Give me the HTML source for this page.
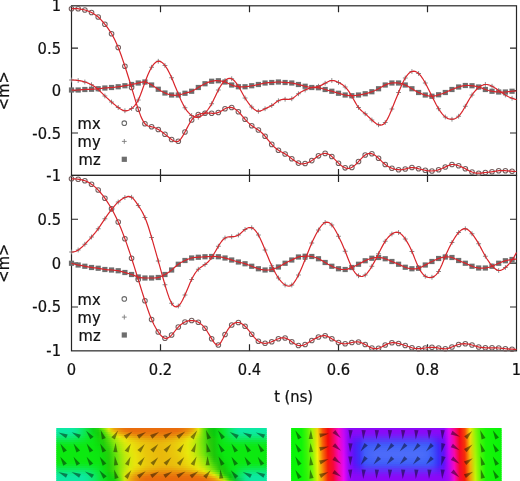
<!DOCTYPE html>
<html lang="en"><head><meta charset="utf-8"><title>m(t) comparison</title>
<style>html,body{margin:0;padding:0;background:#fff}body{width:520px;height:481px;overflow:hidden;position:relative}svg{position:absolute;left:0;top:0;display:block;filter:blur(0.35px)}text{font-family:"DejaVu Sans", "Liberation Sans", sans-serif;font-size:15.4px;fill:#111;stroke:#111;stroke-width:0.25px}</style></head><body>
<svg width="520" height="492" viewBox="0 0 520 492">
<rect width="520" height="492" fill="#fff"/>
<defs>
<linearGradient id="L0" gradientUnits="userSpaceOnUse" x1="56.25" y1="0" x2="266.81" y2="0"><stop offset="0.000" stop-color="#0ce9a3"/><stop offset="0.025" stop-color="#0ce9a3"/><stop offset="0.050" stop-color="#0ce9a3"/><stop offset="0.075" stop-color="#0ce9a1"/><stop offset="0.100" stop-color="#0ce98a"/><stop offset="0.125" stop-color="#0ce864"/><stop offset="0.150" stop-color="#0ce03a"/><stop offset="0.175" stop-color="#0bd119"/><stop offset="0.200" stop-color="#20d60b"/><stop offset="0.225" stop-color="#7ae50c"/><stop offset="0.250" stop-color="#e8e40c"/><stop offset="0.275" stop-color="#e9a40c"/><stop offset="0.300" stop-color="#e9860c"/><stop offset="0.325" stop-color="#e9740c"/><stop offset="0.350" stop-color="#e96c0c"/><stop offset="0.375" stop-color="#e96c0c"/><stop offset="0.400" stop-color="#e96c0c"/><stop offset="0.425" stop-color="#e96c0c"/><stop offset="0.450" stop-color="#e96c0c"/><stop offset="0.475" stop-color="#e96c0c"/><stop offset="0.500" stop-color="#e96c0c"/><stop offset="0.525" stop-color="#e96c0c"/><stop offset="0.550" stop-color="#e96c0c"/><stop offset="0.575" stop-color="#e96c0c"/><stop offset="0.600" stop-color="#e9760c"/><stop offset="0.625" stop-color="#e9890c"/><stop offset="0.650" stop-color="#e9aa0c"/><stop offset="0.675" stop-color="#e0e80c"/><stop offset="0.700" stop-color="#6be10c"/><stop offset="0.725" stop-color="#19cb0b"/><stop offset="0.750" stop-color="#0bc80e"/><stop offset="0.775" stop-color="#0cdf17"/><stop offset="0.800" stop-color="#0ce839"/><stop offset="0.825" stop-color="#0ce966"/><stop offset="0.850" stop-color="#0ce98f"/><stop offset="0.875" stop-color="#0ce9a3"/><stop offset="0.900" stop-color="#0ce9a3"/><stop offset="0.925" stop-color="#0ce9a3"/><stop offset="0.950" stop-color="#0ce9a3"/><stop offset="0.975" stop-color="#0ce9a3"/><stop offset="1.000" stop-color="#0ce9a3"/></linearGradient>
<linearGradient id="L1" gradientUnits="userSpaceOnUse" x1="56.25" y1="0" x2="266.81" y2="0"><stop offset="0.000" stop-color="#0ce9a3"/><stop offset="0.025" stop-color="#0ce9a3"/><stop offset="0.050" stop-color="#0ce9a3"/><stop offset="0.075" stop-color="#0ce9a0"/><stop offset="0.100" stop-color="#0ce98a"/><stop offset="0.125" stop-color="#0ce864"/><stop offset="0.150" stop-color="#0ce43b"/><stop offset="0.175" stop-color="#0bd519"/><stop offset="0.200" stop-color="#17d20b"/><stop offset="0.225" stop-color="#5be10c"/><stop offset="0.250" stop-color="#cae80c"/><stop offset="0.275" stop-color="#e9bb0c"/><stop offset="0.300" stop-color="#e9950c"/><stop offset="0.325" stop-color="#e97d0c"/><stop offset="0.350" stop-color="#e9710c"/><stop offset="0.375" stop-color="#e96e0c"/><stop offset="0.400" stop-color="#e96e0c"/><stop offset="0.425" stop-color="#e96e0c"/><stop offset="0.450" stop-color="#e96e0c"/><stop offset="0.475" stop-color="#e96e0c"/><stop offset="0.500" stop-color="#e96e0c"/><stop offset="0.525" stop-color="#e96e0c"/><stop offset="0.550" stop-color="#e96e0c"/><stop offset="0.575" stop-color="#e96f0c"/><stop offset="0.600" stop-color="#e97b0c"/><stop offset="0.625" stop-color="#e9910c"/><stop offset="0.650" stop-color="#e9b30c"/><stop offset="0.675" stop-color="#d7e80c"/><stop offset="0.700" stop-color="#6ae10c"/><stop offset="0.725" stop-color="#1cca0b"/><stop offset="0.750" stop-color="#0bc90e"/><stop offset="0.775" stop-color="#0ce017"/><stop offset="0.800" stop-color="#0ce839"/><stop offset="0.825" stop-color="#0ce966"/><stop offset="0.850" stop-color="#0ce98f"/><stop offset="0.875" stop-color="#0ce9a2"/><stop offset="0.900" stop-color="#0ce9a3"/><stop offset="0.925" stop-color="#0ce9a3"/><stop offset="0.950" stop-color="#0ce9a3"/><stop offset="0.975" stop-color="#0ce9a3"/><stop offset="1.000" stop-color="#0ce9a3"/></linearGradient>
<linearGradient id="L2" gradientUnits="userSpaceOnUse" x1="56.25" y1="0" x2="266.81" y2="0"><stop offset="0.000" stop-color="#0ce99b"/><stop offset="0.025" stop-color="#0ce99b"/><stop offset="0.050" stop-color="#0ce99b"/><stop offset="0.075" stop-color="#0ce999"/><stop offset="0.100" stop-color="#0ce984"/><stop offset="0.125" stop-color="#0ce860"/><stop offset="0.150" stop-color="#0ce639"/><stop offset="0.175" stop-color="#0bd919"/><stop offset="0.200" stop-color="#13cf0b"/><stop offset="0.225" stop-color="#44dd0c"/><stop offset="0.250" stop-color="#a8e70c"/><stop offset="0.275" stop-color="#e9d60c"/><stop offset="0.300" stop-color="#e9aa0c"/><stop offset="0.325" stop-color="#e9910c"/><stop offset="0.350" stop-color="#e9810c"/><stop offset="0.375" stop-color="#e9770c"/><stop offset="0.400" stop-color="#e9760c"/><stop offset="0.425" stop-color="#e9760c"/><stop offset="0.450" stop-color="#e9760c"/><stop offset="0.475" stop-color="#e9760c"/><stop offset="0.500" stop-color="#e9760c"/><stop offset="0.525" stop-color="#e9760c"/><stop offset="0.550" stop-color="#e9760c"/><stop offset="0.575" stop-color="#e97d0c"/><stop offset="0.600" stop-color="#e9880c"/><stop offset="0.625" stop-color="#e9a00c"/><stop offset="0.650" stop-color="#e9c40c"/><stop offset="0.675" stop-color="#cbe80c"/><stop offset="0.700" stop-color="#6ae00c"/><stop offset="0.725" stop-color="#20ca0b"/><stop offset="0.750" stop-color="#0bca0e"/><stop offset="0.775" stop-color="#0ce016"/><stop offset="0.800" stop-color="#0ce837"/><stop offset="0.825" stop-color="#0ce962"/><stop offset="0.850" stop-color="#0ce988"/><stop offset="0.875" stop-color="#0ce99b"/><stop offset="0.900" stop-color="#0ce99b"/><stop offset="0.925" stop-color="#0ce99b"/><stop offset="0.950" stop-color="#0ce99b"/><stop offset="0.975" stop-color="#0ce99b"/><stop offset="1.000" stop-color="#0ce99b"/></linearGradient>
<linearGradient id="L3" gradientUnits="userSpaceOnUse" x1="56.25" y1="0" x2="266.81" y2="0"><stop offset="0.000" stop-color="#0ce98b"/><stop offset="0.025" stop-color="#0ce98b"/><stop offset="0.050" stop-color="#0ce98b"/><stop offset="0.075" stop-color="#0ce989"/><stop offset="0.100" stop-color="#0ce976"/><stop offset="0.125" stop-color="#0ce957"/><stop offset="0.150" stop-color="#0ce735"/><stop offset="0.175" stop-color="#0cde19"/><stop offset="0.200" stop-color="#13d00b"/><stop offset="0.225" stop-color="#36d80b"/><stop offset="0.250" stop-color="#8ae60c"/><stop offset="0.275" stop-color="#d7e80c"/><stop offset="0.300" stop-color="#e9c90c"/><stop offset="0.325" stop-color="#e9ac0c"/><stop offset="0.350" stop-color="#e9980c"/><stop offset="0.375" stop-color="#e98c0c"/><stop offset="0.400" stop-color="#e9840c"/><stop offset="0.425" stop-color="#e9820c"/><stop offset="0.450" stop-color="#e9820c"/><stop offset="0.475" stop-color="#e9820c"/><stop offset="0.500" stop-color="#e9820c"/><stop offset="0.525" stop-color="#e9820c"/><stop offset="0.550" stop-color="#e9870c"/><stop offset="0.575" stop-color="#e98f0c"/><stop offset="0.600" stop-color="#e99f0c"/><stop offset="0.625" stop-color="#e9b30c"/><stop offset="0.650" stop-color="#e9d70c"/><stop offset="0.675" stop-color="#bce80c"/><stop offset="0.700" stop-color="#6ae00c"/><stop offset="0.725" stop-color="#26c90b"/><stop offset="0.750" stop-color="#0bcb0d"/><stop offset="0.775" stop-color="#0ce116"/><stop offset="0.800" stop-color="#0ce832"/><stop offset="0.825" stop-color="#0ce958"/><stop offset="0.850" stop-color="#0ce97a"/><stop offset="0.875" stop-color="#0ce98b"/><stop offset="0.900" stop-color="#0ce98b"/><stop offset="0.925" stop-color="#0ce98b"/><stop offset="0.950" stop-color="#0ce98b"/><stop offset="0.975" stop-color="#0ce98b"/><stop offset="1.000" stop-color="#0ce98b"/></linearGradient>
<linearGradient id="L4" gradientUnits="userSpaceOnUse" x1="56.25" y1="0" x2="266.81" y2="0"><stop offset="0.000" stop-color="#0ce975"/><stop offset="0.025" stop-color="#0ce975"/><stop offset="0.050" stop-color="#0ce975"/><stop offset="0.075" stop-color="#0ce973"/><stop offset="0.100" stop-color="#0ce964"/><stop offset="0.125" stop-color="#0ce94a"/><stop offset="0.150" stop-color="#0ce82e"/><stop offset="0.175" stop-color="#0ce217"/><stop offset="0.200" stop-color="#15d30b"/><stop offset="0.225" stop-color="#2fd30b"/><stop offset="0.250" stop-color="#73e30c"/><stop offset="0.275" stop-color="#b5e80c"/><stop offset="0.300" stop-color="#e9e60c"/><stop offset="0.325" stop-color="#e9c60c"/><stop offset="0.350" stop-color="#e9b40c"/><stop offset="0.375" stop-color="#e9a30c"/><stop offset="0.400" stop-color="#e99a0c"/><stop offset="0.425" stop-color="#e9930c"/><stop offset="0.450" stop-color="#e9910c"/><stop offset="0.475" stop-color="#e9910c"/><stop offset="0.500" stop-color="#e9910c"/><stop offset="0.525" stop-color="#e9940c"/><stop offset="0.550" stop-color="#e99b0c"/><stop offset="0.575" stop-color="#e9a50c"/><stop offset="0.600" stop-color="#e9b50c"/><stop offset="0.625" stop-color="#e9ca0c"/><stop offset="0.650" stop-color="#e7e90c"/><stop offset="0.675" stop-color="#afe80c"/><stop offset="0.700" stop-color="#6adf0c"/><stop offset="0.725" stop-color="#2ac80b"/><stop offset="0.750" stop-color="#11cb0b"/><stop offset="0.775" stop-color="#0ce114"/><stop offset="0.800" stop-color="#0ce82c"/><stop offset="0.825" stop-color="#0ce94b"/><stop offset="0.850" stop-color="#0ce967"/><stop offset="0.875" stop-color="#0ce975"/><stop offset="0.900" stop-color="#0ce975"/><stop offset="0.925" stop-color="#0ce975"/><stop offset="0.950" stop-color="#0ce975"/><stop offset="0.975" stop-color="#0ce975"/><stop offset="1.000" stop-color="#0ce975"/></linearGradient>
<linearGradient id="L5" gradientUnits="userSpaceOnUse" x1="56.25" y1="0" x2="266.81" y2="0"><stop offset="0.000" stop-color="#0ce95c"/><stop offset="0.025" stop-color="#0ce95c"/><stop offset="0.050" stop-color="#0ce95c"/><stop offset="0.075" stop-color="#0ce95b"/><stop offset="0.100" stop-color="#0ce94f"/><stop offset="0.125" stop-color="#0ce93c"/><stop offset="0.150" stop-color="#0ce827"/><stop offset="0.175" stop-color="#0ce516"/><stop offset="0.200" stop-color="#15d70b"/><stop offset="0.225" stop-color="#2ad00b"/><stop offset="0.250" stop-color="#61e00c"/><stop offset="0.275" stop-color="#9de80c"/><stop offset="0.300" stop-color="#d2e90c"/><stop offset="0.325" stop-color="#e9e00c"/><stop offset="0.350" stop-color="#e9c90c"/><stop offset="0.375" stop-color="#e9bb0c"/><stop offset="0.400" stop-color="#e9ad0c"/><stop offset="0.425" stop-color="#e9a70c"/><stop offset="0.450" stop-color="#e9a10c"/><stop offset="0.475" stop-color="#e99f0c"/><stop offset="0.500" stop-color="#e9a00c"/><stop offset="0.525" stop-color="#e9a60c"/><stop offset="0.550" stop-color="#e9ac0c"/><stop offset="0.575" stop-color="#e9b90c"/><stop offset="0.600" stop-color="#e9c70c"/><stop offset="0.625" stop-color="#e9dd0c"/><stop offset="0.650" stop-color="#d9e90c"/><stop offset="0.675" stop-color="#a4e80c"/><stop offset="0.700" stop-color="#68df0c"/><stop offset="0.725" stop-color="#2cc80b"/><stop offset="0.750" stop-color="#17cc0b"/><stop offset="0.775" stop-color="#0ce213"/><stop offset="0.800" stop-color="#0ce825"/><stop offset="0.825" stop-color="#0ce93c"/><stop offset="0.850" stop-color="#0ce951"/><stop offset="0.875" stop-color="#0ce95c"/><stop offset="0.900" stop-color="#0ce95c"/><stop offset="0.925" stop-color="#0ce95c"/><stop offset="0.950" stop-color="#0ce95c"/><stop offset="0.975" stop-color="#0ce95c"/><stop offset="1.000" stop-color="#0ce95c"/></linearGradient>
<linearGradient id="L6" gradientUnits="userSpaceOnUse" x1="56.25" y1="0" x2="266.81" y2="0"><stop offset="0.000" stop-color="#0ce942"/><stop offset="0.025" stop-color="#0ce942"/><stop offset="0.050" stop-color="#0ce942"/><stop offset="0.075" stop-color="#0ce942"/><stop offset="0.100" stop-color="#0ce93a"/><stop offset="0.125" stop-color="#0ce92d"/><stop offset="0.150" stop-color="#0ce81f"/><stop offset="0.175" stop-color="#0ce614"/><stop offset="0.200" stop-color="#12d90b"/><stop offset="0.225" stop-color="#26cf0b"/><stop offset="0.250" stop-color="#55de0c"/><stop offset="0.275" stop-color="#90e70c"/><stop offset="0.300" stop-color="#c2e90c"/><stop offset="0.325" stop-color="#e2e90c"/><stop offset="0.350" stop-color="#e9d70c"/><stop offset="0.375" stop-color="#e9c90c"/><stop offset="0.400" stop-color="#e9bb0c"/><stop offset="0.425" stop-color="#e9b50c"/><stop offset="0.450" stop-color="#e9af0c"/><stop offset="0.475" stop-color="#e9ac0c"/><stop offset="0.500" stop-color="#e9ad0c"/><stop offset="0.525" stop-color="#e9b30c"/><stop offset="0.550" stop-color="#e9b90c"/><stop offset="0.575" stop-color="#e9c50c"/><stop offset="0.600" stop-color="#e9d20c"/><stop offset="0.625" stop-color="#e9e60c"/><stop offset="0.650" stop-color="#d1e90c"/><stop offset="0.675" stop-color="#a0e80c"/><stop offset="0.700" stop-color="#67e00c"/><stop offset="0.725" stop-color="#2dc90b"/><stop offset="0.750" stop-color="#17cb0b"/><stop offset="0.775" stop-color="#0ce112"/><stop offset="0.800" stop-color="#0ce81e"/><stop offset="0.825" stop-color="#0ce92e"/><stop offset="0.850" stop-color="#0ce93c"/><stop offset="0.875" stop-color="#0ce942"/><stop offset="0.900" stop-color="#0ce942"/><stop offset="0.925" stop-color="#0ce942"/><stop offset="0.950" stop-color="#0ce942"/><stop offset="0.975" stop-color="#0ce942"/><stop offset="1.000" stop-color="#0ce942"/></linearGradient>
<linearGradient id="L7" gradientUnits="userSpaceOnUse" x1="56.25" y1="0" x2="266.81" y2="0"><stop offset="0.000" stop-color="#0ce92b"/><stop offset="0.025" stop-color="#0ce92b"/><stop offset="0.050" stop-color="#0ce92b"/><stop offset="0.075" stop-color="#0ce92b"/><stop offset="0.100" stop-color="#0ce927"/><stop offset="0.125" stop-color="#0ce920"/><stop offset="0.150" stop-color="#0ce818"/><stop offset="0.175" stop-color="#0ce712"/><stop offset="0.200" stop-color="#0fdc0c"/><stop offset="0.225" stop-color="#22cf0b"/><stop offset="0.250" stop-color="#4bdb0c"/><stop offset="0.275" stop-color="#83e70c"/><stop offset="0.300" stop-color="#b5e80c"/><stop offset="0.325" stop-color="#d8e90c"/><stop offset="0.350" stop-color="#e9e10c"/><stop offset="0.375" stop-color="#e9d30c"/><stop offset="0.400" stop-color="#e9c60c"/><stop offset="0.425" stop-color="#e9bf0c"/><stop offset="0.450" stop-color="#e9b90c"/><stop offset="0.475" stop-color="#e9b50c"/><stop offset="0.500" stop-color="#e9b60c"/><stop offset="0.525" stop-color="#e9bc0c"/><stop offset="0.550" stop-color="#e9c10c"/><stop offset="0.575" stop-color="#e9cc0c"/><stop offset="0.600" stop-color="#e9da0c"/><stop offset="0.625" stop-color="#e5e90c"/><stop offset="0.650" stop-color="#cce90c"/><stop offset="0.675" stop-color="#9de80c"/><stop offset="0.700" stop-color="#67e00c"/><stop offset="0.725" stop-color="#2fca0b"/><stop offset="0.750" stop-color="#18ca0b"/><stop offset="0.775" stop-color="#0ce011"/><stop offset="0.800" stop-color="#0ce818"/><stop offset="0.825" stop-color="#0ce920"/><stop offset="0.850" stop-color="#0ce928"/><stop offset="0.875" stop-color="#0ce92b"/><stop offset="0.900" stop-color="#0ce92b"/><stop offset="0.925" stop-color="#0ce92b"/><stop offset="0.950" stop-color="#0ce92b"/><stop offset="0.975" stop-color="#0ce92b"/><stop offset="1.000" stop-color="#0ce92b"/></linearGradient>
<linearGradient id="L8" gradientUnits="userSpaceOnUse" x1="56.25" y1="0" x2="266.81" y2="0"><stop offset="0.000" stop-color="#0ce91a"/><stop offset="0.025" stop-color="#0ce91a"/><stop offset="0.050" stop-color="#0ce91a"/><stop offset="0.075" stop-color="#0ce91a"/><stop offset="0.100" stop-color="#0ce918"/><stop offset="0.125" stop-color="#0ce916"/><stop offset="0.150" stop-color="#0ce913"/><stop offset="0.175" stop-color="#0ce711"/><stop offset="0.200" stop-color="#0cde0c"/><stop offset="0.225" stop-color="#1fd00b"/><stop offset="0.250" stop-color="#42d90b"/><stop offset="0.275" stop-color="#7ae60c"/><stop offset="0.300" stop-color="#ace80c"/><stop offset="0.325" stop-color="#d1e90c"/><stop offset="0.350" stop-color="#e9e70c"/><stop offset="0.375" stop-color="#e9d80c"/><stop offset="0.400" stop-color="#e9cb0c"/><stop offset="0.425" stop-color="#e9c30c"/><stop offset="0.450" stop-color="#e9bd0c"/><stop offset="0.475" stop-color="#e9b90c"/><stop offset="0.500" stop-color="#e9ba0c"/><stop offset="0.525" stop-color="#e9bf0c"/><stop offset="0.550" stop-color="#e9c50c"/><stop offset="0.575" stop-color="#e9cf0c"/><stop offset="0.600" stop-color="#e9dc0c"/><stop offset="0.625" stop-color="#e3e90c"/><stop offset="0.650" stop-color="#cae90c"/><stop offset="0.675" stop-color="#9ee80c"/><stop offset="0.700" stop-color="#69e10c"/><stop offset="0.725" stop-color="#31cb0b"/><stop offset="0.750" stop-color="#18c90b"/><stop offset="0.775" stop-color="#0cdf10"/><stop offset="0.800" stop-color="#0ce813"/><stop offset="0.825" stop-color="#0ce916"/><stop offset="0.850" stop-color="#0ce919"/><stop offset="0.875" stop-color="#0ce91a"/><stop offset="0.900" stop-color="#0ce91a"/><stop offset="0.925" stop-color="#0ce91a"/><stop offset="0.950" stop-color="#0ce91a"/><stop offset="0.975" stop-color="#0ce91a"/><stop offset="1.000" stop-color="#0ce91a"/></linearGradient>
<linearGradient id="L9" gradientUnits="userSpaceOnUse" x1="56.25" y1="0" x2="266.81" y2="0"><stop offset="0.000" stop-color="#0ce911"/><stop offset="0.025" stop-color="#0ce911"/><stop offset="0.050" stop-color="#0ce911"/><stop offset="0.075" stop-color="#0ce911"/><stop offset="0.100" stop-color="#0ce911"/><stop offset="0.125" stop-color="#0ce910"/><stop offset="0.150" stop-color="#0ce910"/><stop offset="0.175" stop-color="#0ce810"/><stop offset="0.200" stop-color="#0ce00f"/><stop offset="0.225" stop-color="#1cd10b"/><stop offset="0.250" stop-color="#3ad60b"/><stop offset="0.275" stop-color="#72e50c"/><stop offset="0.300" stop-color="#a5e80c"/><stop offset="0.325" stop-color="#cee90c"/><stop offset="0.350" stop-color="#e7e90c"/><stop offset="0.375" stop-color="#e9da0c"/><stop offset="0.400" stop-color="#e9cd0c"/><stop offset="0.425" stop-color="#e9c40c"/><stop offset="0.450" stop-color="#e9be0c"/><stop offset="0.475" stop-color="#e9b90c"/><stop offset="0.500" stop-color="#e9b90c"/><stop offset="0.525" stop-color="#e9bf0c"/><stop offset="0.550" stop-color="#e9c40c"/><stop offset="0.575" stop-color="#e9cf0c"/><stop offset="0.600" stop-color="#e9dc0c"/><stop offset="0.625" stop-color="#e4e90c"/><stop offset="0.650" stop-color="#cbe90c"/><stop offset="0.675" stop-color="#a0e80c"/><stop offset="0.700" stop-color="#6be20c"/><stop offset="0.725" stop-color="#33cc0b"/><stop offset="0.750" stop-color="#19c80b"/><stop offset="0.775" stop-color="#0cde0f"/><stop offset="0.800" stop-color="#0ce810"/><stop offset="0.825" stop-color="#0ce910"/><stop offset="0.850" stop-color="#0ce911"/><stop offset="0.875" stop-color="#0ce911"/><stop offset="0.900" stop-color="#0ce911"/><stop offset="0.925" stop-color="#0ce911"/><stop offset="0.950" stop-color="#0ce911"/><stop offset="0.975" stop-color="#0ce911"/><stop offset="1.000" stop-color="#0ce911"/></linearGradient>
<linearGradient id="L10" gradientUnits="userSpaceOnUse" x1="56.25" y1="0" x2="266.81" y2="0"><stop offset="0.000" stop-color="#0ce910"/><stop offset="0.025" stop-color="#0ce910"/><stop offset="0.050" stop-color="#0ce910"/><stop offset="0.075" stop-color="#0ce910"/><stop offset="0.100" stop-color="#0ce910"/><stop offset="0.125" stop-color="#0ce910"/><stop offset="0.150" stop-color="#0ce910"/><stop offset="0.175" stop-color="#0ce810"/><stop offset="0.200" stop-color="#0ce20f"/><stop offset="0.225" stop-color="#1ad20b"/><stop offset="0.250" stop-color="#33d40b"/><stop offset="0.275" stop-color="#6ae30c"/><stop offset="0.300" stop-color="#9ee80c"/><stop offset="0.325" stop-color="#cae90c"/><stop offset="0.350" stop-color="#e3e90c"/><stop offset="0.375" stop-color="#e9dc0c"/><stop offset="0.400" stop-color="#e9cf0c"/><stop offset="0.425" stop-color="#e9c50c"/><stop offset="0.450" stop-color="#e9bf0c"/><stop offset="0.475" stop-color="#e9ba0c"/><stop offset="0.500" stop-color="#e9b90c"/><stop offset="0.525" stop-color="#e9bf0c"/><stop offset="0.550" stop-color="#e9c40c"/><stop offset="0.575" stop-color="#e9ce0c"/><stop offset="0.600" stop-color="#e9db0c"/><stop offset="0.625" stop-color="#e6e90c"/><stop offset="0.650" stop-color="#cde90c"/><stop offset="0.675" stop-color="#a2e80c"/><stop offset="0.700" stop-color="#6ee20c"/><stop offset="0.725" stop-color="#36cd0b"/><stop offset="0.750" stop-color="#1ac70a"/><stop offset="0.775" stop-color="#0cde0f"/><stop offset="0.800" stop-color="#0ce810"/><stop offset="0.825" stop-color="#0ce910"/><stop offset="0.850" stop-color="#0ce910"/><stop offset="0.875" stop-color="#0ce910"/><stop offset="0.900" stop-color="#0ce910"/><stop offset="0.925" stop-color="#0ce910"/><stop offset="0.950" stop-color="#0ce910"/><stop offset="0.975" stop-color="#0ce910"/><stop offset="1.000" stop-color="#0ce910"/></linearGradient>
<linearGradient id="L11" gradientUnits="userSpaceOnUse" x1="56.25" y1="0" x2="266.81" y2="0"><stop offset="0.000" stop-color="#0ce910"/><stop offset="0.025" stop-color="#0ce910"/><stop offset="0.050" stop-color="#0ce910"/><stop offset="0.075" stop-color="#0ce910"/><stop offset="0.100" stop-color="#0ce910"/><stop offset="0.125" stop-color="#0ce910"/><stop offset="0.150" stop-color="#0ce910"/><stop offset="0.175" stop-color="#0ce810"/><stop offset="0.200" stop-color="#0ce410"/><stop offset="0.225" stop-color="#17d40b"/><stop offset="0.250" stop-color="#2bd20b"/><stop offset="0.275" stop-color="#62e20c"/><stop offset="0.300" stop-color="#97e80c"/><stop offset="0.325" stop-color="#c6e90c"/><stop offset="0.350" stop-color="#e0e90c"/><stop offset="0.375" stop-color="#e9de0c"/><stop offset="0.400" stop-color="#e9d10c"/><stop offset="0.425" stop-color="#e9c50c"/><stop offset="0.450" stop-color="#e9c00c"/><stop offset="0.475" stop-color="#e9ba0c"/><stop offset="0.500" stop-color="#e9b90c"/><stop offset="0.525" stop-color="#e9be0c"/><stop offset="0.550" stop-color="#e9c40c"/><stop offset="0.575" stop-color="#e9cd0c"/><stop offset="0.600" stop-color="#e9da0c"/><stop offset="0.625" stop-color="#e7e90c"/><stop offset="0.650" stop-color="#cee90c"/><stop offset="0.675" stop-color="#a5e80c"/><stop offset="0.700" stop-color="#71e30c"/><stop offset="0.725" stop-color="#38ce0b"/><stop offset="0.750" stop-color="#1bc60a"/><stop offset="0.775" stop-color="#0cdd0f"/><stop offset="0.800" stop-color="#0ce710"/><stop offset="0.825" stop-color="#0ce910"/><stop offset="0.850" stop-color="#0ce910"/><stop offset="0.875" stop-color="#0ce910"/><stop offset="0.900" stop-color="#0ce910"/><stop offset="0.925" stop-color="#0ce910"/><stop offset="0.950" stop-color="#0ce910"/><stop offset="0.975" stop-color="#0ce910"/><stop offset="1.000" stop-color="#0ce910"/></linearGradient>
<linearGradient id="L12" gradientUnits="userSpaceOnUse" x1="56.25" y1="0" x2="266.81" y2="0"><stop offset="0.000" stop-color="#0ce910"/><stop offset="0.025" stop-color="#0ce910"/><stop offset="0.050" stop-color="#0ce910"/><stop offset="0.075" stop-color="#0ce910"/><stop offset="0.100" stop-color="#0ce910"/><stop offset="0.125" stop-color="#0ce910"/><stop offset="0.150" stop-color="#0ce910"/><stop offset="0.175" stop-color="#0ce810"/><stop offset="0.200" stop-color="#0ce510"/><stop offset="0.225" stop-color="#14d70b"/><stop offset="0.250" stop-color="#27d00b"/><stop offset="0.275" stop-color="#59e00c"/><stop offset="0.300" stop-color="#90e80c"/><stop offset="0.325" stop-color="#bfe90c"/><stop offset="0.350" stop-color="#dce90c"/><stop offset="0.375" stop-color="#e9e00c"/><stop offset="0.400" stop-color="#e9d30c"/><stop offset="0.425" stop-color="#e9c60c"/><stop offset="0.450" stop-color="#e9c10c"/><stop offset="0.475" stop-color="#e9bb0c"/><stop offset="0.500" stop-color="#e9b90c"/><stop offset="0.525" stop-color="#e9be0c"/><stop offset="0.550" stop-color="#e9c40c"/><stop offset="0.575" stop-color="#e9cd0c"/><stop offset="0.600" stop-color="#e9da0c"/><stop offset="0.625" stop-color="#e8e90c"/><stop offset="0.650" stop-color="#cfe90c"/><stop offset="0.675" stop-color="#a7e80c"/><stop offset="0.700" stop-color="#74e40c"/><stop offset="0.725" stop-color="#3bcf0b"/><stop offset="0.750" stop-color="#1cc60a"/><stop offset="0.775" stop-color="#0cdc0d"/><stop offset="0.800" stop-color="#0ce710"/><stop offset="0.825" stop-color="#0ce910"/><stop offset="0.850" stop-color="#0ce910"/><stop offset="0.875" stop-color="#0ce910"/><stop offset="0.900" stop-color="#0ce910"/><stop offset="0.925" stop-color="#0ce910"/><stop offset="0.950" stop-color="#0ce910"/><stop offset="0.975" stop-color="#0ce910"/><stop offset="1.000" stop-color="#0ce910"/></linearGradient>
<linearGradient id="L13" gradientUnits="userSpaceOnUse" x1="56.25" y1="0" x2="266.81" y2="0"><stop offset="0.000" stop-color="#0ce910"/><stop offset="0.025" stop-color="#0ce910"/><stop offset="0.050" stop-color="#0ce910"/><stop offset="0.075" stop-color="#0ce910"/><stop offset="0.100" stop-color="#0ce910"/><stop offset="0.125" stop-color="#0ce910"/><stop offset="0.150" stop-color="#0ce910"/><stop offset="0.175" stop-color="#0ce810"/><stop offset="0.200" stop-color="#0ce610"/><stop offset="0.225" stop-color="#12d90b"/><stop offset="0.250" stop-color="#25d00b"/><stop offset="0.275" stop-color="#53de0c"/><stop offset="0.300" stop-color="#8be70c"/><stop offset="0.325" stop-color="#bae90c"/><stop offset="0.350" stop-color="#d9e90c"/><stop offset="0.375" stop-color="#e9e20c"/><stop offset="0.400" stop-color="#e9d40c"/><stop offset="0.425" stop-color="#e9c70c"/><stop offset="0.450" stop-color="#e9c10c"/><stop offset="0.475" stop-color="#e9bc0c"/><stop offset="0.500" stop-color="#e9b90c"/><stop offset="0.525" stop-color="#e9bd0c"/><stop offset="0.550" stop-color="#e9c30c"/><stop offset="0.575" stop-color="#e9cb0c"/><stop offset="0.600" stop-color="#e9d80c"/><stop offset="0.625" stop-color="#e9e60c"/><stop offset="0.650" stop-color="#d2e90c"/><stop offset="0.675" stop-color="#ace80c"/><stop offset="0.700" stop-color="#7ae50c"/><stop offset="0.725" stop-color="#40d20b"/><stop offset="0.750" stop-color="#1dc50a"/><stop offset="0.775" stop-color="#0cd90b"/><stop offset="0.800" stop-color="#0ce710"/><stop offset="0.825" stop-color="#0ce910"/><stop offset="0.850" stop-color="#0ce910"/><stop offset="0.875" stop-color="#0ce910"/><stop offset="0.900" stop-color="#0ce910"/><stop offset="0.925" stop-color="#0ce910"/><stop offset="0.950" stop-color="#0ce910"/><stop offset="0.975" stop-color="#0ce910"/><stop offset="1.000" stop-color="#0ce910"/></linearGradient>
<linearGradient id="L14" gradientUnits="userSpaceOnUse" x1="56.25" y1="0" x2="266.81" y2="0"><stop offset="0.000" stop-color="#0ce910"/><stop offset="0.025" stop-color="#0ce910"/><stop offset="0.050" stop-color="#0ce910"/><stop offset="0.075" stop-color="#0ce910"/><stop offset="0.100" stop-color="#0ce910"/><stop offset="0.125" stop-color="#0ce910"/><stop offset="0.150" stop-color="#0ce910"/><stop offset="0.175" stop-color="#0ce810"/><stop offset="0.200" stop-color="#0ce610"/><stop offset="0.225" stop-color="#11da0b"/><stop offset="0.250" stop-color="#24cf0b"/><stop offset="0.275" stop-color="#50dd0c"/><stop offset="0.300" stop-color="#88e70c"/><stop offset="0.325" stop-color="#b8e90c"/><stop offset="0.350" stop-color="#d8e90c"/><stop offset="0.375" stop-color="#e9e20c"/><stop offset="0.400" stop-color="#e9d50c"/><stop offset="0.425" stop-color="#e9c80c"/><stop offset="0.450" stop-color="#e9c20c"/><stop offset="0.475" stop-color="#e9bc0c"/><stop offset="0.500" stop-color="#e9b90c"/><stop offset="0.525" stop-color="#e9bc0c"/><stop offset="0.550" stop-color="#e9c20c"/><stop offset="0.575" stop-color="#e9c80c"/><stop offset="0.600" stop-color="#e9d60c"/><stop offset="0.625" stop-color="#e9e30c"/><stop offset="0.650" stop-color="#d7e90c"/><stop offset="0.675" stop-color="#b6e80c"/><stop offset="0.700" stop-color="#86e60c"/><stop offset="0.725" stop-color="#4dd70b"/><stop offset="0.750" stop-color="#21c40a"/><stop offset="0.775" stop-color="#10d40b"/><stop offset="0.800" stop-color="#0ce510"/><stop offset="0.825" stop-color="#0ce810"/><stop offset="0.850" stop-color="#0ce910"/><stop offset="0.875" stop-color="#0ce910"/><stop offset="0.900" stop-color="#0ce910"/><stop offset="0.925" stop-color="#0ce910"/><stop offset="0.950" stop-color="#0ce910"/><stop offset="0.975" stop-color="#0ce910"/><stop offset="1.000" stop-color="#0ce910"/></linearGradient>
<linearGradient id="L15" gradientUnits="userSpaceOnUse" x1="56.25" y1="0" x2="266.81" y2="0"><stop offset="0.000" stop-color="#0ce910"/><stop offset="0.025" stop-color="#0ce910"/><stop offset="0.050" stop-color="#0ce910"/><stop offset="0.075" stop-color="#0ce910"/><stop offset="0.100" stop-color="#0ce910"/><stop offset="0.125" stop-color="#0ce910"/><stop offset="0.150" stop-color="#0ce910"/><stop offset="0.175" stop-color="#0ce810"/><stop offset="0.200" stop-color="#0ce610"/><stop offset="0.225" stop-color="#10da0b"/><stop offset="0.250" stop-color="#23cf0b"/><stop offset="0.275" stop-color="#4edc0c"/><stop offset="0.300" stop-color="#86e70c"/><stop offset="0.325" stop-color="#b6e90c"/><stop offset="0.350" stop-color="#d7e90c"/><stop offset="0.375" stop-color="#e9e30c"/><stop offset="0.400" stop-color="#e9d60c"/><stop offset="0.425" stop-color="#e9c90c"/><stop offset="0.450" stop-color="#e9c20c"/><stop offset="0.475" stop-color="#e9bc0c"/><stop offset="0.500" stop-color="#e9b90c"/><stop offset="0.525" stop-color="#e9bb0c"/><stop offset="0.550" stop-color="#e9c10c"/><stop offset="0.575" stop-color="#e9c60c"/><stop offset="0.600" stop-color="#e9d30c"/><stop offset="0.625" stop-color="#e9e00c"/><stop offset="0.650" stop-color="#dce90c"/><stop offset="0.675" stop-color="#c0e90c"/><stop offset="0.700" stop-color="#91e70c"/><stop offset="0.725" stop-color="#59dc0c"/><stop offset="0.750" stop-color="#26c60a"/><stop offset="0.775" stop-color="#14cf0b"/><stop offset="0.800" stop-color="#0ce310"/><stop offset="0.825" stop-color="#0ce810"/><stop offset="0.850" stop-color="#0ce910"/><stop offset="0.875" stop-color="#0ce910"/><stop offset="0.900" stop-color="#0ce910"/><stop offset="0.925" stop-color="#0ce910"/><stop offset="0.950" stop-color="#0ce910"/><stop offset="0.975" stop-color="#0ce910"/><stop offset="1.000" stop-color="#0ce910"/></linearGradient>
<linearGradient id="L16" gradientUnits="userSpaceOnUse" x1="56.25" y1="0" x2="266.81" y2="0"><stop offset="0.000" stop-color="#0ce910"/><stop offset="0.025" stop-color="#0ce910"/><stop offset="0.050" stop-color="#0ce910"/><stop offset="0.075" stop-color="#0ce910"/><stop offset="0.100" stop-color="#0ce910"/><stop offset="0.125" stop-color="#0ce910"/><stop offset="0.150" stop-color="#0ce910"/><stop offset="0.175" stop-color="#0ce810"/><stop offset="0.200" stop-color="#0ce710"/><stop offset="0.225" stop-color="#0fdb0c"/><stop offset="0.250" stop-color="#22cf0b"/><stop offset="0.275" stop-color="#4bdc0c"/><stop offset="0.300" stop-color="#83e70c"/><stop offset="0.325" stop-color="#b3e80c"/><stop offset="0.350" stop-color="#d6e90c"/><stop offset="0.375" stop-color="#e9e30c"/><stop offset="0.400" stop-color="#e9d60c"/><stop offset="0.425" stop-color="#e9c90c"/><stop offset="0.450" stop-color="#e9c20c"/><stop offset="0.475" stop-color="#e9bd0c"/><stop offset="0.500" stop-color="#e9b90c"/><stop offset="0.525" stop-color="#e9ba0c"/><stop offset="0.550" stop-color="#e9bf0c"/><stop offset="0.575" stop-color="#e9c50c"/><stop offset="0.600" stop-color="#e9d00c"/><stop offset="0.625" stop-color="#e9dd0c"/><stop offset="0.650" stop-color="#e2e90c"/><stop offset="0.675" stop-color="#c9e90c"/><stop offset="0.700" stop-color="#9be80c"/><stop offset="0.725" stop-color="#66e00c"/><stop offset="0.750" stop-color="#2eca0b"/><stop offset="0.775" stop-color="#17ca0b"/><stop offset="0.800" stop-color="#0ce00f"/><stop offset="0.825" stop-color="#0ce810"/><stop offset="0.850" stop-color="#0ce910"/><stop offset="0.875" stop-color="#0ce910"/><stop offset="0.900" stop-color="#0ce910"/><stop offset="0.925" stop-color="#0ce910"/><stop offset="0.950" stop-color="#0ce910"/><stop offset="0.975" stop-color="#0ce910"/><stop offset="1.000" stop-color="#0ce910"/></linearGradient>
<linearGradient id="L17" gradientUnits="userSpaceOnUse" x1="56.25" y1="0" x2="266.81" y2="0"><stop offset="0.000" stop-color="#0ce916"/><stop offset="0.025" stop-color="#0ce916"/><stop offset="0.050" stop-color="#0ce916"/><stop offset="0.075" stop-color="#0ce916"/><stop offset="0.100" stop-color="#0ce916"/><stop offset="0.125" stop-color="#0ce916"/><stop offset="0.150" stop-color="#0ce915"/><stop offset="0.175" stop-color="#0ce914"/><stop offset="0.200" stop-color="#0ce712"/><stop offset="0.225" stop-color="#0edc0c"/><stop offset="0.250" stop-color="#21cf0b"/><stop offset="0.275" stop-color="#48db0c"/><stop offset="0.300" stop-color="#80e70c"/><stop offset="0.325" stop-color="#b1e80c"/><stop offset="0.350" stop-color="#d4e90c"/><stop offset="0.375" stop-color="#e9e40c"/><stop offset="0.400" stop-color="#e9d70c"/><stop offset="0.425" stop-color="#e9ca0c"/><stop offset="0.450" stop-color="#e9c20c"/><stop offset="0.475" stop-color="#e9bd0c"/><stop offset="0.500" stop-color="#e9b90c"/><stop offset="0.525" stop-color="#e9b90c"/><stop offset="0.550" stop-color="#e9be0c"/><stop offset="0.575" stop-color="#e9c40c"/><stop offset="0.600" stop-color="#e9cd0c"/><stop offset="0.625" stop-color="#e9da0c"/><stop offset="0.650" stop-color="#e7e90c"/><stop offset="0.675" stop-color="#cee90c"/><stop offset="0.700" stop-color="#a6e80c"/><stop offset="0.725" stop-color="#72e30c"/><stop offset="0.750" stop-color="#39cf0b"/><stop offset="0.775" stop-color="#1bc60a"/><stop offset="0.800" stop-color="#0cdc0e"/><stop offset="0.825" stop-color="#0ce710"/><stop offset="0.850" stop-color="#0ce912"/><stop offset="0.875" stop-color="#0ce914"/><stop offset="0.900" stop-color="#0ce915"/><stop offset="0.925" stop-color="#0ce916"/><stop offset="0.950" stop-color="#0ce916"/><stop offset="0.975" stop-color="#0ce916"/><stop offset="1.000" stop-color="#0ce916"/></linearGradient>
<linearGradient id="L18" gradientUnits="userSpaceOnUse" x1="56.25" y1="0" x2="266.81" y2="0"><stop offset="0.000" stop-color="#0ce925"/><stop offset="0.025" stop-color="#0ce925"/><stop offset="0.050" stop-color="#0ce925"/><stop offset="0.075" stop-color="#0ce925"/><stop offset="0.100" stop-color="#0ce925"/><stop offset="0.125" stop-color="#0ce925"/><stop offset="0.150" stop-color="#0ce923"/><stop offset="0.175" stop-color="#0ce91e"/><stop offset="0.200" stop-color="#0ce718"/><stop offset="0.225" stop-color="#0cdd0d"/><stop offset="0.250" stop-color="#20cf0b"/><stop offset="0.275" stop-color="#46da0b"/><stop offset="0.300" stop-color="#7fe60c"/><stop offset="0.325" stop-color="#b0e80c"/><stop offset="0.350" stop-color="#d5e90c"/><stop offset="0.375" stop-color="#e9e30c"/><stop offset="0.400" stop-color="#e9d60c"/><stop offset="0.425" stop-color="#e9c90c"/><stop offset="0.450" stop-color="#e9c10c"/><stop offset="0.475" stop-color="#e9bb0c"/><stop offset="0.500" stop-color="#e9b70c"/><stop offset="0.525" stop-color="#e9b70c"/><stop offset="0.550" stop-color="#e9bb0c"/><stop offset="0.575" stop-color="#e9c10c"/><stop offset="0.600" stop-color="#e9c80c"/><stop offset="0.625" stop-color="#e9d60c"/><stop offset="0.650" stop-color="#e9e30c"/><stop offset="0.675" stop-color="#d5e90c"/><stop offset="0.700" stop-color="#b1e80c"/><stop offset="0.725" stop-color="#7fe50c"/><stop offset="0.750" stop-color="#45d40b"/><stop offset="0.775" stop-color="#1fc40a"/><stop offset="0.800" stop-color="#0dd70b"/><stop offset="0.825" stop-color="#0ce611"/><stop offset="0.850" stop-color="#0ce816"/><stop offset="0.875" stop-color="#0ce91d"/><stop offset="0.900" stop-color="#0ce923"/><stop offset="0.925" stop-color="#0ce925"/><stop offset="0.950" stop-color="#0ce925"/><stop offset="0.975" stop-color="#0ce925"/><stop offset="1.000" stop-color="#0ce925"/></linearGradient>
<linearGradient id="L19" gradientUnits="userSpaceOnUse" x1="56.25" y1="0" x2="266.81" y2="0"><stop offset="0.000" stop-color="#0ce93b"/><stop offset="0.025" stop-color="#0ce93b"/><stop offset="0.050" stop-color="#0ce93b"/><stop offset="0.075" stop-color="#0ce93b"/><stop offset="0.100" stop-color="#0ce93b"/><stop offset="0.125" stop-color="#0ce93b"/><stop offset="0.150" stop-color="#0ce936"/><stop offset="0.175" stop-color="#0ce92c"/><stop offset="0.200" stop-color="#0ce720"/><stop offset="0.225" stop-color="#0cde10"/><stop offset="0.250" stop-color="#20cf0b"/><stop offset="0.275" stop-color="#45d90b"/><stop offset="0.300" stop-color="#7fe60c"/><stop offset="0.325" stop-color="#b2e80c"/><stop offset="0.350" stop-color="#d9e90c"/><stop offset="0.375" stop-color="#e9de0c"/><stop offset="0.400" stop-color="#e9d00c"/><stop offset="0.425" stop-color="#e9c20c"/><stop offset="0.450" stop-color="#e9ba0c"/><stop offset="0.475" stop-color="#e9b40c"/><stop offset="0.500" stop-color="#e9af0c"/><stop offset="0.525" stop-color="#e9af0c"/><stop offset="0.550" stop-color="#e9b20c"/><stop offset="0.575" stop-color="#e9b80c"/><stop offset="0.600" stop-color="#e9be0c"/><stop offset="0.625" stop-color="#e9cc0c"/><stop offset="0.650" stop-color="#e9d90c"/><stop offset="0.675" stop-color="#e0e90c"/><stop offset="0.700" stop-color="#c0e90c"/><stop offset="0.725" stop-color="#8fe70c"/><stop offset="0.750" stop-color="#54d90b"/><stop offset="0.775" stop-color="#24c50a"/><stop offset="0.800" stop-color="#12d20b"/><stop offset="0.825" stop-color="#0ce512"/><stop offset="0.850" stop-color="#0ce81d"/><stop offset="0.875" stop-color="#0ce92a"/><stop offset="0.900" stop-color="#0ce936"/><stop offset="0.925" stop-color="#0ce93b"/><stop offset="0.950" stop-color="#0ce93b"/><stop offset="0.975" stop-color="#0ce93b"/><stop offset="1.000" stop-color="#0ce93b"/></linearGradient>
<linearGradient id="L20" gradientUnits="userSpaceOnUse" x1="56.25" y1="0" x2="266.81" y2="0"><stop offset="0.000" stop-color="#0ce954"/><stop offset="0.025" stop-color="#0ce954"/><stop offset="0.050" stop-color="#0ce954"/><stop offset="0.075" stop-color="#0ce954"/><stop offset="0.100" stop-color="#0ce954"/><stop offset="0.125" stop-color="#0ce953"/><stop offset="0.150" stop-color="#0ce94c"/><stop offset="0.175" stop-color="#0ce93c"/><stop offset="0.200" stop-color="#0ce729"/><stop offset="0.225" stop-color="#0cde14"/><stop offset="0.250" stop-color="#20d00b"/><stop offset="0.275" stop-color="#45d80b"/><stop offset="0.300" stop-color="#81e60c"/><stop offset="0.325" stop-color="#b7e80c"/><stop offset="0.350" stop-color="#e0e90c"/><stop offset="0.375" stop-color="#e9d60c"/><stop offset="0.400" stop-color="#e9c60c"/><stop offset="0.425" stop-color="#e9b80c"/><stop offset="0.450" stop-color="#e9af0c"/><stop offset="0.475" stop-color="#e9a90c"/><stop offset="0.500" stop-color="#e9a30c"/><stop offset="0.525" stop-color="#e9a30c"/><stop offset="0.550" stop-color="#e9a50c"/><stop offset="0.575" stop-color="#e9ab0c"/><stop offset="0.600" stop-color="#e9b10c"/><stop offset="0.625" stop-color="#e9be0c"/><stop offset="0.650" stop-color="#e9cc0c"/><stop offset="0.675" stop-color="#e9e20c"/><stop offset="0.700" stop-color="#d3e90c"/><stop offset="0.725" stop-color="#a0e80c"/><stop offset="0.750" stop-color="#65de0c"/><stop offset="0.775" stop-color="#2ac70a"/><stop offset="0.800" stop-color="#16cd0b"/><stop offset="0.825" stop-color="#0ce214"/><stop offset="0.850" stop-color="#0ce825"/><stop offset="0.875" stop-color="#0ce93a"/><stop offset="0.900" stop-color="#0ce94c"/><stop offset="0.925" stop-color="#0ce954"/><stop offset="0.950" stop-color="#0ce954"/><stop offset="0.975" stop-color="#0ce954"/><stop offset="1.000" stop-color="#0ce954"/></linearGradient>
<linearGradient id="L21" gradientUnits="userSpaceOnUse" x1="56.25" y1="0" x2="266.81" y2="0"><stop offset="0.000" stop-color="#0ce96d"/><stop offset="0.025" stop-color="#0ce96d"/><stop offset="0.050" stop-color="#0ce96d"/><stop offset="0.075" stop-color="#0ce96d"/><stop offset="0.100" stop-color="#0ce96d"/><stop offset="0.125" stop-color="#0ce96d"/><stop offset="0.150" stop-color="#0ce963"/><stop offset="0.175" stop-color="#0ce94d"/><stop offset="0.200" stop-color="#0ce833"/><stop offset="0.225" stop-color="#0cdf1b"/><stop offset="0.250" stop-color="#1cd00b"/><stop offset="0.275" stop-color="#3fd70b"/><stop offset="0.300" stop-color="#82e50c"/><stop offset="0.325" stop-color="#bfe80c"/><stop offset="0.350" stop-color="#e9e50c"/><stop offset="0.375" stop-color="#e9c60c"/><stop offset="0.400" stop-color="#e9b60c"/><stop offset="0.425" stop-color="#e9a70c"/><stop offset="0.450" stop-color="#e99f0c"/><stop offset="0.475" stop-color="#e9980c"/><stop offset="0.500" stop-color="#e9950c"/><stop offset="0.525" stop-color="#e9950c"/><stop offset="0.550" stop-color="#e9950c"/><stop offset="0.575" stop-color="#e9980c"/><stop offset="0.600" stop-color="#e99f0c"/><stop offset="0.625" stop-color="#e9a70c"/><stop offset="0.650" stop-color="#e9b70c"/><stop offset="0.675" stop-color="#e9c70c"/><stop offset="0.700" stop-color="#e9e50c"/><stop offset="0.725" stop-color="#bde80c"/><stop offset="0.750" stop-color="#7fe30c"/><stop offset="0.775" stop-color="#3bcf0b"/><stop offset="0.800" stop-color="#1ac60a"/><stop offset="0.825" stop-color="#0cdc15"/><stop offset="0.850" stop-color="#0ce72c"/><stop offset="0.875" stop-color="#0ce949"/><stop offset="0.900" stop-color="#0ce962"/><stop offset="0.925" stop-color="#0ce96d"/><stop offset="0.950" stop-color="#0ce96d"/><stop offset="0.975" stop-color="#0ce96d"/><stop offset="1.000" stop-color="#0ce96d"/></linearGradient>
<linearGradient id="L22" gradientUnits="userSpaceOnUse" x1="56.25" y1="0" x2="266.81" y2="0"><stop offset="0.000" stop-color="#0ce984"/><stop offset="0.025" stop-color="#0ce984"/><stop offset="0.050" stop-color="#0ce984"/><stop offset="0.075" stop-color="#0ce984"/><stop offset="0.100" stop-color="#0ce984"/><stop offset="0.125" stop-color="#0ce984"/><stop offset="0.150" stop-color="#0ce977"/><stop offset="0.175" stop-color="#0ce95c"/><stop offset="0.200" stop-color="#0ce83b"/><stop offset="0.225" stop-color="#0ce01e"/><stop offset="0.250" stop-color="#12d10b"/><stop offset="0.275" stop-color="#31d60b"/><stop offset="0.300" stop-color="#7fe50c"/><stop offset="0.325" stop-color="#c8e80c"/><stop offset="0.350" stop-color="#e9d50c"/><stop offset="0.375" stop-color="#e9b50c"/><stop offset="0.400" stop-color="#e9a20c"/><stop offset="0.425" stop-color="#e9940c"/><stop offset="0.450" stop-color="#e98c0c"/><stop offset="0.475" stop-color="#e9870c"/><stop offset="0.500" stop-color="#e9870c"/><stop offset="0.525" stop-color="#e9870c"/><stop offset="0.550" stop-color="#e9870c"/><stop offset="0.575" stop-color="#e9870c"/><stop offset="0.600" stop-color="#e9870c"/><stop offset="0.625" stop-color="#e98f0c"/><stop offset="0.650" stop-color="#e9970c"/><stop offset="0.675" stop-color="#e9aa0c"/><stop offset="0.700" stop-color="#e9bf0c"/><stop offset="0.725" stop-color="#e9e40c"/><stop offset="0.750" stop-color="#abe70c"/><stop offset="0.775" stop-color="#5cdc0c"/><stop offset="0.800" stop-color="#22c60a"/><stop offset="0.825" stop-color="#0bcf15"/><stop offset="0.850" stop-color="#0ce333"/><stop offset="0.875" stop-color="#0ce858"/><stop offset="0.900" stop-color="#0ce977"/><stop offset="0.925" stop-color="#0ce984"/><stop offset="0.950" stop-color="#0ce984"/><stop offset="0.975" stop-color="#0ce984"/><stop offset="1.000" stop-color="#0ce984"/></linearGradient>
<linearGradient id="L23" gradientUnits="userSpaceOnUse" x1="56.25" y1="0" x2="266.81" y2="0"><stop offset="0.000" stop-color="#0ce997"/><stop offset="0.025" stop-color="#0ce997"/><stop offset="0.050" stop-color="#0ce997"/><stop offset="0.075" stop-color="#0ce997"/><stop offset="0.100" stop-color="#0ce997"/><stop offset="0.125" stop-color="#0ce997"/><stop offset="0.150" stop-color="#0ce988"/><stop offset="0.175" stop-color="#0ce968"/><stop offset="0.200" stop-color="#0ce842"/><stop offset="0.225" stop-color="#0ce121"/><stop offset="0.250" stop-color="#0bd20f"/><stop offset="0.275" stop-color="#29d50b"/><stop offset="0.300" stop-color="#77e40c"/><stop offset="0.325" stop-color="#d1e80c"/><stop offset="0.350" stop-color="#e9c40c"/><stop offset="0.375" stop-color="#e9a30c"/><stop offset="0.400" stop-color="#e98c0c"/><stop offset="0.425" stop-color="#e9820c"/><stop offset="0.450" stop-color="#e97a0c"/><stop offset="0.475" stop-color="#e97a0c"/><stop offset="0.500" stop-color="#e97a0c"/><stop offset="0.525" stop-color="#e97a0c"/><stop offset="0.550" stop-color="#e97a0c"/><stop offset="0.575" stop-color="#e97a0c"/><stop offset="0.600" stop-color="#e97a0c"/><stop offset="0.625" stop-color="#e97a0c"/><stop offset="0.650" stop-color="#e9800c"/><stop offset="0.675" stop-color="#e9890c"/><stop offset="0.700" stop-color="#e99f0c"/><stop offset="0.725" stop-color="#e9bb0c"/><stop offset="0.750" stop-color="#e1e80c"/><stop offset="0.775" stop-color="#8ae40c"/><stop offset="0.800" stop-color="#2fd10b"/><stop offset="0.825" stop-color="#0ac511"/><stop offset="0.850" stop-color="#0bda36"/><stop offset="0.875" stop-color="#0ce763"/><stop offset="0.900" stop-color="#0ce987"/><stop offset="0.925" stop-color="#0ce997"/><stop offset="0.950" stop-color="#0ce997"/><stop offset="0.975" stop-color="#0ce997"/><stop offset="1.000" stop-color="#0ce997"/></linearGradient>
<linearGradient id="L24" gradientUnits="userSpaceOnUse" x1="56.25" y1="0" x2="266.81" y2="0"><stop offset="0.000" stop-color="#0ce9a1"/><stop offset="0.025" stop-color="#0ce9a1"/><stop offset="0.050" stop-color="#0ce9a1"/><stop offset="0.075" stop-color="#0ce9a1"/><stop offset="0.100" stop-color="#0ce9a1"/><stop offset="0.125" stop-color="#0ce9a1"/><stop offset="0.150" stop-color="#0ce991"/><stop offset="0.175" stop-color="#0ce96f"/><stop offset="0.200" stop-color="#0ce846"/><stop offset="0.225" stop-color="#0ce222"/><stop offset="0.250" stop-color="#0bd20f"/><stop offset="0.275" stop-color="#1fd40b"/><stop offset="0.300" stop-color="#6de30c"/><stop offset="0.325" stop-color="#d6e80c"/><stop offset="0.350" stop-color="#e9b70c"/><stop offset="0.375" stop-color="#e9950c"/><stop offset="0.400" stop-color="#e97e0c"/><stop offset="0.425" stop-color="#e9730c"/><stop offset="0.450" stop-color="#e9700c"/><stop offset="0.475" stop-color="#e9700c"/><stop offset="0.500" stop-color="#e9700c"/><stop offset="0.525" stop-color="#e9700c"/><stop offset="0.550" stop-color="#e9700c"/><stop offset="0.575" stop-color="#e9700c"/><stop offset="0.600" stop-color="#e9700c"/><stop offset="0.625" stop-color="#e9700c"/><stop offset="0.650" stop-color="#e9700c"/><stop offset="0.675" stop-color="#e9750c"/><stop offset="0.700" stop-color="#e9800c"/><stop offset="0.725" stop-color="#e99a0c"/><stop offset="0.750" stop-color="#e9c10c"/><stop offset="0.775" stop-color="#c3e80c"/><stop offset="0.800" stop-color="#57de0c"/><stop offset="0.825" stop-color="#0ec70a"/><stop offset="0.850" stop-color="#0bcd36"/><stop offset="0.875" stop-color="#0ce267"/><stop offset="0.900" stop-color="#0ce891"/><stop offset="0.925" stop-color="#0ce9a1"/><stop offset="0.950" stop-color="#0ce9a1"/><stop offset="0.975" stop-color="#0ce9a1"/><stop offset="1.000" stop-color="#0ce9a1"/></linearGradient>
<linearGradient id="L25" gradientUnits="userSpaceOnUse" x1="56.25" y1="0" x2="266.81" y2="0"><stop offset="0.000" stop-color="#0ce9a3"/><stop offset="0.025" stop-color="#0ce9a3"/><stop offset="0.050" stop-color="#0ce9a3"/><stop offset="0.075" stop-color="#0ce9a3"/><stop offset="0.100" stop-color="#0ce9a3"/><stop offset="0.125" stop-color="#0ce9a3"/><stop offset="0.150" stop-color="#0ce992"/><stop offset="0.175" stop-color="#0ce970"/><stop offset="0.200" stop-color="#0ce847"/><stop offset="0.225" stop-color="#0ce322"/><stop offset="0.250" stop-color="#0bd30f"/><stop offset="0.275" stop-color="#16d30b"/><stop offset="0.300" stop-color="#60e20c"/><stop offset="0.325" stop-color="#d4e80c"/><stop offset="0.350" stop-color="#e9b10c"/><stop offset="0.375" stop-color="#e98d0c"/><stop offset="0.400" stop-color="#e9780c"/><stop offset="0.425" stop-color="#e96c0c"/><stop offset="0.450" stop-color="#e96c0c"/><stop offset="0.475" stop-color="#e96c0c"/><stop offset="0.500" stop-color="#e96c0c"/><stop offset="0.525" stop-color="#e96c0c"/><stop offset="0.550" stop-color="#e96c0c"/><stop offset="0.575" stop-color="#e96c0c"/><stop offset="0.600" stop-color="#e96c0c"/><stop offset="0.625" stop-color="#e96c0c"/><stop offset="0.650" stop-color="#e96c0c"/><stop offset="0.675" stop-color="#e96c0c"/><stop offset="0.700" stop-color="#e9720c"/><stop offset="0.725" stop-color="#e9810c"/><stop offset="0.750" stop-color="#e99e0c"/><stop offset="0.775" stop-color="#e8d20c"/><stop offset="0.800" stop-color="#93e50c"/><stop offset="0.825" stop-color="#22d30b"/><stop offset="0.850" stop-color="#0ac434"/><stop offset="0.875" stop-color="#0bd863"/><stop offset="0.900" stop-color="#0ce791"/><stop offset="0.925" stop-color="#0ce8a3"/><stop offset="0.950" stop-color="#0ce9a3"/><stop offset="0.975" stop-color="#0ce9a3"/><stop offset="1.000" stop-color="#0ce9a3"/></linearGradient>
<linearGradient id="L26" gradientUnits="userSpaceOnUse" x1="56.25" y1="0" x2="266.81" y2="0"><stop offset="0.000" stop-color="#0ce9a3"/><stop offset="0.025" stop-color="#0ce9a3"/><stop offset="0.050" stop-color="#0ce9a3"/><stop offset="0.075" stop-color="#0ce9a3"/><stop offset="0.100" stop-color="#0ce9a3"/><stop offset="0.125" stop-color="#0ce9a3"/><stop offset="0.150" stop-color="#0ce992"/><stop offset="0.175" stop-color="#0ce970"/><stop offset="0.200" stop-color="#0ce847"/><stop offset="0.225" stop-color="#0ce423"/><stop offset="0.250" stop-color="#0bd40f"/><stop offset="0.275" stop-color="#12d20b"/><stop offset="0.300" stop-color="#57e20c"/><stop offset="0.325" stop-color="#cfe80c"/><stop offset="0.350" stop-color="#e9b30c"/><stop offset="0.375" stop-color="#e98d0c"/><stop offset="0.400" stop-color="#e9770c"/><stop offset="0.425" stop-color="#e96c0c"/><stop offset="0.450" stop-color="#e96c0c"/><stop offset="0.475" stop-color="#e96c0c"/><stop offset="0.500" stop-color="#e96c0c"/><stop offset="0.525" stop-color="#e96c0c"/><stop offset="0.550" stop-color="#e96c0c"/><stop offset="0.575" stop-color="#e96c0c"/><stop offset="0.600" stop-color="#e96c0c"/><stop offset="0.625" stop-color="#e96c0c"/><stop offset="0.650" stop-color="#e96c0c"/><stop offset="0.675" stop-color="#e96c0c"/><stop offset="0.700" stop-color="#e96c0c"/><stop offset="0.725" stop-color="#e9780c"/><stop offset="0.750" stop-color="#e98f0c"/><stop offset="0.775" stop-color="#e9b70c"/><stop offset="0.800" stop-color="#c7e80c"/><stop offset="0.825" stop-color="#46dd0c"/><stop offset="0.850" stop-color="#0ac72d"/><stop offset="0.875" stop-color="#0bcd5e"/><stop offset="0.900" stop-color="#0ce38e"/><stop offset="0.925" stop-color="#0ce8a3"/><stop offset="0.950" stop-color="#0ce9a3"/><stop offset="0.975" stop-color="#0ce9a3"/><stop offset="1.000" stop-color="#0ce9a3"/></linearGradient>
<linearGradient id="R0" gradientUnits="userSpaceOnUse" x1="291.10" y1="0" x2="501.66" y2="0"><stop offset="0.000" stop-color="#09f508"/><stop offset="0.025" stop-color="#0cf508"/><stop offset="0.050" stop-color="#10f508"/><stop offset="0.075" stop-color="#4cf508"/><stop offset="0.100" stop-color="#a3f508"/><stop offset="0.125" stop-color="#f5d108"/><stop offset="0.150" stop-color="#f54e08"/><stop offset="0.175" stop-color="#f50810"/><stop offset="0.200" stop-color="#f50868"/><stop offset="0.225" stop-color="#f508ce"/><stop offset="0.250" stop-color="#c108f5"/><stop offset="0.275" stop-color="#8c08f7"/><stop offset="0.300" stop-color="#8c08f7"/><stop offset="0.325" stop-color="#8c08f7"/><stop offset="0.350" stop-color="#8c08f7"/><stop offset="0.375" stop-color="#8c08f7"/><stop offset="0.400" stop-color="#8c08f7"/><stop offset="0.425" stop-color="#8c08f7"/><stop offset="0.450" stop-color="#8c08f7"/><stop offset="0.475" stop-color="#8c08f7"/><stop offset="0.500" stop-color="#8c08f7"/><stop offset="0.525" stop-color="#8c08f7"/><stop offset="0.550" stop-color="#8c08f7"/><stop offset="0.575" stop-color="#8c08f7"/><stop offset="0.600" stop-color="#8c08f7"/><stop offset="0.625" stop-color="#8c08f7"/><stop offset="0.650" stop-color="#8c08f7"/><stop offset="0.675" stop-color="#8c08f7"/><stop offset="0.700" stop-color="#8c08f7"/><stop offset="0.725" stop-color="#8c08f7"/><stop offset="0.750" stop-color="#e108f5"/><stop offset="0.775" stop-color="#f5088b"/><stop offset="0.800" stop-color="#f50815"/><stop offset="0.825" stop-color="#f54e08"/><stop offset="0.850" stop-color="#f5e708"/><stop offset="0.875" stop-color="#83f508"/><stop offset="0.900" stop-color="#37f508"/><stop offset="0.925" stop-color="#18f508"/><stop offset="0.950" stop-color="#12f508"/><stop offset="0.975" stop-color="#0cf508"/><stop offset="1.000" stop-color="#08f508"/></linearGradient>
<linearGradient id="R1" gradientUnits="userSpaceOnUse" x1="291.10" y1="0" x2="501.66" y2="0"><stop offset="0.000" stop-color="#09f508"/><stop offset="0.025" stop-color="#0cf508"/><stop offset="0.050" stop-color="#0ff508"/><stop offset="0.075" stop-color="#4bf508"/><stop offset="0.100" stop-color="#a1f508"/><stop offset="0.125" stop-color="#f5d308"/><stop offset="0.150" stop-color="#f55108"/><stop offset="0.175" stop-color="#f5080e"/><stop offset="0.200" stop-color="#f50865"/><stop offset="0.225" stop-color="#f508cc"/><stop offset="0.250" stop-color="#c208f5"/><stop offset="0.275" stop-color="#8b08f7"/><stop offset="0.300" stop-color="#8b08f7"/><stop offset="0.325" stop-color="#8b08f7"/><stop offset="0.350" stop-color="#8b08f7"/><stop offset="0.375" stop-color="#8b08f7"/><stop offset="0.400" stop-color="#8b09f7"/><stop offset="0.425" stop-color="#8b09f7"/><stop offset="0.450" stop-color="#8b09f7"/><stop offset="0.475" stop-color="#8b09f7"/><stop offset="0.500" stop-color="#8b09f7"/><stop offset="0.525" stop-color="#8b09f7"/><stop offset="0.550" stop-color="#8b09f7"/><stop offset="0.575" stop-color="#8b09f7"/><stop offset="0.600" stop-color="#8b09f7"/><stop offset="0.625" stop-color="#8b09f7"/><stop offset="0.650" stop-color="#8b09f7"/><stop offset="0.675" stop-color="#8b08f7"/><stop offset="0.700" stop-color="#8b08f7"/><stop offset="0.725" stop-color="#8b08f7"/><stop offset="0.750" stop-color="#df08f5"/><stop offset="0.775" stop-color="#f5088f"/><stop offset="0.800" stop-color="#f50817"/><stop offset="0.825" stop-color="#f54a08"/><stop offset="0.850" stop-color="#f5e408"/><stop offset="0.875" stop-color="#86f508"/><stop offset="0.900" stop-color="#39f508"/><stop offset="0.925" stop-color="#18f508"/><stop offset="0.950" stop-color="#12f508"/><stop offset="0.975" stop-color="#0cf508"/><stop offset="1.000" stop-color="#08f508"/></linearGradient>
<linearGradient id="R2" gradientUnits="userSpaceOnUse" x1="291.10" y1="0" x2="501.66" y2="0"><stop offset="0.000" stop-color="#08f508"/><stop offset="0.025" stop-color="#0cf508"/><stop offset="0.050" stop-color="#0ff508"/><stop offset="0.075" stop-color="#4af508"/><stop offset="0.100" stop-color="#9ef508"/><stop offset="0.125" stop-color="#f5d608"/><stop offset="0.150" stop-color="#f55408"/><stop offset="0.175" stop-color="#f5080d"/><stop offset="0.200" stop-color="#f50863"/><stop offset="0.225" stop-color="#f508ca"/><stop offset="0.250" stop-color="#c408f5"/><stop offset="0.275" stop-color="#8a08f7"/><stop offset="0.300" stop-color="#8709f7"/><stop offset="0.325" stop-color="#850bf7"/><stop offset="0.350" stop-color="#850ef7"/><stop offset="0.375" stop-color="#850ef7"/><stop offset="0.400" stop-color="#850ef7"/><stop offset="0.425" stop-color="#850ef7"/><stop offset="0.450" stop-color="#850ef7"/><stop offset="0.475" stop-color="#850ef7"/><stop offset="0.500" stop-color="#850ef7"/><stop offset="0.525" stop-color="#850ef7"/><stop offset="0.550" stop-color="#850ef7"/><stop offset="0.575" stop-color="#850ef7"/><stop offset="0.600" stop-color="#850ef7"/><stop offset="0.625" stop-color="#850ef7"/><stop offset="0.650" stop-color="#850ef7"/><stop offset="0.675" stop-color="#850df7"/><stop offset="0.700" stop-color="#860af7"/><stop offset="0.725" stop-color="#8908f7"/><stop offset="0.750" stop-color="#dc08f5"/><stop offset="0.775" stop-color="#f50892"/><stop offset="0.800" stop-color="#f50818"/><stop offset="0.825" stop-color="#f54708"/><stop offset="0.850" stop-color="#f5e108"/><stop offset="0.875" stop-color="#89f508"/><stop offset="0.900" stop-color="#3af508"/><stop offset="0.925" stop-color="#18f508"/><stop offset="0.950" stop-color="#12f508"/><stop offset="0.975" stop-color="#0cf508"/><stop offset="1.000" stop-color="#08f508"/></linearGradient>
<linearGradient id="R3" gradientUnits="userSpaceOnUse" x1="291.10" y1="0" x2="501.66" y2="0"><stop offset="0.000" stop-color="#08f508"/><stop offset="0.025" stop-color="#0cf508"/><stop offset="0.050" stop-color="#0ff508"/><stop offset="0.075" stop-color="#48f508"/><stop offset="0.100" stop-color="#9cf508"/><stop offset="0.125" stop-color="#f5d908"/><stop offset="0.150" stop-color="#f55708"/><stop offset="0.175" stop-color="#f5080b"/><stop offset="0.200" stop-color="#f50860"/><stop offset="0.225" stop-color="#f508c8"/><stop offset="0.250" stop-color="#c608f5"/><stop offset="0.275" stop-color="#8908f7"/><stop offset="0.300" stop-color="#7f0cf7"/><stop offset="0.325" stop-color="#7a10f8"/><stop offset="0.350" stop-color="#7a18f8"/><stop offset="0.375" stop-color="#7a18f8"/><stop offset="0.400" stop-color="#7a18f8"/><stop offset="0.425" stop-color="#7a18f8"/><stop offset="0.450" stop-color="#7a18f8"/><stop offset="0.475" stop-color="#7a18f8"/><stop offset="0.500" stop-color="#7a19f8"/><stop offset="0.525" stop-color="#7a19f8"/><stop offset="0.550" stop-color="#7a19f8"/><stop offset="0.575" stop-color="#7a19f8"/><stop offset="0.600" stop-color="#7a19f8"/><stop offset="0.625" stop-color="#7a19f8"/><stop offset="0.650" stop-color="#7a19f8"/><stop offset="0.675" stop-color="#7a14f8"/><stop offset="0.700" stop-color="#7c0ef8"/><stop offset="0.725" stop-color="#8509f7"/><stop offset="0.750" stop-color="#da08f5"/><stop offset="0.775" stop-color="#f50895"/><stop offset="0.800" stop-color="#f5081a"/><stop offset="0.825" stop-color="#f54408"/><stop offset="0.850" stop-color="#f5de08"/><stop offset="0.875" stop-color="#8bf508"/><stop offset="0.900" stop-color="#3cf508"/><stop offset="0.925" stop-color="#18f508"/><stop offset="0.950" stop-color="#12f508"/><stop offset="0.975" stop-color="#0df508"/><stop offset="1.000" stop-color="#08f508"/></linearGradient>
<linearGradient id="R4" gradientUnits="userSpaceOnUse" x1="291.10" y1="0" x2="501.66" y2="0"><stop offset="0.000" stop-color="#08f508"/><stop offset="0.025" stop-color="#0cf508"/><stop offset="0.050" stop-color="#0ff508"/><stop offset="0.075" stop-color="#47f508"/><stop offset="0.100" stop-color="#99f508"/><stop offset="0.125" stop-color="#f5db08"/><stop offset="0.150" stop-color="#f55a08"/><stop offset="0.175" stop-color="#f5080a"/><stop offset="0.200" stop-color="#f5085d"/><stop offset="0.225" stop-color="#f508c6"/><stop offset="0.250" stop-color="#c808f5"/><stop offset="0.275" stop-color="#8708f7"/><stop offset="0.300" stop-color="#750ef8"/><stop offset="0.325" stop-color="#6c16f8"/><stop offset="0.350" stop-color="#6c25f8"/><stop offset="0.375" stop-color="#6c25f8"/><stop offset="0.400" stop-color="#6c25f8"/><stop offset="0.425" stop-color="#6c25f8"/><stop offset="0.450" stop-color="#6c25f8"/><stop offset="0.475" stop-color="#6c26f8"/><stop offset="0.500" stop-color="#6c26f8"/><stop offset="0.525" stop-color="#6c26f8"/><stop offset="0.550" stop-color="#6c26f8"/><stop offset="0.575" stop-color="#6c26f8"/><stop offset="0.600" stop-color="#6c26f8"/><stop offset="0.625" stop-color="#6c27f8"/><stop offset="0.650" stop-color="#6c27f8"/><stop offset="0.675" stop-color="#6c1ef8"/><stop offset="0.700" stop-color="#7013f8"/><stop offset="0.725" stop-color="#800af7"/><stop offset="0.750" stop-color="#d708f5"/><stop offset="0.775" stop-color="#f50897"/><stop offset="0.800" stop-color="#f5081b"/><stop offset="0.825" stop-color="#f54008"/><stop offset="0.850" stop-color="#f5da08"/><stop offset="0.875" stop-color="#8ef508"/><stop offset="0.900" stop-color="#3df508"/><stop offset="0.925" stop-color="#18f508"/><stop offset="0.950" stop-color="#12f508"/><stop offset="0.975" stop-color="#0df508"/><stop offset="1.000" stop-color="#08f508"/></linearGradient>
<linearGradient id="R5" gradientUnits="userSpaceOnUse" x1="291.10" y1="0" x2="501.66" y2="0"><stop offset="0.000" stop-color="#08f508"/><stop offset="0.025" stop-color="#0cf508"/><stop offset="0.050" stop-color="#0ff508"/><stop offset="0.075" stop-color="#46f508"/><stop offset="0.100" stop-color="#97f508"/><stop offset="0.125" stop-color="#f5de08"/><stop offset="0.150" stop-color="#f55d08"/><stop offset="0.175" stop-color="#f50808"/><stop offset="0.200" stop-color="#f5085b"/><stop offset="0.225" stop-color="#f508c4"/><stop offset="0.250" stop-color="#ca08f5"/><stop offset="0.275" stop-color="#8509f7"/><stop offset="0.300" stop-color="#6b11f8"/><stop offset="0.325" stop-color="#5c1df8"/><stop offset="0.350" stop-color="#5d33f8"/><stop offset="0.375" stop-color="#5d33f8"/><stop offset="0.400" stop-color="#5d33f8"/><stop offset="0.425" stop-color="#5d33f8"/><stop offset="0.450" stop-color="#5d34f8"/><stop offset="0.475" stop-color="#5d34f8"/><stop offset="0.500" stop-color="#5d34f8"/><stop offset="0.525" stop-color="#5d34f8"/><stop offset="0.550" stop-color="#5d35f8"/><stop offset="0.575" stop-color="#5d35f8"/><stop offset="0.600" stop-color="#5d35f8"/><stop offset="0.625" stop-color="#5d35f8"/><stop offset="0.650" stop-color="#5d36f8"/><stop offset="0.675" stop-color="#5d2af8"/><stop offset="0.700" stop-color="#6318f8"/><stop offset="0.725" stop-color="#7a0bf7"/><stop offset="0.750" stop-color="#d508f5"/><stop offset="0.775" stop-color="#f5089a"/><stop offset="0.800" stop-color="#f5081d"/><stop offset="0.825" stop-color="#f53d08"/><stop offset="0.850" stop-color="#f5d708"/><stop offset="0.875" stop-color="#91f508"/><stop offset="0.900" stop-color="#3ff508"/><stop offset="0.925" stop-color="#18f508"/><stop offset="0.950" stop-color="#13f508"/><stop offset="0.975" stop-color="#0df508"/><stop offset="1.000" stop-color="#08f508"/></linearGradient>
<linearGradient id="R6" gradientUnits="userSpaceOnUse" x1="291.10" y1="0" x2="501.66" y2="0"><stop offset="0.000" stop-color="#08f508"/><stop offset="0.025" stop-color="#0cf508"/><stop offset="0.050" stop-color="#0ff508"/><stop offset="0.075" stop-color="#44f508"/><stop offset="0.100" stop-color="#94f508"/><stop offset="0.125" stop-color="#f5e108"/><stop offset="0.150" stop-color="#f55f08"/><stop offset="0.175" stop-color="#f50808"/><stop offset="0.200" stop-color="#f50858"/><stop offset="0.225" stop-color="#f508c2"/><stop offset="0.250" stop-color="#cc08f5"/><stop offset="0.275" stop-color="#8309f7"/><stop offset="0.300" stop-color="#6114f8"/><stop offset="0.325" stop-color="#4e24f8"/><stop offset="0.350" stop-color="#4f41f8"/><stop offset="0.375" stop-color="#4f41f8"/><stop offset="0.400" stop-color="#5042f8"/><stop offset="0.425" stop-color="#5042f8"/><stop offset="0.450" stop-color="#5042f8"/><stop offset="0.475" stop-color="#5043f8"/><stop offset="0.500" stop-color="#4f43f8"/><stop offset="0.525" stop-color="#4f43f8"/><stop offset="0.550" stop-color="#4f44f8"/><stop offset="0.575" stop-color="#4f44f8"/><stop offset="0.600" stop-color="#4f44f8"/><stop offset="0.625" stop-color="#4f45f8"/><stop offset="0.650" stop-color="#4f45f8"/><stop offset="0.675" stop-color="#4f35f8"/><stop offset="0.700" stop-color="#551ef8"/><stop offset="0.725" stop-color="#730cf7"/><stop offset="0.750" stop-color="#d308f5"/><stop offset="0.775" stop-color="#f5089d"/><stop offset="0.800" stop-color="#f5081f"/><stop offset="0.825" stop-color="#f53908"/><stop offset="0.850" stop-color="#f5d408"/><stop offset="0.875" stop-color="#94f508"/><stop offset="0.900" stop-color="#41f508"/><stop offset="0.925" stop-color="#18f508"/><stop offset="0.950" stop-color="#13f508"/><stop offset="0.975" stop-color="#0df508"/><stop offset="1.000" stop-color="#08f508"/></linearGradient>
<linearGradient id="R7" gradientUnits="userSpaceOnUse" x1="291.10" y1="0" x2="501.66" y2="0"><stop offset="0.000" stop-color="#08f508"/><stop offset="0.025" stop-color="#0cf508"/><stop offset="0.050" stop-color="#0ff508"/><stop offset="0.075" stop-color="#43f508"/><stop offset="0.100" stop-color="#92f508"/><stop offset="0.125" stop-color="#f5e408"/><stop offset="0.150" stop-color="#f56208"/><stop offset="0.175" stop-color="#f50a08"/><stop offset="0.200" stop-color="#f50856"/><stop offset="0.225" stop-color="#f508c0"/><stop offset="0.250" stop-color="#ce08f5"/><stop offset="0.275" stop-color="#8309f7"/><stop offset="0.300" stop-color="#5916f8"/><stop offset="0.325" stop-color="#422af8"/><stop offset="0.350" stop-color="#444df9"/><stop offset="0.375" stop-color="#454ff9"/><stop offset="0.400" stop-color="#4650f9"/><stop offset="0.425" stop-color="#4650f9"/><stop offset="0.450" stop-color="#4650f9"/><stop offset="0.475" stop-color="#4651f9"/><stop offset="0.500" stop-color="#4651f9"/><stop offset="0.525" stop-color="#4552f9"/><stop offset="0.550" stop-color="#4552f9"/><stop offset="0.575" stop-color="#4552f9"/><stop offset="0.600" stop-color="#4553f9"/><stop offset="0.625" stop-color="#4553f9"/><stop offset="0.650" stop-color="#4452f9"/><stop offset="0.675" stop-color="#4340f9"/><stop offset="0.700" stop-color="#4a23f8"/><stop offset="0.725" stop-color="#6d0df8"/><stop offset="0.750" stop-color="#d008f5"/><stop offset="0.775" stop-color="#f508a0"/><stop offset="0.800" stop-color="#f50820"/><stop offset="0.825" stop-color="#f53608"/><stop offset="0.850" stop-color="#f5d108"/><stop offset="0.875" stop-color="#96f508"/><stop offset="0.900" stop-color="#42f508"/><stop offset="0.925" stop-color="#19f508"/><stop offset="0.950" stop-color="#13f508"/><stop offset="0.975" stop-color="#0df508"/><stop offset="1.000" stop-color="#08f508"/></linearGradient>
<linearGradient id="R8" gradientUnits="userSpaceOnUse" x1="291.10" y1="0" x2="501.66" y2="0"><stop offset="0.000" stop-color="#08f508"/><stop offset="0.025" stop-color="#0bf508"/><stop offset="0.050" stop-color="#0ff508"/><stop offset="0.075" stop-color="#42f508"/><stop offset="0.100" stop-color="#8ff508"/><stop offset="0.125" stop-color="#f5e608"/><stop offset="0.150" stop-color="#f56508"/><stop offset="0.175" stop-color="#f50b08"/><stop offset="0.200" stop-color="#f50853"/><stop offset="0.225" stop-color="#f508be"/><stop offset="0.250" stop-color="#d008f5"/><stop offset="0.275" stop-color="#8309f7"/><stop offset="0.300" stop-color="#5418f8"/><stop offset="0.325" stop-color="#3b2ef9"/><stop offset="0.350" stop-color="#3d57f9"/><stop offset="0.375" stop-color="#4059f9"/><stop offset="0.400" stop-color="#415bf9"/><stop offset="0.425" stop-color="#415cf9"/><stop offset="0.450" stop-color="#415cf9"/><stop offset="0.475" stop-color="#415df9"/><stop offset="0.500" stop-color="#415df9"/><stop offset="0.525" stop-color="#415df9"/><stop offset="0.550" stop-color="#415ef9"/><stop offset="0.575" stop-color="#415ef9"/><stop offset="0.600" stop-color="#415ff9"/><stop offset="0.625" stop-color="#405ef9"/><stop offset="0.650" stop-color="#3e5df9"/><stop offset="0.675" stop-color="#3c48f9"/><stop offset="0.700" stop-color="#4127f8"/><stop offset="0.725" stop-color="#680ef8"/><stop offset="0.750" stop-color="#ce08f5"/><stop offset="0.775" stop-color="#f508a2"/><stop offset="0.800" stop-color="#f50822"/><stop offset="0.825" stop-color="#f53508"/><stop offset="0.850" stop-color="#f5ce08"/><stop offset="0.875" stop-color="#99f508"/><stop offset="0.900" stop-color="#44f508"/><stop offset="0.925" stop-color="#19f508"/><stop offset="0.950" stop-color="#13f508"/><stop offset="0.975" stop-color="#0df508"/><stop offset="1.000" stop-color="#08f508"/></linearGradient>
<linearGradient id="R9" gradientUnits="userSpaceOnUse" x1="291.10" y1="0" x2="501.66" y2="0"><stop offset="0.000" stop-color="#08f508"/><stop offset="0.025" stop-color="#0bf508"/><stop offset="0.050" stop-color="#0ff508"/><stop offset="0.075" stop-color="#40f508"/><stop offset="0.100" stop-color="#8df508"/><stop offset="0.125" stop-color="#f5e908"/><stop offset="0.150" stop-color="#f56808"/><stop offset="0.175" stop-color="#f50c08"/><stop offset="0.200" stop-color="#f50851"/><stop offset="0.225" stop-color="#f508bc"/><stop offset="0.250" stop-color="#d108f5"/><stop offset="0.275" stop-color="#8409f7"/><stop offset="0.300" stop-color="#5318f8"/><stop offset="0.325" stop-color="#3930f9"/><stop offset="0.350" stop-color="#3c5cf9"/><stop offset="0.375" stop-color="#405ff9"/><stop offset="0.400" stop-color="#4262f9"/><stop offset="0.425" stop-color="#4262f9"/><stop offset="0.450" stop-color="#4263f9"/><stop offset="0.475" stop-color="#4263f9"/><stop offset="0.500" stop-color="#4264f9"/><stop offset="0.525" stop-color="#4264f9"/><stop offset="0.550" stop-color="#4265f9"/><stop offset="0.575" stop-color="#4265f9"/><stop offset="0.600" stop-color="#4265f9"/><stop offset="0.625" stop-color="#4165f9"/><stop offset="0.650" stop-color="#3d63f9"/><stop offset="0.675" stop-color="#3a4df9"/><stop offset="0.700" stop-color="#3e29f8"/><stop offset="0.725" stop-color="#660ff8"/><stop offset="0.750" stop-color="#cb08f5"/><stop offset="0.775" stop-color="#f508a5"/><stop offset="0.800" stop-color="#f50823"/><stop offset="0.825" stop-color="#f53308"/><stop offset="0.850" stop-color="#f5ca08"/><stop offset="0.875" stop-color="#9cf508"/><stop offset="0.900" stop-color="#45f508"/><stop offset="0.925" stop-color="#19f508"/><stop offset="0.950" stop-color="#13f508"/><stop offset="0.975" stop-color="#0df508"/><stop offset="1.000" stop-color="#08f508"/></linearGradient>
<linearGradient id="R10" gradientUnits="userSpaceOnUse" x1="291.10" y1="0" x2="501.66" y2="0"><stop offset="0.000" stop-color="#08f508"/><stop offset="0.025" stop-color="#0bf508"/><stop offset="0.050" stop-color="#0ff508"/><stop offset="0.075" stop-color="#3ff508"/><stop offset="0.100" stop-color="#8af508"/><stop offset="0.125" stop-color="#f5ec08"/><stop offset="0.150" stop-color="#f56b08"/><stop offset="0.175" stop-color="#f50e08"/><stop offset="0.200" stop-color="#f5084e"/><stop offset="0.225" stop-color="#f508b9"/><stop offset="0.250" stop-color="#d308f5"/><stop offset="0.275" stop-color="#8509f7"/><stop offset="0.300" stop-color="#5417f8"/><stop offset="0.325" stop-color="#3a31f9"/><stop offset="0.350" stop-color="#3e5df9"/><stop offset="0.375" stop-color="#4362f9"/><stop offset="0.400" stop-color="#4665f9"/><stop offset="0.425" stop-color="#4766f9"/><stop offset="0.450" stop-color="#4666f9"/><stop offset="0.475" stop-color="#4667f9"/><stop offset="0.500" stop-color="#4667f9"/><stop offset="0.525" stop-color="#4667f9"/><stop offset="0.550" stop-color="#4668f9"/><stop offset="0.575" stop-color="#4668f9"/><stop offset="0.600" stop-color="#4669f9"/><stop offset="0.625" stop-color="#4468f9"/><stop offset="0.650" stop-color="#4065f9"/><stop offset="0.675" stop-color="#3c4ff9"/><stop offset="0.700" stop-color="#3e2af8"/><stop offset="0.725" stop-color="#650ff8"/><stop offset="0.750" stop-color="#c908f5"/><stop offset="0.775" stop-color="#f508a8"/><stop offset="0.800" stop-color="#f50825"/><stop offset="0.825" stop-color="#f53208"/><stop offset="0.850" stop-color="#f5c708"/><stop offset="0.875" stop-color="#9ef508"/><stop offset="0.900" stop-color="#47f508"/><stop offset="0.925" stop-color="#19f508"/><stop offset="0.950" stop-color="#13f508"/><stop offset="0.975" stop-color="#0df508"/><stop offset="1.000" stop-color="#08f508"/></linearGradient>
<linearGradient id="R11" gradientUnits="userSpaceOnUse" x1="291.10" y1="0" x2="501.66" y2="0"><stop offset="0.000" stop-color="#08f508"/><stop offset="0.025" stop-color="#0bf508"/><stop offset="0.050" stop-color="#0ff508"/><stop offset="0.075" stop-color="#3ef508"/><stop offset="0.100" stop-color="#88f508"/><stop offset="0.125" stop-color="#f5ee08"/><stop offset="0.150" stop-color="#f56e08"/><stop offset="0.175" stop-color="#f50f08"/><stop offset="0.200" stop-color="#f5084b"/><stop offset="0.225" stop-color="#f508b7"/><stop offset="0.250" stop-color="#d508f5"/><stop offset="0.275" stop-color="#8608f7"/><stop offset="0.300" stop-color="#5517f8"/><stop offset="0.325" stop-color="#3c31f9"/><stop offset="0.350" stop-color="#405ff9"/><stop offset="0.375" stop-color="#4664f9"/><stop offset="0.400" stop-color="#4968f9"/><stop offset="0.425" stop-color="#4a69f9"/><stop offset="0.450" stop-color="#4a69f9"/><stop offset="0.475" stop-color="#4a69f9"/><stop offset="0.500" stop-color="#4a6af9"/><stop offset="0.525" stop-color="#4a6af9"/><stop offset="0.550" stop-color="#496bf9"/><stop offset="0.575" stop-color="#496bf9"/><stop offset="0.600" stop-color="#496bf9"/><stop offset="0.625" stop-color="#476af9"/><stop offset="0.650" stop-color="#4267f9"/><stop offset="0.675" stop-color="#3d50f9"/><stop offset="0.700" stop-color="#3d2bf8"/><stop offset="0.725" stop-color="#6410f8"/><stop offset="0.750" stop-color="#c608f5"/><stop offset="0.775" stop-color="#f508aa"/><stop offset="0.800" stop-color="#f50826"/><stop offset="0.825" stop-color="#f53008"/><stop offset="0.850" stop-color="#f5c408"/><stop offset="0.875" stop-color="#a1f508"/><stop offset="0.900" stop-color="#49f508"/><stop offset="0.925" stop-color="#19f508"/><stop offset="0.950" stop-color="#13f508"/><stop offset="0.975" stop-color="#0ef508"/><stop offset="1.000" stop-color="#08f508"/></linearGradient>
<linearGradient id="R12" gradientUnits="userSpaceOnUse" x1="291.10" y1="0" x2="501.66" y2="0"><stop offset="0.000" stop-color="#08f508"/><stop offset="0.025" stop-color="#0bf508"/><stop offset="0.050" stop-color="#0ff508"/><stop offset="0.075" stop-color="#3df508"/><stop offset="0.100" stop-color="#85f508"/><stop offset="0.125" stop-color="#f5f108"/><stop offset="0.150" stop-color="#f57108"/><stop offset="0.175" stop-color="#f51108"/><stop offset="0.200" stop-color="#f50849"/><stop offset="0.225" stop-color="#f508b5"/><stop offset="0.250" stop-color="#d708f5"/><stop offset="0.275" stop-color="#8708f7"/><stop offset="0.300" stop-color="#5617f8"/><stop offset="0.325" stop-color="#3d31f9"/><stop offset="0.350" stop-color="#415ff9"/><stop offset="0.375" stop-color="#4765f9"/><stop offset="0.400" stop-color="#4b69f9"/><stop offset="0.425" stop-color="#4c6af9"/><stop offset="0.450" stop-color="#4c6bf9"/><stop offset="0.475" stop-color="#4c6bf9"/><stop offset="0.500" stop-color="#4c6bf9"/><stop offset="0.525" stop-color="#4c6cf9"/><stop offset="0.550" stop-color="#4c6cf9"/><stop offset="0.575" stop-color="#4b6df9"/><stop offset="0.600" stop-color="#4b6df9"/><stop offset="0.625" stop-color="#496cf9"/><stop offset="0.650" stop-color="#4468f9"/><stop offset="0.675" stop-color="#3e52f9"/><stop offset="0.700" stop-color="#3d2cf8"/><stop offset="0.725" stop-color="#6310f8"/><stop offset="0.750" stop-color="#c408f5"/><stop offset="0.775" stop-color="#f508ad"/><stop offset="0.800" stop-color="#f50828"/><stop offset="0.825" stop-color="#f52f08"/><stop offset="0.850" stop-color="#f5c108"/><stop offset="0.875" stop-color="#a4f508"/><stop offset="0.900" stop-color="#4af508"/><stop offset="0.925" stop-color="#19f508"/><stop offset="0.950" stop-color="#13f508"/><stop offset="0.975" stop-color="#0ef508"/><stop offset="1.000" stop-color="#08f508"/></linearGradient>
<linearGradient id="R13" gradientUnits="userSpaceOnUse" x1="291.10" y1="0" x2="501.66" y2="0"><stop offset="0.000" stop-color="#08f508"/><stop offset="0.025" stop-color="#0bf508"/><stop offset="0.050" stop-color="#0ff508"/><stop offset="0.075" stop-color="#3bf508"/><stop offset="0.100" stop-color="#83f508"/><stop offset="0.125" stop-color="#f5f408"/><stop offset="0.150" stop-color="#f57408"/><stop offset="0.175" stop-color="#f51208"/><stop offset="0.200" stop-color="#f50846"/><stop offset="0.225" stop-color="#f508b3"/><stop offset="0.250" stop-color="#d908f5"/><stop offset="0.275" stop-color="#8908f7"/><stop offset="0.300" stop-color="#5716f8"/><stop offset="0.325" stop-color="#3d31f9"/><stop offset="0.350" stop-color="#415ef9"/><stop offset="0.375" stop-color="#4766f9"/><stop offset="0.400" stop-color="#4c6af9"/><stop offset="0.425" stop-color="#4c6bf9"/><stop offset="0.450" stop-color="#4c6bf9"/><stop offset="0.475" stop-color="#4c6bf9"/><stop offset="0.500" stop-color="#4c6cf9"/><stop offset="0.525" stop-color="#4c6cf9"/><stop offset="0.550" stop-color="#4c6df9"/><stop offset="0.575" stop-color="#4c6df9"/><stop offset="0.600" stop-color="#4c6df9"/><stop offset="0.625" stop-color="#4a6cf9"/><stop offset="0.650" stop-color="#4468f9"/><stop offset="0.675" stop-color="#3e52f9"/><stop offset="0.700" stop-color="#3c2df8"/><stop offset="0.725" stop-color="#6111f8"/><stop offset="0.750" stop-color="#c108f5"/><stop offset="0.775" stop-color="#f508b0"/><stop offset="0.800" stop-color="#f50829"/><stop offset="0.825" stop-color="#f52d08"/><stop offset="0.850" stop-color="#f5bd08"/><stop offset="0.875" stop-color="#a7f508"/><stop offset="0.900" stop-color="#4cf508"/><stop offset="0.925" stop-color="#19f508"/><stop offset="0.950" stop-color="#14f508"/><stop offset="0.975" stop-color="#0ef508"/><stop offset="1.000" stop-color="#08f508"/></linearGradient>
<linearGradient id="R14" gradientUnits="userSpaceOnUse" x1="291.10" y1="0" x2="501.66" y2="0"><stop offset="0.000" stop-color="#08f508"/><stop offset="0.025" stop-color="#0bf508"/><stop offset="0.050" stop-color="#0ef508"/><stop offset="0.075" stop-color="#3af508"/><stop offset="0.100" stop-color="#80f508"/><stop offset="0.125" stop-color="#f3f508"/><stop offset="0.150" stop-color="#f57708"/><stop offset="0.175" stop-color="#f51408"/><stop offset="0.200" stop-color="#f50844"/><stop offset="0.225" stop-color="#f508b1"/><stop offset="0.250" stop-color="#db08f5"/><stop offset="0.275" stop-color="#8a08f7"/><stop offset="0.300" stop-color="#5816f8"/><stop offset="0.325" stop-color="#3d30f9"/><stop offset="0.350" stop-color="#415df9"/><stop offset="0.375" stop-color="#4665f9"/><stop offset="0.400" stop-color="#4a68f9"/><stop offset="0.425" stop-color="#4b69f9"/><stop offset="0.450" stop-color="#4b6af9"/><stop offset="0.475" stop-color="#4b6af9"/><stop offset="0.500" stop-color="#4a6af9"/><stop offset="0.525" stop-color="#4a6bf9"/><stop offset="0.550" stop-color="#4a6bf9"/><stop offset="0.575" stop-color="#4a6cf9"/><stop offset="0.600" stop-color="#4a6cf9"/><stop offset="0.625" stop-color="#486bf9"/><stop offset="0.650" stop-color="#4367f9"/><stop offset="0.675" stop-color="#3d53f9"/><stop offset="0.700" stop-color="#3b2df9"/><stop offset="0.725" stop-color="#6011f8"/><stop offset="0.750" stop-color="#bf08f5"/><stop offset="0.775" stop-color="#f508b2"/><stop offset="0.800" stop-color="#f5082b"/><stop offset="0.825" stop-color="#f52c08"/><stop offset="0.850" stop-color="#f5ba08"/><stop offset="0.875" stop-color="#a9f508"/><stop offset="0.900" stop-color="#4df508"/><stop offset="0.925" stop-color="#19f508"/><stop offset="0.950" stop-color="#14f508"/><stop offset="0.975" stop-color="#0ef508"/><stop offset="1.000" stop-color="#08f508"/></linearGradient>
<linearGradient id="R15" gradientUnits="userSpaceOnUse" x1="291.10" y1="0" x2="501.66" y2="0"><stop offset="0.000" stop-color="#08f508"/><stop offset="0.025" stop-color="#0bf508"/><stop offset="0.050" stop-color="#0ef508"/><stop offset="0.075" stop-color="#39f508"/><stop offset="0.100" stop-color="#7ef508"/><stop offset="0.125" stop-color="#f1f508"/><stop offset="0.150" stop-color="#f57a08"/><stop offset="0.175" stop-color="#f51508"/><stop offset="0.200" stop-color="#f50841"/><stop offset="0.225" stop-color="#f508af"/><stop offset="0.250" stop-color="#dd08f5"/><stop offset="0.275" stop-color="#8b08f7"/><stop offset="0.300" stop-color="#5915f8"/><stop offset="0.325" stop-color="#3d2ff9"/><stop offset="0.350" stop-color="#3f5af9"/><stop offset="0.375" stop-color="#4463f9"/><stop offset="0.400" stop-color="#4766f9"/><stop offset="0.425" stop-color="#4867f9"/><stop offset="0.450" stop-color="#4867f9"/><stop offset="0.475" stop-color="#4868f9"/><stop offset="0.500" stop-color="#4768f9"/><stop offset="0.525" stop-color="#4768f9"/><stop offset="0.550" stop-color="#4769f9"/><stop offset="0.575" stop-color="#4769f9"/><stop offset="0.600" stop-color="#476af9"/><stop offset="0.625" stop-color="#4569f9"/><stop offset="0.650" stop-color="#4165f9"/><stop offset="0.675" stop-color="#3c52f9"/><stop offset="0.700" stop-color="#3a2df9"/><stop offset="0.725" stop-color="#5f12f8"/><stop offset="0.750" stop-color="#bc08f5"/><stop offset="0.775" stop-color="#f508b5"/><stop offset="0.800" stop-color="#f5082c"/><stop offset="0.825" stop-color="#f52a08"/><stop offset="0.850" stop-color="#f5b708"/><stop offset="0.875" stop-color="#acf508"/><stop offset="0.900" stop-color="#4ff508"/><stop offset="0.925" stop-color="#1af508"/><stop offset="0.950" stop-color="#14f508"/><stop offset="0.975" stop-color="#0ef508"/><stop offset="1.000" stop-color="#08f508"/></linearGradient>
<linearGradient id="R16" gradientUnits="userSpaceOnUse" x1="291.10" y1="0" x2="501.66" y2="0"><stop offset="0.000" stop-color="#08f508"/><stop offset="0.025" stop-color="#0bf508"/><stop offset="0.050" stop-color="#0ef508"/><stop offset="0.075" stop-color="#37f508"/><stop offset="0.100" stop-color="#7bf508"/><stop offset="0.125" stop-color="#eef508"/><stop offset="0.150" stop-color="#f57d08"/><stop offset="0.175" stop-color="#f51708"/><stop offset="0.200" stop-color="#f5083f"/><stop offset="0.225" stop-color="#f508ad"/><stop offset="0.250" stop-color="#df08f5"/><stop offset="0.275" stop-color="#8c08f7"/><stop offset="0.300" stop-color="#5915f8"/><stop offset="0.325" stop-color="#3d2df9"/><stop offset="0.350" stop-color="#3d58f9"/><stop offset="0.375" stop-color="#4160f9"/><stop offset="0.400" stop-color="#4363f9"/><stop offset="0.425" stop-color="#4463f9"/><stop offset="0.450" stop-color="#4464f9"/><stop offset="0.475" stop-color="#4464f9"/><stop offset="0.500" stop-color="#4465f9"/><stop offset="0.525" stop-color="#4465f9"/><stop offset="0.550" stop-color="#4366f9"/><stop offset="0.575" stop-color="#4366f9"/><stop offset="0.600" stop-color="#4366f9"/><stop offset="0.625" stop-color="#4266f9"/><stop offset="0.650" stop-color="#3e63f9"/><stop offset="0.675" stop-color="#3b52f9"/><stop offset="0.700" stop-color="#392ef9"/><stop offset="0.725" stop-color="#5e12f8"/><stop offset="0.750" stop-color="#ba08f5"/><stop offset="0.775" stop-color="#f508b8"/><stop offset="0.800" stop-color="#f5082e"/><stop offset="0.825" stop-color="#f52908"/><stop offset="0.850" stop-color="#f5b408"/><stop offset="0.875" stop-color="#aff508"/><stop offset="0.900" stop-color="#51f508"/><stop offset="0.925" stop-color="#1af508"/><stop offset="0.950" stop-color="#14f508"/><stop offset="0.975" stop-color="#0ef508"/><stop offset="1.000" stop-color="#08f508"/></linearGradient>
<linearGradient id="R17" gradientUnits="userSpaceOnUse" x1="291.10" y1="0" x2="501.66" y2="0"><stop offset="0.000" stop-color="#08f508"/><stop offset="0.025" stop-color="#0bf508"/><stop offset="0.050" stop-color="#0ef508"/><stop offset="0.075" stop-color="#36f508"/><stop offset="0.100" stop-color="#79f508"/><stop offset="0.125" stop-color="#ebf508"/><stop offset="0.150" stop-color="#f58008"/><stop offset="0.175" stop-color="#f51808"/><stop offset="0.200" stop-color="#f5083c"/><stop offset="0.225" stop-color="#f508ab"/><stop offset="0.250" stop-color="#e008f5"/><stop offset="0.275" stop-color="#8e08f7"/><stop offset="0.300" stop-color="#5b14f8"/><stop offset="0.325" stop-color="#3e2cf8"/><stop offset="0.350" stop-color="#3d54f9"/><stop offset="0.375" stop-color="#3f5cf9"/><stop offset="0.400" stop-color="#415ef9"/><stop offset="0.425" stop-color="#415ef9"/><stop offset="0.450" stop-color="#415ff9"/><stop offset="0.475" stop-color="#415ff9"/><stop offset="0.500" stop-color="#4160f9"/><stop offset="0.525" stop-color="#4160f9"/><stop offset="0.550" stop-color="#4161f9"/><stop offset="0.575" stop-color="#4061f9"/><stop offset="0.600" stop-color="#4061f9"/><stop offset="0.625" stop-color="#3f61f9"/><stop offset="0.650" stop-color="#3d60f9"/><stop offset="0.675" stop-color="#3b50f9"/><stop offset="0.700" stop-color="#3a2df9"/><stop offset="0.725" stop-color="#5e12f8"/><stop offset="0.750" stop-color="#b708f5"/><stop offset="0.775" stop-color="#f508bb"/><stop offset="0.800" stop-color="#f50830"/><stop offset="0.825" stop-color="#f52708"/><stop offset="0.850" stop-color="#f5b108"/><stop offset="0.875" stop-color="#b1f508"/><stop offset="0.900" stop-color="#52f508"/><stop offset="0.925" stop-color="#1af508"/><stop offset="0.950" stop-color="#14f508"/><stop offset="0.975" stop-color="#0ef508"/><stop offset="1.000" stop-color="#08f508"/></linearGradient>
<linearGradient id="R18" gradientUnits="userSpaceOnUse" x1="291.10" y1="0" x2="501.66" y2="0"><stop offset="0.000" stop-color="#08f508"/><stop offset="0.025" stop-color="#0bf508"/><stop offset="0.050" stop-color="#0ef508"/><stop offset="0.075" stop-color="#35f508"/><stop offset="0.100" stop-color="#76f508"/><stop offset="0.125" stop-color="#e9f508"/><stop offset="0.150" stop-color="#f58308"/><stop offset="0.175" stop-color="#f51908"/><stop offset="0.200" stop-color="#f50839"/><stop offset="0.225" stop-color="#f508a9"/><stop offset="0.250" stop-color="#e208f5"/><stop offset="0.275" stop-color="#8f08f7"/><stop offset="0.300" stop-color="#6012f8"/><stop offset="0.325" stop-color="#4527f8"/><stop offset="0.350" stop-color="#424bf9"/><stop offset="0.375" stop-color="#4352f9"/><stop offset="0.400" stop-color="#4454f9"/><stop offset="0.425" stop-color="#4454f9"/><stop offset="0.450" stop-color="#4454f9"/><stop offset="0.475" stop-color="#4455f9"/><stop offset="0.500" stop-color="#4355f9"/><stop offset="0.525" stop-color="#4356f9"/><stop offset="0.550" stop-color="#4356f9"/><stop offset="0.575" stop-color="#4356f9"/><stop offset="0.600" stop-color="#4357f9"/><stop offset="0.625" stop-color="#4357f9"/><stop offset="0.650" stop-color="#4156f9"/><stop offset="0.675" stop-color="#4149f9"/><stop offset="0.700" stop-color="#402af8"/><stop offset="0.725" stop-color="#6112f8"/><stop offset="0.750" stop-color="#b508f5"/><stop offset="0.775" stop-color="#f508bd"/><stop offset="0.800" stop-color="#f50831"/><stop offset="0.825" stop-color="#f52508"/><stop offset="0.850" stop-color="#f5ad08"/><stop offset="0.875" stop-color="#b4f508"/><stop offset="0.900" stop-color="#54f508"/><stop offset="0.925" stop-color="#1af508"/><stop offset="0.950" stop-color="#14f508"/><stop offset="0.975" stop-color="#0ef508"/><stop offset="1.000" stop-color="#09f508"/></linearGradient>
<linearGradient id="R19" gradientUnits="userSpaceOnUse" x1="291.10" y1="0" x2="501.66" y2="0"><stop offset="0.000" stop-color="#08f508"/><stop offset="0.025" stop-color="#0bf508"/><stop offset="0.050" stop-color="#0ef508"/><stop offset="0.075" stop-color="#34f508"/><stop offset="0.100" stop-color="#74f508"/><stop offset="0.125" stop-color="#e6f508"/><stop offset="0.150" stop-color="#f58608"/><stop offset="0.175" stop-color="#f51b08"/><stop offset="0.200" stop-color="#f50837"/><stop offset="0.225" stop-color="#f508a6"/><stop offset="0.250" stop-color="#e408f5"/><stop offset="0.275" stop-color="#9008f7"/><stop offset="0.300" stop-color="#6710f8"/><stop offset="0.325" stop-color="#4f22f8"/><stop offset="0.350" stop-color="#4b3ff8"/><stop offset="0.375" stop-color="#4c46f8"/><stop offset="0.400" stop-color="#4c46f9"/><stop offset="0.425" stop-color="#4c47f9"/><stop offset="0.450" stop-color="#4c47f9"/><stop offset="0.475" stop-color="#4c47f9"/><stop offset="0.500" stop-color="#4c48f8"/><stop offset="0.525" stop-color="#4c48f8"/><stop offset="0.550" stop-color="#4c48f8"/><stop offset="0.575" stop-color="#4c49f8"/><stop offset="0.600" stop-color="#4c49f8"/><stop offset="0.625" stop-color="#4b49f8"/><stop offset="0.650" stop-color="#4b49f8"/><stop offset="0.675" stop-color="#4b3ff8"/><stop offset="0.700" stop-color="#4b25f8"/><stop offset="0.725" stop-color="#6711f8"/><stop offset="0.750" stop-color="#b308f5"/><stop offset="0.775" stop-color="#f508c0"/><stop offset="0.800" stop-color="#f50833"/><stop offset="0.825" stop-color="#f52408"/><stop offset="0.850" stop-color="#f5aa08"/><stop offset="0.875" stop-color="#b7f508"/><stop offset="0.900" stop-color="#56f508"/><stop offset="0.925" stop-color="#1af508"/><stop offset="0.950" stop-color="#14f508"/><stop offset="0.975" stop-color="#0ff508"/><stop offset="1.000" stop-color="#09f508"/></linearGradient>
<linearGradient id="R20" gradientUnits="userSpaceOnUse" x1="291.10" y1="0" x2="501.66" y2="0"><stop offset="0.000" stop-color="#08f508"/><stop offset="0.025" stop-color="#0bf508"/><stop offset="0.050" stop-color="#0ef508"/><stop offset="0.075" stop-color="#32f508"/><stop offset="0.100" stop-color="#71f508"/><stop offset="0.125" stop-color="#e4f508"/><stop offset="0.150" stop-color="#f58908"/><stop offset="0.175" stop-color="#f51c08"/><stop offset="0.200" stop-color="#f50835"/><stop offset="0.225" stop-color="#f508a4"/><stop offset="0.250" stop-color="#e608f5"/><stop offset="0.275" stop-color="#9108f7"/><stop offset="0.300" stop-color="#700ef8"/><stop offset="0.325" stop-color="#5c1cf8"/><stop offset="0.350" stop-color="#5932f8"/><stop offset="0.375" stop-color="#5937f8"/><stop offset="0.400" stop-color="#5938f8"/><stop offset="0.425" stop-color="#5938f8"/><stop offset="0.450" stop-color="#5938f8"/><stop offset="0.475" stop-color="#5939f8"/><stop offset="0.500" stop-color="#5839f8"/><stop offset="0.525" stop-color="#5839f8"/><stop offset="0.550" stop-color="#5839f8"/><stop offset="0.575" stop-color="#583af8"/><stop offset="0.600" stop-color="#583af8"/><stop offset="0.625" stop-color="#583af8"/><stop offset="0.650" stop-color="#583af8"/><stop offset="0.675" stop-color="#5933f8"/><stop offset="0.700" stop-color="#581ff8"/><stop offset="0.725" stop-color="#6e0ff8"/><stop offset="0.750" stop-color="#b008f5"/><stop offset="0.775" stop-color="#f508c3"/><stop offset="0.800" stop-color="#f50834"/><stop offset="0.825" stop-color="#f52208"/><stop offset="0.850" stop-color="#f5a708"/><stop offset="0.875" stop-color="#b9f508"/><stop offset="0.900" stop-color="#57f508"/><stop offset="0.925" stop-color="#1af508"/><stop offset="0.950" stop-color="#14f508"/><stop offset="0.975" stop-color="#0ff508"/><stop offset="1.000" stop-color="#09f508"/></linearGradient>
<linearGradient id="R21" gradientUnits="userSpaceOnUse" x1="291.10" y1="0" x2="501.66" y2="0"><stop offset="0.000" stop-color="#08f508"/><stop offset="0.025" stop-color="#0af508"/><stop offset="0.050" stop-color="#0ef508"/><stop offset="0.075" stop-color="#31f508"/><stop offset="0.100" stop-color="#6ff508"/><stop offset="0.125" stop-color="#e1f508"/><stop offset="0.150" stop-color="#f58c08"/><stop offset="0.175" stop-color="#f51e08"/><stop offset="0.200" stop-color="#f50834"/><stop offset="0.225" stop-color="#f508a2"/><stop offset="0.250" stop-color="#e808f5"/><stop offset="0.275" stop-color="#9308f7"/><stop offset="0.300" stop-color="#780cf7"/><stop offset="0.325" stop-color="#6b16f8"/><stop offset="0.350" stop-color="#6825f8"/><stop offset="0.375" stop-color="#6829f8"/><stop offset="0.400" stop-color="#6829f8"/><stop offset="0.425" stop-color="#682af8"/><stop offset="0.450" stop-color="#682af8"/><stop offset="0.475" stop-color="#682af8"/><stop offset="0.500" stop-color="#672af8"/><stop offset="0.525" stop-color="#672af8"/><stop offset="0.550" stop-color="#672bf8"/><stop offset="0.575" stop-color="#672bf8"/><stop offset="0.600" stop-color="#672bf8"/><stop offset="0.625" stop-color="#672bf8"/><stop offset="0.650" stop-color="#672bf8"/><stop offset="0.675" stop-color="#6827f8"/><stop offset="0.700" stop-color="#6718f8"/><stop offset="0.725" stop-color="#760df8"/><stop offset="0.750" stop-color="#ae08f6"/><stop offset="0.775" stop-color="#f508c5"/><stop offset="0.800" stop-color="#f50836"/><stop offset="0.825" stop-color="#f52108"/><stop offset="0.850" stop-color="#f5a408"/><stop offset="0.875" stop-color="#bcf508"/><stop offset="0.900" stop-color="#59f508"/><stop offset="0.925" stop-color="#1af508"/><stop offset="0.950" stop-color="#15f508"/><stop offset="0.975" stop-color="#0ff508"/><stop offset="1.000" stop-color="#09f508"/></linearGradient>
<linearGradient id="R22" gradientUnits="userSpaceOnUse" x1="291.10" y1="0" x2="501.66" y2="0"><stop offset="0.000" stop-color="#08f508"/><stop offset="0.025" stop-color="#0af508"/><stop offset="0.050" stop-color="#0ef508"/><stop offset="0.075" stop-color="#30f508"/><stop offset="0.100" stop-color="#6cf508"/><stop offset="0.125" stop-color="#dff508"/><stop offset="0.150" stop-color="#f58f08"/><stop offset="0.175" stop-color="#f51f08"/><stop offset="0.200" stop-color="#f50833"/><stop offset="0.225" stop-color="#f508a0"/><stop offset="0.250" stop-color="#ea08f5"/><stop offset="0.275" stop-color="#9408f7"/><stop offset="0.300" stop-color="#800af7"/><stop offset="0.325" stop-color="#7810f8"/><stop offset="0.350" stop-color="#7619f8"/><stop offset="0.375" stop-color="#761cf8"/><stop offset="0.400" stop-color="#761cf8"/><stop offset="0.425" stop-color="#761cf8"/><stop offset="0.450" stop-color="#761cf8"/><stop offset="0.475" stop-color="#761cf8"/><stop offset="0.500" stop-color="#761cf8"/><stop offset="0.525" stop-color="#761df8"/><stop offset="0.550" stop-color="#761df8"/><stop offset="0.575" stop-color="#761df8"/><stop offset="0.600" stop-color="#761df8"/><stop offset="0.625" stop-color="#761df8"/><stop offset="0.650" stop-color="#761df8"/><stop offset="0.675" stop-color="#761af8"/><stop offset="0.700" stop-color="#7512f8"/><stop offset="0.725" stop-color="#7f0bf7"/><stop offset="0.750" stop-color="#ab08f6"/><stop offset="0.775" stop-color="#f508c8"/><stop offset="0.800" stop-color="#f50838"/><stop offset="0.825" stop-color="#f51f08"/><stop offset="0.850" stop-color="#f5a008"/><stop offset="0.875" stop-color="#bff508"/><stop offset="0.900" stop-color="#5af508"/><stop offset="0.925" stop-color="#1af508"/><stop offset="0.950" stop-color="#15f508"/><stop offset="0.975" stop-color="#0ff508"/><stop offset="1.000" stop-color="#09f508"/></linearGradient>
<linearGradient id="R23" gradientUnits="userSpaceOnUse" x1="291.10" y1="0" x2="501.66" y2="0"><stop offset="0.000" stop-color="#08f508"/><stop offset="0.025" stop-color="#0af508"/><stop offset="0.050" stop-color="#0ef508"/><stop offset="0.075" stop-color="#2ef508"/><stop offset="0.100" stop-color="#6af508"/><stop offset="0.125" stop-color="#dcf508"/><stop offset="0.150" stop-color="#f59208"/><stop offset="0.175" stop-color="#f52108"/><stop offset="0.200" stop-color="#f50831"/><stop offset="0.225" stop-color="#f5089e"/><stop offset="0.250" stop-color="#ec08f5"/><stop offset="0.275" stop-color="#9608f7"/><stop offset="0.300" stop-color="#8709f7"/><stop offset="0.325" stop-color="#830bf7"/><stop offset="0.350" stop-color="#8210f8"/><stop offset="0.375" stop-color="#8211f8"/><stop offset="0.400" stop-color="#8211f8"/><stop offset="0.425" stop-color="#8211f8"/><stop offset="0.450" stop-color="#8211f8"/><stop offset="0.475" stop-color="#8211f8"/><stop offset="0.500" stop-color="#8211f8"/><stop offset="0.525" stop-color="#8211f8"/><stop offset="0.550" stop-color="#8211f8"/><stop offset="0.575" stop-color="#8211f8"/><stop offset="0.600" stop-color="#8211f8"/><stop offset="0.625" stop-color="#8211f8"/><stop offset="0.650" stop-color="#8211f8"/><stop offset="0.675" stop-color="#8210f8"/><stop offset="0.700" stop-color="#820cf7"/><stop offset="0.725" stop-color="#8609f7"/><stop offset="0.750" stop-color="#a908f6"/><stop offset="0.775" stop-color="#f508cb"/><stop offset="0.800" stop-color="#f5083b"/><stop offset="0.825" stop-color="#f51e08"/><stop offset="0.850" stop-color="#f59d08"/><stop offset="0.875" stop-color="#c2f508"/><stop offset="0.900" stop-color="#5cf508"/><stop offset="0.925" stop-color="#1bf508"/><stop offset="0.950" stop-color="#15f508"/><stop offset="0.975" stop-color="#0ff508"/><stop offset="1.000" stop-color="#09f508"/></linearGradient>
<linearGradient id="R24" gradientUnits="userSpaceOnUse" x1="291.10" y1="0" x2="501.66" y2="0"><stop offset="0.000" stop-color="#08f508"/><stop offset="0.025" stop-color="#0af508"/><stop offset="0.050" stop-color="#0ef508"/><stop offset="0.075" stop-color="#2df508"/><stop offset="0.100" stop-color="#69f508"/><stop offset="0.125" stop-color="#daf508"/><stop offset="0.150" stop-color="#f59508"/><stop offset="0.175" stop-color="#f52208"/><stop offset="0.200" stop-color="#f50830"/><stop offset="0.225" stop-color="#f5089c"/><stop offset="0.250" stop-color="#ee08f5"/><stop offset="0.275" stop-color="#9808f7"/><stop offset="0.300" stop-color="#8b08f7"/><stop offset="0.325" stop-color="#8a09f7"/><stop offset="0.350" stop-color="#8a09f7"/><stop offset="0.375" stop-color="#8a0af7"/><stop offset="0.400" stop-color="#8a0af7"/><stop offset="0.425" stop-color="#8a0af7"/><stop offset="0.450" stop-color="#8a0af7"/><stop offset="0.475" stop-color="#8a0af7"/><stop offset="0.500" stop-color="#8a0af7"/><stop offset="0.525" stop-color="#8a0af7"/><stop offset="0.550" stop-color="#8a0af7"/><stop offset="0.575" stop-color="#8a0af7"/><stop offset="0.600" stop-color="#8a0af7"/><stop offset="0.625" stop-color="#8a0af7"/><stop offset="0.650" stop-color="#8a0af7"/><stop offset="0.675" stop-color="#8a0af7"/><stop offset="0.700" stop-color="#8a09f7"/><stop offset="0.725" stop-color="#8a08f7"/><stop offset="0.750" stop-color="#a608f6"/><stop offset="0.775" stop-color="#f508ce"/><stop offset="0.800" stop-color="#f5083e"/><stop offset="0.825" stop-color="#f51c08"/><stop offset="0.850" stop-color="#f59a08"/><stop offset="0.875" stop-color="#c4f508"/><stop offset="0.900" stop-color="#5ef508"/><stop offset="0.925" stop-color="#1bf508"/><stop offset="0.950" stop-color="#15f508"/><stop offset="0.975" stop-color="#0ff508"/><stop offset="1.000" stop-color="#09f508"/></linearGradient>
<linearGradient id="R25" gradientUnits="userSpaceOnUse" x1="291.10" y1="0" x2="501.66" y2="0"><stop offset="0.000" stop-color="#08f508"/><stop offset="0.025" stop-color="#0af508"/><stop offset="0.050" stop-color="#0ef508"/><stop offset="0.075" stop-color="#2cf508"/><stop offset="0.100" stop-color="#68f508"/><stop offset="0.125" stop-color="#d8f508"/><stop offset="0.150" stop-color="#f59708"/><stop offset="0.175" stop-color="#f52408"/><stop offset="0.200" stop-color="#f5082e"/><stop offset="0.225" stop-color="#f5089a"/><stop offset="0.250" stop-color="#ef08f5"/><stop offset="0.275" stop-color="#9a08f6"/><stop offset="0.300" stop-color="#8c08f7"/><stop offset="0.325" stop-color="#8c08f7"/><stop offset="0.350" stop-color="#8c08f7"/><stop offset="0.375" stop-color="#8c08f7"/><stop offset="0.400" stop-color="#8c08f7"/><stop offset="0.425" stop-color="#8c08f7"/><stop offset="0.450" stop-color="#8c08f7"/><stop offset="0.475" stop-color="#8c08f7"/><stop offset="0.500" stop-color="#8c08f7"/><stop offset="0.525" stop-color="#8c08f7"/><stop offset="0.550" stop-color="#8c08f7"/><stop offset="0.575" stop-color="#8c08f7"/><stop offset="0.600" stop-color="#8c08f7"/><stop offset="0.625" stop-color="#8c08f7"/><stop offset="0.650" stop-color="#8c08f7"/><stop offset="0.675" stop-color="#8c08f7"/><stop offset="0.700" stop-color="#8c08f7"/><stop offset="0.725" stop-color="#8c08f7"/><stop offset="0.750" stop-color="#a408f6"/><stop offset="0.775" stop-color="#f508d0"/><stop offset="0.800" stop-color="#f50842"/><stop offset="0.825" stop-color="#f51b08"/><stop offset="0.850" stop-color="#f59708"/><stop offset="0.875" stop-color="#c7f508"/><stop offset="0.900" stop-color="#5ff508"/><stop offset="0.925" stop-color="#1bf508"/><stop offset="0.950" stop-color="#15f508"/><stop offset="0.975" stop-color="#0ff508"/><stop offset="1.000" stop-color="#09f508"/></linearGradient>
<linearGradient id="R26" gradientUnits="userSpaceOnUse" x1="291.10" y1="0" x2="501.66" y2="0"><stop offset="0.000" stop-color="#08f508"/><stop offset="0.025" stop-color="#0af508"/><stop offset="0.050" stop-color="#0ef508"/><stop offset="0.075" stop-color="#2bf508"/><stop offset="0.100" stop-color="#67f508"/><stop offset="0.125" stop-color="#d5f508"/><stop offset="0.150" stop-color="#f59908"/><stop offset="0.175" stop-color="#f52508"/><stop offset="0.200" stop-color="#f5082d"/><stop offset="0.225" stop-color="#f50898"/><stop offset="0.250" stop-color="#f108f5"/><stop offset="0.275" stop-color="#9b08f6"/><stop offset="0.300" stop-color="#8c08f7"/><stop offset="0.325" stop-color="#8c08f7"/><stop offset="0.350" stop-color="#8c08f7"/><stop offset="0.375" stop-color="#8c08f7"/><stop offset="0.400" stop-color="#8c08f7"/><stop offset="0.425" stop-color="#8c08f7"/><stop offset="0.450" stop-color="#8c08f7"/><stop offset="0.475" stop-color="#8c08f7"/><stop offset="0.500" stop-color="#8c08f7"/><stop offset="0.525" stop-color="#8c08f7"/><stop offset="0.550" stop-color="#8c08f7"/><stop offset="0.575" stop-color="#8c08f7"/><stop offset="0.600" stop-color="#8c08f7"/><stop offset="0.625" stop-color="#8c08f7"/><stop offset="0.650" stop-color="#8c08f7"/><stop offset="0.675" stop-color="#8c08f7"/><stop offset="0.700" stop-color="#8c08f7"/><stop offset="0.725" stop-color="#8c08f7"/><stop offset="0.750" stop-color="#a208f6"/><stop offset="0.775" stop-color="#f508d2"/><stop offset="0.800" stop-color="#f50845"/><stop offset="0.825" stop-color="#f51908"/><stop offset="0.850" stop-color="#f59408"/><stop offset="0.875" stop-color="#c9f508"/><stop offset="0.900" stop-color="#61f508"/><stop offset="0.925" stop-color="#1bf508"/><stop offset="0.950" stop-color="#15f508"/><stop offset="0.975" stop-color="#0ff508"/><stop offset="1.000" stop-color="#0af508"/></linearGradient>
</defs>
<g><rect x="56.25" y="428.00" width="210.56" height="2.60" fill="url(#L0)"/><rect x="56.25" y="430.00" width="210.56" height="2.60" fill="url(#L1)"/><rect x="56.25" y="432.00" width="210.56" height="2.60" fill="url(#L2)"/><rect x="56.25" y="434.00" width="210.56" height="2.60" fill="url(#L3)"/><rect x="56.25" y="436.00" width="210.56" height="2.60" fill="url(#L4)"/><rect x="56.25" y="438.00" width="210.56" height="2.60" fill="url(#L5)"/><rect x="56.25" y="440.00" width="210.56" height="2.60" fill="url(#L6)"/><rect x="56.25" y="442.00" width="210.56" height="2.60" fill="url(#L7)"/><rect x="56.25" y="444.00" width="210.56" height="2.60" fill="url(#L8)"/><rect x="56.25" y="446.00" width="210.56" height="2.60" fill="url(#L9)"/><rect x="56.25" y="448.00" width="210.56" height="2.60" fill="url(#L10)"/><rect x="56.25" y="450.00" width="210.56" height="2.60" fill="url(#L11)"/><rect x="56.25" y="452.00" width="210.56" height="2.60" fill="url(#L12)"/><rect x="56.25" y="454.00" width="210.56" height="2.60" fill="url(#L13)"/><rect x="56.25" y="456.00" width="210.56" height="2.60" fill="url(#L14)"/><rect x="56.25" y="458.00" width="210.56" height="2.60" fill="url(#L15)"/><rect x="56.25" y="460.00" width="210.56" height="2.60" fill="url(#L16)"/><rect x="56.25" y="462.00" width="210.56" height="2.60" fill="url(#L17)"/><rect x="56.25" y="464.00" width="210.56" height="2.60" fill="url(#L18)"/><rect x="56.25" y="466.00" width="210.56" height="2.60" fill="url(#L19)"/><rect x="56.25" y="468.00" width="210.56" height="2.60" fill="url(#L20)"/><rect x="56.25" y="470.00" width="210.56" height="2.60" fill="url(#L21)"/><rect x="56.25" y="472.00" width="210.56" height="2.60" fill="url(#L22)"/><rect x="56.25" y="474.00" width="210.56" height="2.60" fill="url(#L23)"/><rect x="56.25" y="476.00" width="210.56" height="2.60" fill="url(#L24)"/><rect x="56.25" y="478.00" width="210.56" height="2.60" fill="url(#L25)"/><rect x="56.25" y="480.00" width="210.56" height="10.00" fill="url(#L26)"/><rect x="291.10" y="428.00" width="210.56" height="2.60" fill="url(#R0)"/><rect x="291.10" y="430.00" width="210.56" height="2.60" fill="url(#R1)"/><rect x="291.10" y="432.00" width="210.56" height="2.60" fill="url(#R2)"/><rect x="291.10" y="434.00" width="210.56" height="2.60" fill="url(#R3)"/><rect x="291.10" y="436.00" width="210.56" height="2.60" fill="url(#R4)"/><rect x="291.10" y="438.00" width="210.56" height="2.60" fill="url(#R5)"/><rect x="291.10" y="440.00" width="210.56" height="2.60" fill="url(#R6)"/><rect x="291.10" y="442.00" width="210.56" height="2.60" fill="url(#R7)"/><rect x="291.10" y="444.00" width="210.56" height="2.60" fill="url(#R8)"/><rect x="291.10" y="446.00" width="210.56" height="2.60" fill="url(#R9)"/><rect x="291.10" y="448.00" width="210.56" height="2.60" fill="url(#R10)"/><rect x="291.10" y="450.00" width="210.56" height="2.60" fill="url(#R11)"/><rect x="291.10" y="452.00" width="210.56" height="2.60" fill="url(#R12)"/><rect x="291.10" y="454.00" width="210.56" height="2.60" fill="url(#R13)"/><rect x="291.10" y="456.00" width="210.56" height="2.60" fill="url(#R14)"/><rect x="291.10" y="458.00" width="210.56" height="2.60" fill="url(#R15)"/><rect x="291.10" y="460.00" width="210.56" height="2.60" fill="url(#R16)"/><rect x="291.10" y="462.00" width="210.56" height="2.60" fill="url(#R17)"/><rect x="291.10" y="464.00" width="210.56" height="2.60" fill="url(#R18)"/><rect x="291.10" y="466.00" width="210.56" height="2.60" fill="url(#R19)"/><rect x="291.10" y="468.00" width="210.56" height="2.60" fill="url(#R20)"/><rect x="291.10" y="470.00" width="210.56" height="2.60" fill="url(#R21)"/><rect x="291.10" y="472.00" width="210.56" height="2.60" fill="url(#R22)"/><rect x="291.10" y="474.00" width="210.56" height="2.60" fill="url(#R23)"/><rect x="291.10" y="476.00" width="210.56" height="2.60" fill="url(#R24)"/><rect x="291.10" y="478.00" width="210.56" height="2.60" fill="url(#R25)"/><rect x="291.10" y="480.00" width="210.56" height="10.00" fill="url(#R26)"/></g>
<g fill="#000" fill-opacity="0.45"><polygon points="58.4,432.6 67.7,434.5 66.0,438.3"/><polygon points="71.7,432.2 80.9,434.8 78.9,438.5"/><polygon points="86.1,430.8 93.6,436.7 90.3,439.3"/><polygon points="100.6,430.0 105.8,438.0 101.9,439.4"/><polygon points="118.1,430.4 114.9,439.4 111.4,437.2"/><polygon points="132.5,431.6 126.4,438.9 123.9,435.6"/><polygon points="146.0,432.0 139.1,438.7 136.9,435.1"/><polygon points="159.1,432.0 152.3,438.7 150.1,435.1"/><polygon points="172.3,432.0 165.5,438.7 163.3,435.1"/><polygon points="185.2,431.6 179.0,438.9 176.5,435.6"/><polygon points="197.1,430.5 193.8,439.4 190.3,437.1"/><polygon points="206.0,430.0 211.0,438.0 207.1,439.4"/><polygon points="218.0,430.5 225.0,437.0 221.5,439.4"/><polygon points="229.7,432.0 238.8,435.1 236.6,438.7"/><polygon points="242.6,432.6 251.9,434.5 250.2,438.3"/><polygon points="255.8,432.6 265.1,434.5 263.4,438.3"/><polygon points="60.3,443.5 66.9,450.4 63.3,452.6"/><polygon points="73.5,443.5 80.1,450.4 76.5,452.6"/><polygon points="86.6,443.5 93.2,450.4 89.6,452.6"/><polygon points="100.1,443.4 106.2,450.7 102.4,452.6"/><polygon points="115.6,442.8 117.5,452.2 113.3,452.1"/><polygon points="130.9,443.4 128.5,452.6 124.7,450.7"/><polygon points="144.8,443.9 140.7,452.5 137.4,449.9"/><polygon points="158.3,444.1 153.5,452.4 150.4,449.6"/><polygon points="171.3,444.0 166.8,452.4 163.6,449.7"/><polygon points="184.0,443.7 180.5,452.6 177.0,450.2"/><polygon points="196.1,443.1 194.9,452.6 190.9,451.1"/><polygon points="206.4,443.0 210.7,451.5 206.6,452.5"/><polygon points="218.2,443.5 224.8,450.4 221.2,452.6"/><polygon points="231.4,443.5 238.0,450.4 234.4,452.6"/><polygon points="244.5,443.5 251.1,450.4 247.5,452.6"/><polygon points="257.7,443.5 264.3,450.4 260.7,452.6"/><polygon points="60.3,456.7 66.9,463.6 63.3,465.8"/><polygon points="73.5,456.7 80.1,463.6 76.5,465.8"/><polygon points="86.6,456.7 93.2,463.6 89.6,465.8"/><polygon points="99.8,456.7 106.4,463.6 102.7,465.8"/><polygon points="114.8,456.0 118.2,465.0 114.0,465.6"/><polygon points="130.6,456.4 128.8,465.8 125.0,464.1"/><polygon points="144.7,456.9 140.9,465.7 137.5,463.2"/><polygon points="158.2,457.2 153.6,465.6 150.5,462.8"/><polygon points="171.4,457.3 166.7,465.6 163.6,462.7"/><polygon points="184.3,457.0 180.2,465.7 176.9,463.1"/><polygon points="196.6,456.5 194.4,465.8 190.6,463.9"/><polygon points="207.5,456.0 209.8,465.3 205.6,465.3"/><polygon points="218.5,456.6 224.6,463.8 220.9,465.8"/><polygon points="231.4,456.7 238.0,463.6 234.4,465.8"/><polygon points="244.5,456.7 251.1,463.6 247.5,465.8"/><polygon points="257.7,456.7 264.3,463.6 260.7,465.8"/><polygon points="58.4,472.0 67.7,474.0 66.0,477.8"/><polygon points="71.5,472.0 80.9,474.0 79.1,477.8"/><polygon points="84.9,471.6 94.0,474.4 91.9,478.1"/><polygon points="99.3,470.2 106.7,476.3 103.3,478.8"/><polygon points="114.1,469.4 118.7,477.7 114.7,478.9"/><polygon points="131.4,470.1 127.8,478.9 124.4,476.5"/><polygon points="145.7,471.2 139.5,478.4 137.0,475.0"/><polygon points="159.1,471.5 152.3,478.1 150.1,474.6"/><polygon points="172.3,471.5 165.5,478.1 163.3,474.6"/><polygon points="185.5,471.5 178.6,478.1 176.4,474.6"/><polygon points="198.4,471.2 192.0,478.3 189.6,474.9"/><polygon points="210.7,470.3 206.4,478.8 203.2,476.1"/><polygon points="220.2,469.2 223.4,478.2 219.2,478.7"/><polygon points="230.8,470.3 238.3,476.1 235.1,478.8"/><polygon points="242.7,471.9 251.9,474.2 250.1,477.9"/><polygon points="255.8,472.0 265.1,474.0 263.4,477.8"/><polygon points="295.3,430.3 301.6,437.4 298.0,439.4"/><polygon points="310.9,429.7 312.9,439.0 308.7,439.0"/><polygon points="328.8,433.6 320.1,437.5 319.3,433.4"/><polygon points="340.8,437.9 332.5,433.1 335.3,430.1"/><polygon points="350.0,439.5 348.5,430.1 352.7,430.3"/><polygon points="363.2,439.5 361.6,430.1 365.8,430.3"/><polygon points="376.4,439.5 374.8,430.1 379.0,430.3"/><polygon points="389.5,439.5 387.9,430.1 392.1,430.3"/><polygon points="402.7,439.5 401.1,430.1 405.3,430.3"/><polygon points="415.8,439.5 414.3,430.1 418.5,430.3"/><polygon points="429.0,439.5 427.4,430.1 431.6,430.3"/><polygon points="442.2,439.5 440.6,430.1 444.8,430.3"/><polygon points="460.0,436.7 450.7,434.6 452.5,430.8"/><polygon points="472.2,431.1 467.1,439.2 464.2,436.2"/><polygon points="480.1,430.0 485.5,437.9 481.6,439.4"/><polygon points="492.8,430.3 499.0,437.5 495.3,439.4"/><polygon points="295.3,443.4 301.6,450.6 298.0,452.6"/><polygon points="310.5,442.9 313.2,452.0 309.0,452.3"/><polygon points="328.7,446.4 320.4,451.0 319.2,446.9"/><polygon points="341.0,450.8 332.4,446.6 335.1,443.3"/><polygon points="350.1,452.6 348.4,443.2 352.6,443.4"/><polygon points="360.5,451.6 364.5,443.0 367.8,445.5"/><polygon points="373.5,451.5 377.9,443.0 381.1,445.7"/><polygon points="386.6,451.5 391.1,443.0 394.3,445.8"/><polygon points="399.7,451.4 404.3,443.0 407.4,445.8"/><polygon points="412.9,451.4 417.5,443.1 420.6,445.8"/><polygon points="426.0,451.4 430.7,443.1 433.8,445.9"/><polygon points="441.4,452.5 441.3,443.0 445.4,443.9"/><polygon points="459.8,450.3 450.7,447.2 452.9,443.7"/><polygon points="472.5,444.6 466.7,452.2 464.0,448.9"/><polygon points="480.3,443.1 485.3,451.2 481.4,452.6"/><polygon points="492.8,443.4 499.0,450.6 495.3,452.6"/><polygon points="295.3,456.6 301.6,463.7 298.0,465.8"/><polygon points="310.3,456.0 313.4,465.0 309.3,465.5"/><polygon points="328.6,459.1 320.6,464.4 319.1,460.5"/><polygon points="341.1,463.8 332.4,460.0 334.8,456.6"/><polygon points="350.3,465.8 348.3,456.5 352.5,456.5"/><polygon points="360.7,464.9 364.3,456.1 367.7,458.5"/><polygon points="373.5,464.6 377.9,456.2 381.1,458.9"/><polygon points="386.6,464.6 391.1,456.2 394.3,458.9"/><polygon points="399.7,464.6 404.3,456.2 407.4,459.0"/><polygon points="412.9,464.6 417.5,456.2 420.6,459.0"/><polygon points="426.0,464.5 430.7,456.2 433.8,459.0"/><polygon points="441.2,465.7 441.5,456.1 445.6,457.1"/><polygon points="459.5,463.8 450.8,460.0 453.3,456.6"/><polygon points="472.8,458.2 466.3,465.1 463.9,461.6"/><polygon points="480.6,456.2 485.2,464.5 481.1,465.7"/><polygon points="492.8,456.6 499.0,463.8 495.3,465.8"/><polygon points="295.3,469.8 301.7,476.9 298.0,478.9"/><polygon points="310.1,469.2 313.6,478.1 309.4,478.7"/><polygon points="328.4,471.9 321.0,477.9 319.1,474.1"/><polygon points="341.3,476.7 332.3,473.5 334.6,469.9"/><polygon points="350.5,479.0 348.1,469.7 352.3,469.6"/><polygon points="363.2,479.0 361.6,469.6 365.8,469.8"/><polygon points="376.4,479.0 374.8,469.6 379.0,469.8"/><polygon points="389.5,479.0 387.9,469.6 392.1,469.8"/><polygon points="402.7,479.0 401.1,469.6 405.3,469.8"/><polygon points="415.8,479.0 414.3,469.6 418.5,469.8"/><polygon points="429.0,479.0 427.4,469.6 431.6,469.8"/><polygon points="442.2,479.0 440.6,469.6 444.8,469.8"/><polygon points="459.3,477.3 450.9,472.7 453.7,469.6"/><polygon points="473.1,471.7 465.9,478.0 463.9,474.3"/><polygon points="480.8,469.3 485.0,477.8 480.9,478.8"/><polygon points="492.8,469.7 499.0,477.0 495.3,478.9"/></g>
<g stroke="#262626" stroke-width="1.2" fill="none"><rect x="71.50" y="5.80" width="445.00" height="169.60" fill="none"/><path d="M160.50 175.40V168.90M160.50 5.80V12.30M249.50 175.40V168.90M249.50 5.80V12.30M338.50 175.40V168.90M338.50 5.80V12.30M427.50 175.40V168.90M427.50 5.80V12.30M71.50 48.20H78.00M516.50 48.20H510.00M71.50 90.60H78.00M516.50 90.60H510.00M71.50 133.00H78.00M516.50 133.00H510.00"/><rect x="71.50" y="175.40" width="445.00" height="175.45" fill="none"/><path d="M160.50 350.85V344.35M160.50 175.40V181.90M249.50 350.85V344.35M249.50 175.40V181.90M338.50 350.85V344.35M338.50 175.40V181.90M427.50 350.85V344.35M427.50 175.40V181.90M71.50 219.26H78.00M516.50 219.26H510.00M71.50 263.12H78.00M516.50 263.12H510.00M71.50 306.99H78.00M516.50 306.99H510.00"/></g>
<text transform="translate(61.00 11.30) scale(0.955 1)" text-anchor="end">1</text><text transform="translate(61.00 53.70) scale(0.955 1)" text-anchor="end">0.5</text><text transform="translate(61.00 96.10) scale(0.955 1)" text-anchor="end">0</text><text transform="translate(61.00 138.50) scale(0.955 1)" text-anchor="end">-0.5</text><text transform="translate(61.00 180.90) scale(0.955 1)" text-anchor="end">-1</text>
<text transform="translate(61.00 224.76) scale(0.955 1)" text-anchor="end">0.5</text><text transform="translate(61.00 268.62) scale(0.955 1)" text-anchor="end">0</text><text transform="translate(61.00 312.49) scale(0.955 1)" text-anchor="end">-0.5</text><text transform="translate(61.00 356.35) scale(0.955 1)" text-anchor="end">-1</text>
<text transform="translate(71.50 375.10) scale(0.955 1)" text-anchor="middle">0</text>
<text transform="translate(160.50 375.10) scale(0.955 1)" text-anchor="middle">0.2</text>
<text transform="translate(249.50 375.10) scale(0.955 1)" text-anchor="middle">0.4</text>
<text transform="translate(338.50 375.10) scale(0.955 1)" text-anchor="middle">0.6</text>
<text transform="translate(427.50 375.10) scale(0.955 1)" text-anchor="middle">0.8</text>
<text transform="translate(516.50 375.10) scale(0.955 1)" text-anchor="middle">1</text>
<text transform="translate(293.60 401.50) scale(0.955 1)" text-anchor="middle">t (ns)</text>
<text transform="translate(8.90 90.70) rotate(-90) scale(0.955 1)" text-anchor="middle">&lt;m&gt;</text>
<text transform="translate(8.90 263.20) rotate(-90) scale(0.955 1)" text-anchor="middle">&lt;m&gt;</text>
<text transform="translate(100.60 129.15) scale(0.955 1)" text-anchor="end">mx</text><text transform="translate(100.60 147.25) scale(0.955 1)" text-anchor="end">my</text><text transform="translate(100.60 165.35) scale(0.955 1)" text-anchor="end">mz</text>
<text transform="translate(100.60 304.65) scale(0.955 1)" text-anchor="end">mx</text><text transform="translate(100.60 322.75) scale(0.955 1)" text-anchor="end">my</text><text transform="translate(100.60 340.85) scale(0.955 1)" text-anchor="end">mz</text>
<g fill="#6e6e6e" stroke="none"><rect x="68.90" y="87.40" width="5.2" height="5.2"/><rect x="75.58" y="87.40" width="5.2" height="5.2"/><rect x="82.25" y="86.90" width="5.2" height="5.2"/><rect x="88.93" y="86.65" width="5.2" height="5.2"/><rect x="95.60" y="86.15" width="5.2" height="5.2"/><rect x="102.28" y="85.40" width="5.2" height="5.2"/><rect x="108.95" y="84.90" width="5.2" height="5.2"/><rect x="115.62" y="84.15" width="5.2" height="5.2"/><rect x="122.30" y="83.15" width="5.2" height="5.2"/><rect x="128.97" y="81.90" width="5.2" height="5.2"/><rect x="135.65" y="80.40" width="5.2" height="5.2"/><rect x="142.33" y="79.40" width="5.2" height="5.2"/><rect x="149.00" y="82.40" width="5.2" height="5.2"/><rect x="155.67" y="86.65" width="5.2" height="5.2"/><rect x="162.35" y="90.40" width="5.2" height="5.2"/><rect x="169.03" y="92.40" width="5.2" height="5.2"/><rect x="175.70" y="92.40" width="5.2" height="5.2"/><rect x="182.38" y="90.65" width="5.2" height="5.2"/><rect x="189.05" y="88.65" width="5.2" height="5.2"/><rect x="195.72" y="84.90" width="5.2" height="5.2"/><rect x="202.40" y="81.15" width="5.2" height="5.2"/><rect x="209.07" y="78.65" width="5.2" height="5.2"/><rect x="215.75" y="78.15" width="5.2" height="5.2"/><rect x="222.43" y="79.40" width="5.2" height="5.2"/><rect x="229.10" y="82.40" width="5.2" height="5.2"/><rect x="235.78" y="84.15" width="5.2" height="5.2"/><rect x="242.45" y="84.15" width="5.2" height="5.2"/><rect x="249.12" y="83.15" width="5.2" height="5.2"/><rect x="255.80" y="81.90" width="5.2" height="5.2"/><rect x="262.47" y="80.40" width="5.2" height="5.2"/><rect x="269.15" y="79.90" width="5.2" height="5.2"/><rect x="275.82" y="79.40" width="5.2" height="5.2"/><rect x="282.50" y="79.90" width="5.2" height="5.2"/><rect x="289.17" y="80.40" width="5.2" height="5.2"/><rect x="295.85" y="81.90" width="5.2" height="5.2"/><rect x="302.52" y="83.65" width="5.2" height="5.2"/><rect x="309.20" y="84.90" width="5.2" height="5.2"/><rect x="315.88" y="85.15" width="5.2" height="5.2"/><rect x="322.55" y="86.90" width="5.2" height="5.2"/><rect x="329.22" y="88.65" width="5.2" height="5.2"/><rect x="335.90" y="90.65" width="5.2" height="5.2"/><rect x="342.57" y="92.40" width="5.2" height="5.2"/><rect x="349.25" y="93.15" width="5.2" height="5.2"/><rect x="355.92" y="92.40" width="5.2" height="5.2"/><rect x="362.60" y="91.15" width="5.2" height="5.2"/><rect x="369.27" y="89.15" width="5.2" height="5.2"/><rect x="375.95" y="86.15" width="5.2" height="5.2"/><rect x="382.62" y="82.40" width="5.2" height="5.2"/><rect x="389.30" y="80.40" width="5.2" height="5.2"/><rect x="395.97" y="80.40" width="5.2" height="5.2"/><rect x="402.65" y="82.40" width="5.2" height="5.2"/><rect x="409.32" y="86.15" width="5.2" height="5.2"/><rect x="416.00" y="89.90" width="5.2" height="5.2"/><rect x="422.67" y="92.40" width="5.2" height="5.2"/><rect x="429.35" y="93.65" width="5.2" height="5.2"/><rect x="436.02" y="92.15" width="5.2" height="5.2"/><rect x="442.70" y="89.90" width="5.2" height="5.2"/><rect x="449.37" y="86.90" width="5.2" height="5.2"/><rect x="456.05" y="84.40" width="5.2" height="5.2"/><rect x="462.72" y="82.90" width="5.2" height="5.2"/><rect x="469.40" y="83.15" width="5.2" height="5.2"/><rect x="476.07" y="84.40" width="5.2" height="5.2"/><rect x="482.75" y="86.90" width="5.2" height="5.2"/><rect x="489.42" y="88.65" width="5.2" height="5.2"/><rect x="496.10" y="89.40" width="5.2" height="5.2"/><rect x="502.77" y="89.40" width="5.2" height="5.2"/><rect x="509.45" y="88.65" width="5.2" height="5.2"/><rect x="68.90" y="260.65" width="5.2" height="5.2"/><rect x="75.58" y="262.40" width="5.2" height="5.2"/><rect x="82.25" y="263.65" width="5.2" height="5.2"/><rect x="88.93" y="264.90" width="5.2" height="5.2"/><rect x="95.60" y="265.65" width="5.2" height="5.2"/><rect x="102.28" y="266.90" width="5.2" height="5.2"/><rect x="108.95" y="267.40" width="5.2" height="5.2"/><rect x="115.62" y="268.15" width="5.2" height="5.2"/><rect x="122.30" y="269.90" width="5.2" height="5.2"/><rect x="128.97" y="271.90" width="5.2" height="5.2"/><rect x="135.65" y="274.40" width="5.2" height="5.2"/><rect x="142.33" y="275.40" width="5.2" height="5.2"/><rect x="149.00" y="275.40" width="5.2" height="5.2"/><rect x="155.67" y="274.90" width="5.2" height="5.2"/><rect x="162.35" y="271.90" width="5.2" height="5.2"/><rect x="169.03" y="267.40" width="5.2" height="5.2"/><rect x="175.70" y="261.65" width="5.2" height="5.2"/><rect x="182.38" y="257.90" width="5.2" height="5.2"/><rect x="189.05" y="255.40" width="5.2" height="5.2"/><rect x="195.72" y="254.65" width="5.2" height="5.2"/><rect x="202.40" y="254.15" width="5.2" height="5.2"/><rect x="209.07" y="253.90" width="5.2" height="5.2"/><rect x="215.75" y="254.15" width="5.2" height="5.2"/><rect x="222.43" y="255.40" width="5.2" height="5.2"/><rect x="229.10" y="257.40" width="5.2" height="5.2"/><rect x="235.78" y="259.40" width="5.2" height="5.2"/><rect x="242.45" y="261.15" width="5.2" height="5.2"/><rect x="249.12" y="263.65" width="5.2" height="5.2"/><rect x="255.80" y="266.15" width="5.2" height="5.2"/><rect x="262.47" y="267.40" width="5.2" height="5.2"/><rect x="269.15" y="266.90" width="5.2" height="5.2"/><rect x="275.82" y="264.40" width="5.2" height="5.2"/><rect x="282.50" y="260.65" width="5.2" height="5.2"/><rect x="289.17" y="257.40" width="5.2" height="5.2"/><rect x="295.85" y="254.40" width="5.2" height="5.2"/><rect x="302.52" y="253.65" width="5.2" height="5.2"/><rect x="309.20" y="253.90" width="5.2" height="5.2"/><rect x="315.88" y="256.15" width="5.2" height="5.2"/><rect x="322.55" y="259.90" width="5.2" height="5.2"/><rect x="329.22" y="263.65" width="5.2" height="5.2"/><rect x="335.90" y="266.15" width="5.2" height="5.2"/><rect x="342.57" y="266.90" width="5.2" height="5.2"/><rect x="349.25" y="264.90" width="5.2" height="5.2"/><rect x="355.92" y="261.65" width="5.2" height="5.2"/><rect x="362.60" y="258.15" width="5.2" height="5.2"/><rect x="369.27" y="255.65" width="5.2" height="5.2"/><rect x="375.95" y="254.90" width="5.2" height="5.2"/><rect x="382.62" y="256.15" width="5.2" height="5.2"/><rect x="389.30" y="258.90" width="5.2" height="5.2"/><rect x="395.97" y="261.65" width="5.2" height="5.2"/><rect x="402.65" y="264.65" width="5.2" height="5.2"/><rect x="409.32" y="266.15" width="5.2" height="5.2"/><rect x="416.00" y="265.65" width="5.2" height="5.2"/><rect x="422.67" y="262.40" width="5.2" height="5.2"/><rect x="429.35" y="258.90" width="5.2" height="5.2"/><rect x="436.02" y="255.90" width="5.2" height="5.2"/><rect x="442.70" y="254.40" width="5.2" height="5.2"/><rect x="449.37" y="254.90" width="5.2" height="5.2"/><rect x="456.05" y="257.90" width="5.2" height="5.2"/><rect x="462.72" y="260.65" width="5.2" height="5.2"/><rect x="469.40" y="263.65" width="5.2" height="5.2"/><rect x="476.07" y="265.40" width="5.2" height="5.2"/><rect x="482.75" y="265.40" width="5.2" height="5.2"/><rect x="489.42" y="263.65" width="5.2" height="5.2"/><rect x="496.10" y="260.65" width="5.2" height="5.2"/><rect x="502.77" y="258.15" width="5.2" height="5.2"/><rect x="509.45" y="256.90" width="5.2" height="5.2"/><rect x="121.70" y="156.70" width="5.2" height="5.2"/><rect x="121.70" y="332.40" width="5.2" height="5.2"/></g>
<g fill="none" stroke="#735f5f" stroke-width="1.05"><circle cx="71.50" cy="8.75" r="2.3"/><circle cx="78.17" cy="8.75" r="2.3"/><circle cx="84.85" cy="10.00" r="2.3"/><circle cx="91.53" cy="12.50" r="2.3"/><circle cx="98.20" cy="17.00" r="2.3"/><circle cx="104.88" cy="24.25" r="2.3"/><circle cx="111.55" cy="33.75" r="2.3"/><circle cx="118.22" cy="47.50" r="2.3"/><circle cx="124.90" cy="66.25" r="2.3"/><circle cx="131.57" cy="87.50" r="2.3"/><circle cx="138.25" cy="109.25" r="2.3"/><circle cx="144.93" cy="123.75" r="2.3"/><circle cx="151.60" cy="126.75" r="2.3"/><circle cx="158.27" cy="129.50" r="2.3"/><circle cx="164.95" cy="134.25" r="2.3"/><circle cx="171.62" cy="139.50" r="2.3"/><circle cx="178.30" cy="141.25" r="2.3"/><circle cx="184.97" cy="132.00" r="2.3"/><circle cx="191.65" cy="120.00" r="2.3"/><circle cx="198.32" cy="114.50" r="2.3"/><circle cx="205.00" cy="113.25" r="2.3"/><circle cx="211.67" cy="113.25" r="2.3"/><circle cx="218.35" cy="112.50" r="2.3"/><circle cx="225.03" cy="108.75" r="2.3"/><circle cx="231.70" cy="107.50" r="2.3"/><circle cx="238.38" cy="111.75" r="2.3"/><circle cx="245.05" cy="119.25" r="2.3"/><circle cx="251.72" cy="125.75" r="2.3"/><circle cx="258.40" cy="130.00" r="2.3"/><circle cx="265.07" cy="136.25" r="2.3"/><circle cx="271.75" cy="144.40" r="2.3"/><circle cx="278.42" cy="150.20" r="2.3"/><circle cx="285.10" cy="154.00" r="2.3"/><circle cx="291.77" cy="158.70" r="2.3"/><circle cx="298.45" cy="163.10" r="2.3"/><circle cx="305.12" cy="163.50" r="2.3"/><circle cx="311.80" cy="160.60" r="2.3"/><circle cx="318.48" cy="155.80" r="2.3"/><circle cx="325.15" cy="153.40" r="2.3"/><circle cx="331.82" cy="156.50" r="2.3"/><circle cx="338.50" cy="163.20" r="2.3"/><circle cx="345.18" cy="167.80" r="2.3"/><circle cx="351.85" cy="167.40" r="2.3"/><circle cx="358.52" cy="161.50" r="2.3"/><circle cx="365.20" cy="155.00" r="2.3"/><circle cx="371.88" cy="153.75" r="2.3"/><circle cx="378.55" cy="158.25" r="2.3"/><circle cx="385.22" cy="164.50" r="2.3"/><circle cx="391.90" cy="168.25" r="2.3"/><circle cx="398.57" cy="169.75" r="2.3"/><circle cx="405.25" cy="169.00" r="2.3"/><circle cx="411.93" cy="167.50" r="2.3"/><circle cx="418.60" cy="168.75" r="2.3"/><circle cx="425.27" cy="170.25" r="2.3"/><circle cx="431.95" cy="171.00" r="2.3"/><circle cx="438.62" cy="169.75" r="2.3"/><circle cx="445.30" cy="167.00" r="2.3"/><circle cx="451.97" cy="164.50" r="2.3"/><circle cx="458.65" cy="165.75" r="2.3"/><circle cx="465.32" cy="168.75" r="2.3"/><circle cx="472.00" cy="172.00" r="2.3"/><circle cx="478.68" cy="173.25" r="2.3"/><circle cx="485.35" cy="172.50" r="2.3"/><circle cx="492.02" cy="171.75" r="2.3"/><circle cx="498.70" cy="170.75" r="2.3"/><circle cx="505.38" cy="170.75" r="2.3"/><circle cx="512.05" cy="171.25" r="2.3"/><circle cx="71.50" cy="178.75" r="2.3"/><circle cx="78.17" cy="179.25" r="2.3"/><circle cx="84.85" cy="180.75" r="2.3"/><circle cx="91.53" cy="184.25" r="2.3"/><circle cx="98.20" cy="190.00" r="2.3"/><circle cx="104.88" cy="198.25" r="2.3"/><circle cx="111.55" cy="208.75" r="2.3"/><circle cx="118.22" cy="222.00" r="2.3"/><circle cx="124.90" cy="238.75" r="2.3"/><circle cx="131.57" cy="258.25" r="2.3"/><circle cx="138.25" cy="279.50" r="2.3"/><circle cx="144.93" cy="300.75" r="2.3"/><circle cx="151.60" cy="319.50" r="2.3"/><circle cx="158.27" cy="332.00" r="2.3"/><circle cx="164.95" cy="338.25" r="2.3"/><circle cx="171.62" cy="335.00" r="2.3"/><circle cx="178.30" cy="327.00" r="2.3"/><circle cx="184.97" cy="322.00" r="2.3"/><circle cx="191.65" cy="320.50" r="2.3"/><circle cx="198.32" cy="322.25" r="2.3"/><circle cx="205.00" cy="328.25" r="2.3"/><circle cx="211.67" cy="338.75" r="2.3"/><circle cx="218.35" cy="345.00" r="2.3"/><circle cx="225.03" cy="334.50" r="2.3"/><circle cx="231.70" cy="325.00" r="2.3"/><circle cx="238.38" cy="322.50" r="2.3"/><circle cx="245.05" cy="326.25" r="2.3"/><circle cx="251.72" cy="334.25" r="2.3"/><circle cx="258.40" cy="341.25" r="2.3"/><circle cx="265.07" cy="343.25" r="2.3"/><circle cx="271.75" cy="341.75" r="2.3"/><circle cx="278.42" cy="338.75" r="2.3"/><circle cx="285.10" cy="338.00" r="2.3"/><circle cx="291.77" cy="341.75" r="2.3"/><circle cx="298.45" cy="345.50" r="2.3"/><circle cx="305.12" cy="344.50" r="2.3"/><circle cx="311.80" cy="340.50" r="2.3"/><circle cx="318.48" cy="337.00" r="2.3"/><circle cx="325.15" cy="335.75" r="2.3"/><circle cx="331.82" cy="338.75" r="2.3"/><circle cx="338.50" cy="342.50" r="2.3"/><circle cx="345.18" cy="343.75" r="2.3"/><circle cx="351.85" cy="342.50" r="2.3"/><circle cx="358.52" cy="342.00" r="2.3"/><circle cx="365.20" cy="344.50" r="2.3"/><circle cx="371.88" cy="348.00" r="2.3"/><circle cx="378.55" cy="348.25" r="2.3"/><circle cx="385.22" cy="345.00" r="2.3"/><circle cx="391.90" cy="342.75" r="2.3"/><circle cx="398.57" cy="343.50" r="2.3"/><circle cx="405.25" cy="345.50" r="2.3"/><circle cx="411.93" cy="347.75" r="2.3"/><circle cx="418.60" cy="348.75" r="2.3"/><circle cx="425.27" cy="348.00" r="2.3"/><circle cx="431.95" cy="347.25" r="2.3"/><circle cx="438.62" cy="348.00" r="2.3"/><circle cx="445.30" cy="348.75" r="2.3"/><circle cx="451.97" cy="347.00" r="2.3"/><circle cx="458.65" cy="344.50" r="2.3"/><circle cx="465.32" cy="343.75" r="2.3"/><circle cx="472.00" cy="345.00" r="2.3"/><circle cx="478.68" cy="347.00" r="2.3"/><circle cx="485.35" cy="347.80" r="2.3"/><circle cx="492.02" cy="347.80" r="2.3"/><circle cx="498.70" cy="348.00" r="2.3"/><circle cx="505.38" cy="348.70" r="2.3"/><circle cx="512.05" cy="349.20" r="2.3"/></g>
<g fill="none" stroke="#6a6a6a" stroke-width="1.05"><circle cx="124.30" cy="123.20" r="2.3"/><circle cx="124.30" cy="298.90" r="2.3"/></g>
<path fill="none" stroke="#7c7c7c" stroke-width="0.9" d="M69.10 80.00h4.8M71.50 77.60v4.8M75.77 80.50h4.8M78.17 78.10v4.8M82.45 82.00h4.8M84.85 79.60v4.8M89.12 84.75h4.8M91.53 82.35v4.8M95.80 89.50h4.8M98.20 87.10v4.8M102.47 96.00h4.8M104.88 93.60v4.8M109.15 102.00h4.8M111.55 99.60v4.8M115.82 107.50h4.8M118.22 105.10v4.8M122.50 110.75h4.8M124.90 108.35v4.8M129.17 108.50h4.8M131.57 106.10v4.8M135.85 100.00h4.8M138.25 97.60v4.8M142.53 82.50h4.8M144.93 80.10v4.8M149.20 67.25h4.8M151.60 64.85v4.8M155.87 61.25h4.8M158.27 58.85v4.8M162.55 65.50h4.8M164.95 63.10v4.8M169.22 77.75h4.8M171.62 75.35v4.8M175.90 94.00h4.8M178.30 91.60v4.8M182.57 107.75h4.8M184.97 105.35v4.8M189.25 115.50h4.8M191.65 113.10v4.8M195.92 117.25h4.8M198.32 114.85v4.8M202.60 113.00h4.8M205.00 110.60v4.8M209.27 103.75h4.8M211.67 101.35v4.8M215.95 90.00h4.8M218.35 87.60v4.8M222.62 80.50h4.8M225.03 78.10v4.8M229.30 78.75h4.8M231.70 76.35v4.8M235.97 86.25h4.8M238.38 83.85v4.8M242.65 98.00h4.8M245.05 95.60v4.8M249.32 107.00h4.8M251.72 104.60v4.8M256.00 111.25h4.8M258.40 108.85v4.8M262.68 108.75h4.8M265.07 106.35v4.8M269.35 105.50h4.8M271.75 103.10v4.8M276.02 100.75h4.8M278.42 98.35v4.8M282.70 99.25h4.8M285.10 96.85v4.8M289.38 98.75h4.8M291.77 96.35v4.8M296.05 93.75h4.8M298.45 91.35v4.8M302.73 90.00h4.8M305.12 87.60v4.8M309.40 87.50h4.8M311.80 85.10v4.8M316.08 86.25h4.8M318.48 83.85v4.8M322.75 83.25h4.8M325.15 80.85v4.8M329.43 80.50h4.8M331.82 78.10v4.8M336.10 82.50h4.8M338.50 80.10v4.8M342.78 87.00h4.8M345.18 84.60v4.8M349.45 96.25h4.8M351.85 93.85v4.8M356.12 107.50h4.8M358.52 105.10v4.8M362.80 113.75h4.8M365.20 111.35v4.8M369.48 120.00h4.8M371.88 117.60v4.8M376.15 124.75h4.8M378.55 122.35v4.8M382.82 122.50h4.8M385.22 120.10v4.8M389.50 109.00h4.8M391.90 106.60v4.8M396.18 92.50h4.8M398.57 90.10v4.8M402.85 78.00h4.8M405.25 75.60v4.8M409.53 71.50h4.8M411.93 69.10v4.8M416.20 73.50h4.8M418.60 71.10v4.8M422.88 83.00h4.8M425.27 80.60v4.8M429.55 96.25h4.8M431.95 93.85v4.8M436.23 108.75h4.8M438.62 106.35v4.8M442.90 117.00h4.8M445.30 114.60v4.8M449.57 119.25h4.8M451.97 116.85v4.8M456.25 116.25h4.8M458.65 113.85v4.8M462.93 106.25h4.8M465.32 103.85v4.8M469.60 95.00h4.8M472.00 92.60v4.8M476.28 87.50h4.8M478.68 85.10v4.8M482.95 84.50h4.8M485.35 82.10v4.8M489.62 86.25h4.8M492.02 83.85v4.8M496.30 90.50h4.8M498.70 88.10v4.8M502.98 95.00h4.8M505.38 92.60v4.8M509.65 98.25h4.8M512.05 95.85v4.8M69.10 252.00h4.8M71.50 249.60v4.8M75.77 250.00h4.8M78.17 247.60v4.8M82.45 244.25h4.8M84.85 241.85v4.8M89.12 237.00h4.8M91.53 234.60v4.8M95.80 228.75h4.8M98.20 226.35v4.8M102.47 218.75h4.8M104.88 216.35v4.8M109.15 209.50h4.8M111.55 207.10v4.8M115.82 202.00h4.8M118.22 199.60v4.8M122.50 197.50h4.8M124.90 195.10v4.8M129.17 197.25h4.8M131.57 194.85v4.8M135.85 205.50h4.8M138.25 203.10v4.8M142.53 217.50h4.8M144.93 215.10v4.8M149.20 237.50h4.8M151.60 235.10v4.8M155.87 261.00h4.8M158.27 258.60v4.8M162.55 284.75h4.8M164.95 282.35v4.8M169.22 303.25h4.8M171.62 300.85v4.8M175.90 306.00h4.8M178.30 303.60v4.8M182.57 295.00h4.8M184.97 292.60v4.8M189.25 279.50h4.8M191.65 277.10v4.8M195.92 269.25h4.8M198.32 266.85v4.8M202.60 264.50h4.8M205.00 262.10v4.8M209.27 257.50h4.8M211.67 255.10v4.8M215.95 246.25h4.8M218.35 243.85v4.8M222.62 238.00h4.8M225.03 235.60v4.8M229.30 236.75h4.8M231.70 234.35v4.8M235.97 235.00h4.8M238.38 232.60v4.8M242.65 229.50h4.8M245.05 227.10v4.8M249.32 227.75h4.8M251.72 225.35v4.8M256.00 235.00h4.8M258.40 232.60v4.8M262.68 250.00h4.8M265.07 247.60v4.8M269.35 265.75h4.8M271.75 263.35v4.8M276.02 278.00h4.8M278.42 275.60v4.8M282.70 285.00h4.8M285.10 282.60v4.8M289.38 285.00h4.8M291.77 282.60v4.8M296.05 275.00h4.8M298.45 272.60v4.8M302.73 259.50h4.8M305.12 257.10v4.8M309.40 243.00h4.8M311.80 240.60v4.8M316.08 230.00h4.8M318.48 227.60v4.8M322.75 222.50h4.8M325.15 220.10v4.8M329.43 225.00h4.8M331.82 222.60v4.8M336.10 236.25h4.8M338.50 233.85v4.8M342.78 251.25h4.8M345.18 248.85v4.8M349.45 267.50h4.8M351.85 265.10v4.8M356.12 275.75h4.8M358.52 273.35v4.8M362.80 275.00h4.8M365.20 272.60v4.8M369.48 266.25h4.8M371.88 263.85v4.8M376.15 253.75h4.8M378.55 251.35v4.8M382.82 241.25h4.8M385.22 238.85v4.8M389.50 234.00h4.8M391.90 231.60v4.8M396.18 232.50h4.8M398.57 230.10v4.8M402.85 239.00h4.8M405.25 236.60v4.8M409.53 251.50h4.8M411.93 249.10v4.8M416.20 267.50h4.8M418.60 265.10v4.8M422.88 276.25h4.8M425.27 273.85v4.8M429.55 277.25h4.8M431.95 274.85v4.8M436.23 271.50h4.8M438.62 269.10v4.8M442.90 256.25h4.8M445.30 253.85v4.8M449.57 242.50h4.8M451.97 240.10v4.8M456.25 232.50h4.8M458.65 230.10v4.8M462.93 228.75h4.8M465.32 226.35v4.8M469.60 233.75h4.8M472.00 231.35v4.8M476.28 243.75h4.8M478.68 241.35v4.8M482.95 256.25h4.8M485.35 253.85v4.8M489.62 265.75h4.8M492.02 263.35v4.8M496.30 270.50h4.8M498.70 268.10v4.8M502.98 267.50h4.8M505.38 265.10v4.8M509.65 260.00h4.8M512.05 257.60v4.8M121.90 141.40h4.8M124.30 139.00v4.8M121.90 317.10h4.8M124.30 314.70v4.8"/>
<g fill="none" stroke="#d8242a" stroke-width="1.2" stroke-linejoin="round"><polyline points="71.5,8.8 73.0,8.6 74.5,8.6 76.0,8.6 77.5,8.7 79.0,8.8 80.5,9.1 82.0,9.3 83.5,9.7 85.0,10.0 86.5,10.5 88.0,11.0 89.5,11.6 91.0,12.2 92.5,13.0 94.0,13.9 95.5,14.9 97.0,16.0 98.5,17.3 100.0,18.7 101.5,20.3 103.0,22.0 104.5,23.8 106.0,25.7 107.5,27.6 109.0,29.8 110.5,32.0 112.0,34.5 113.5,37.2 115.0,40.2 116.5,43.4 118.0,46.9 119.5,50.8 121.0,54.8 122.5,59.1 124.0,63.5 125.5,68.1 127.0,72.7 128.5,77.5 130.0,82.3 131.5,87.3 133.0,92.3 134.5,97.3 136.0,102.3 137.5,107.0 139.0,111.4 140.5,115.4 142.0,118.9 143.5,121.7 145.0,123.8 146.5,125.2 148.0,126.0 149.5,126.4 151.0,126.6 152.5,127.0 154.0,127.4 155.5,128.0 157.0,128.8 158.5,129.6 160.0,130.6 161.5,131.6 163.0,132.7 164.5,133.9 166.0,135.1 167.5,136.3 169.0,137.5 170.5,138.7 172.0,139.8 173.5,140.7 175.0,141.5 176.5,141.7 178.0,141.4 179.5,140.4 181.0,138.6 182.5,136.4 184.0,133.8 185.5,131.0 187.0,128.1 188.5,125.2 190.0,122.6 191.5,120.2 193.0,118.3 194.5,116.8 196.0,115.7 197.5,114.9 199.0,114.2 200.5,113.8 202.0,113.5 203.5,113.3 205.0,113.2 206.5,113.2 208.0,113.2 209.5,113.2 211.0,113.2 212.5,113.3 214.0,113.3 215.5,113.2 217.0,112.9 218.5,112.4 220.0,111.7 221.5,110.9 223.0,109.9 224.5,109.0 226.0,108.3 227.5,107.7 229.0,107.4 230.5,107.3 232.0,107.6 233.5,108.1 235.0,109.0 236.5,110.1 238.0,111.4 239.5,112.9 241.0,114.5 242.5,116.3 244.0,118.0 245.5,119.8 247.0,121.4 248.5,122.9 250.0,124.3 251.5,125.6 253.0,126.6 254.5,127.6 256.0,128.5 257.5,129.4 259.0,130.4 260.5,131.6 262.0,133.0 263.5,134.5 265.0,136.2 266.5,138.0 268.0,139.8 269.5,141.7 271.0,143.5 272.5,145.2 274.0,146.7 275.5,148.0 277.0,149.2 278.5,150.2 280.0,151.2 281.5,152.0 283.0,152.8 284.5,153.6 286.0,154.6 287.5,155.5 289.0,156.6 290.5,157.7 292.0,158.9 293.5,160.0 295.0,161.1 296.5,162.1 298.0,162.9 299.5,163.5 301.0,163.8 302.5,163.8 304.0,163.7 305.5,163.4 307.0,163.0 308.5,162.4 310.0,161.7 311.5,160.8 313.0,159.8 314.5,158.7 316.0,157.6 317.5,156.5 319.0,155.5 320.5,154.6 322.0,154.0 323.5,153.5 325.0,153.4 326.5,153.6 328.0,154.0 329.5,154.8 331.0,155.8 332.5,157.1 334.0,158.6 335.5,160.1 337.0,161.7 338.5,163.2 340.0,164.6 341.5,165.8 343.0,166.8 344.5,167.5 346.0,168.1 347.5,168.3 349.0,168.3 350.5,168.0 352.0,167.3 353.5,166.3 355.0,165.1 356.5,163.7 358.0,162.1 359.5,160.4 361.0,158.8 362.5,157.3 364.0,155.9 365.5,154.8 367.0,154.0 368.5,153.6 370.0,153.4 371.5,153.6 373.0,154.2 374.5,155.0 376.0,156.1 377.5,157.3 379.0,158.7 380.5,160.1 382.0,161.6 383.5,163.0 385.0,164.3 386.5,165.4 388.0,166.4 389.5,167.2 391.0,167.9 392.5,168.5 394.0,168.9 395.5,169.3 397.0,169.6 398.5,169.7 400.0,169.8 401.5,169.7 403.0,169.5 404.5,169.2 406.0,168.8 407.5,168.4 409.0,168.0 410.5,167.6 412.0,167.5 413.5,167.6 415.0,167.8 416.5,168.2 418.0,168.6 419.5,169.0 421.0,169.4 422.5,169.7 424.0,170.0 425.5,170.3 427.0,170.6 428.5,170.8 430.0,170.9 431.5,171.0 433.0,170.9 434.5,170.8 436.0,170.5 437.5,170.1 439.0,169.6 440.5,169.1 442.0,168.5 443.5,167.8 445.0,167.1 446.5,166.4 448.0,165.7 449.5,165.1 451.0,164.7 452.5,164.5 454.0,164.5 455.5,164.8 457.0,165.2 458.5,165.7 460.0,166.3 461.5,166.9 463.0,167.6 464.5,168.3 466.0,169.1 467.5,169.9 469.0,170.7 470.5,171.4 472.0,172.0 473.5,172.5 475.0,172.9 476.5,173.1 478.0,173.2 479.5,173.2 481.0,173.1 482.5,172.9 484.0,172.7 485.5,172.5 487.0,172.3 488.5,172.2 490.0,172.0 491.5,171.8 493.0,171.6 494.5,171.4 496.0,171.1 497.5,170.9 499.0,170.7 500.5,170.6 502.0,170.6 503.5,170.7 505.0,170.7 506.5,170.8 508.0,170.9 509.5,171.1 511.0,171.2 512.5,171.3 514.0,171.4 515.5,171.5 516.5,171.5"/><polyline points="71.5,80.0 73.0,80.0 74.5,80.1 76.0,80.2 77.5,80.4 79.0,80.6 80.5,80.9 82.0,81.2 83.5,81.6 85.0,82.0 86.5,82.5 88.0,83.1 89.5,83.7 91.0,84.5 92.5,85.3 94.0,86.2 95.5,87.3 97.0,88.5 98.5,89.8 100.0,91.2 101.5,92.6 103.0,94.1 104.5,95.6 106.0,97.1 107.5,98.4 109.0,99.8 110.5,101.1 112.0,102.4 113.5,103.7 115.0,104.9 116.5,106.2 118.0,107.3 119.5,108.4 121.0,109.3 122.5,110.1 124.0,110.6 125.5,110.8 127.0,110.7 128.5,110.2 130.0,109.5 131.5,108.6 133.0,107.4 134.5,105.8 136.0,103.9 137.5,101.5 139.0,98.4 140.5,94.7 142.0,90.7 143.5,86.5 145.0,82.3 146.5,78.3 148.0,74.6 149.5,71.2 151.0,68.3 152.5,65.8 154.0,63.9 155.5,62.5 157.0,61.6 158.5,61.2 160.0,61.4 161.5,62.1 163.0,63.3 164.5,64.9 166.0,67.0 167.5,69.4 169.0,72.2 170.5,75.3 172.0,78.6 173.5,82.2 175.0,85.9 176.5,89.6 178.0,93.3 179.5,96.8 181.0,100.2 182.5,103.3 184.0,106.1 185.5,108.6 187.0,110.8 188.5,112.6 190.0,114.2 191.5,115.4 193.0,116.3 194.5,117.0 196.0,117.3 197.5,117.4 199.0,117.1 200.5,116.5 202.0,115.6 203.5,114.4 205.0,113.0 206.5,111.4 208.0,109.5 209.5,107.4 211.0,105.0 212.5,102.2 214.0,99.1 215.5,95.9 217.0,92.7 218.5,89.7 220.0,87.0 221.5,84.7 223.0,82.7 224.5,81.0 226.0,79.7 227.5,78.8 229.0,78.4 230.5,78.4 232.0,78.9 233.5,80.0 235.0,81.5 236.5,83.4 238.0,85.6 239.5,88.1 241.0,90.8 242.5,93.5 244.0,96.2 245.5,98.7 247.0,101.0 248.5,103.1 250.0,105.1 251.5,106.8 253.0,108.3 254.5,109.6 256.0,110.5 257.5,111.1 259.0,111.2 260.5,110.9 262.0,110.3 263.5,109.6 265.0,108.8 266.5,108.1 268.0,107.4 269.5,106.7 271.0,106.0 272.5,105.0 274.0,103.9 275.5,102.7 277.0,101.6 278.5,100.7 280.0,100.0 281.5,99.6 283.0,99.3 284.5,99.2 286.0,99.3 287.5,99.4 289.0,99.4 290.5,99.2 292.0,98.6 293.5,97.8 295.0,96.6 296.5,95.4 298.0,94.1 299.5,93.0 301.0,92.1 302.5,91.2 304.0,90.5 305.5,89.8 307.0,89.2 308.5,88.6 310.0,88.0 311.5,87.6 313.0,87.2 314.5,87.0 316.0,86.8 317.5,86.5 319.0,86.1 320.5,85.6 322.0,84.9 323.5,84.1 325.0,83.3 326.5,82.5 328.0,81.7 329.5,81.0 331.0,80.6 332.5,80.5 334.0,80.7 335.5,81.1 337.0,81.8 338.5,82.5 340.0,83.3 341.5,84.1 343.0,85.1 344.5,86.4 346.0,87.9 347.5,89.7 349.0,91.7 350.5,94.0 352.0,96.5 353.5,99.2 355.0,101.9 356.5,104.5 358.0,106.8 359.5,108.7 361.0,110.3 362.5,111.6 364.0,112.8 365.5,114.0 367.0,115.3 368.5,116.8 370.0,118.2 371.5,119.6 373.0,121.0 374.5,122.3 376.0,123.4 377.5,124.3 379.0,124.9 380.5,125.1 382.0,124.9 383.5,124.2 385.0,122.8 386.5,120.7 388.0,117.9 389.5,114.7 391.0,111.2 392.5,107.5 394.0,103.8 395.5,100.1 397.0,96.4 398.5,92.7 400.0,89.0 401.5,85.5 403.0,82.2 404.5,79.3 406.0,76.8 407.5,74.8 409.0,73.2 410.5,72.1 412.0,71.5 413.5,71.2 415.0,71.4 416.5,72.0 418.0,73.0 419.5,74.4 421.0,76.2 422.5,78.3 424.0,80.8 425.5,83.4 427.0,86.3 428.5,89.2 430.0,92.3 431.5,95.3 433.0,98.4 434.5,101.3 436.0,104.2 437.5,106.9 439.0,109.4 440.5,111.6 442.0,113.6 443.5,115.4 445.0,116.8 446.5,117.8 448.0,118.6 449.5,119.0 451.0,119.2 452.5,119.2 454.0,119.0 455.5,118.5 457.0,117.6 458.5,116.4 460.0,114.7 461.5,112.6 463.0,110.3 464.5,107.7 466.0,105.1 467.5,102.4 469.0,99.8 470.5,97.3 472.0,95.0 473.5,92.9 475.0,91.1 476.5,89.5 478.0,88.1 479.5,86.9 481.0,85.9 482.5,85.2 484.0,84.7 485.5,84.5 487.0,84.5 488.5,84.8 490.0,85.3 491.5,86.0 493.0,86.8 494.5,87.7 496.0,88.6 497.5,89.7 499.0,90.7 500.5,91.8 502.0,92.8 503.5,93.8 505.0,94.8 506.5,95.7 508.0,96.5 509.5,97.2 511.0,97.8 512.5,98.4 514.0,98.9 515.5,99.3 516.5,99.5"/><polyline points="71.5,90.0 73.0,90.1 74.5,90.1 76.0,90.1 77.5,90.0 79.0,89.9 80.5,89.8 82.0,89.7 83.5,89.6 85.0,89.5 86.5,89.4 88.0,89.4 89.5,89.3 91.0,89.3 92.5,89.2 94.0,89.1 95.5,89.0 97.0,88.9 98.5,88.7 100.0,88.5 101.5,88.4 103.0,88.2 104.5,88.0 106.0,87.9 107.5,87.8 109.0,87.7 110.5,87.6 112.0,87.5 113.5,87.3 115.0,87.2 116.5,87.0 118.0,86.8 119.5,86.6 121.0,86.4 122.5,86.1 124.0,85.9 125.5,85.6 127.0,85.4 128.5,85.1 130.0,84.8 131.5,84.5 133.0,84.2 134.5,83.9 136.0,83.6 137.5,83.2 139.0,82.8 140.5,82.4 142.0,82.1 143.5,81.9 145.0,82.0 146.5,82.4 148.0,83.0 149.5,83.7 151.0,84.6 152.5,85.6 154.0,86.5 155.5,87.5 157.0,88.4 158.5,89.4 160.0,90.3 161.5,91.2 163.0,92.0 164.5,92.8 166.0,93.4 167.5,94.0 169.0,94.4 170.5,94.8 172.0,95.1 173.5,95.2 175.0,95.3 176.5,95.2 178.0,95.0 179.5,94.8 181.0,94.4 182.5,94.0 184.0,93.5 185.5,93.1 187.0,92.7 188.5,92.3 190.0,91.9 191.5,91.3 193.0,90.6 194.5,89.8 196.0,88.9 197.5,88.0 199.0,87.1 200.5,86.2 202.0,85.3 203.5,84.5 205.0,83.8 206.5,83.0 208.0,82.4 209.5,81.9 211.0,81.4 212.5,81.1 214.0,80.9 215.5,80.7 217.0,80.7 218.5,80.8 220.0,80.9 221.5,81.1 223.0,81.4 224.5,81.8 226.0,82.4 227.5,83.0 229.0,83.8 230.5,84.5 232.0,85.1 233.5,85.7 235.0,86.1 236.5,86.5 238.0,86.7 239.5,86.9 241.0,86.9 242.5,86.9 244.0,86.8 245.5,86.7 247.0,86.5 248.5,86.3 250.0,86.0 251.5,85.8 253.0,85.5 254.5,85.3 256.0,85.0 257.5,84.7 259.0,84.4 260.5,84.0 262.0,83.6 263.5,83.3 265.0,83.0 266.5,82.8 268.0,82.7 269.5,82.6 271.0,82.6 272.5,82.4 274.0,82.3 275.5,82.2 277.0,82.0 278.5,82.0 280.0,82.0 281.5,82.2 283.0,82.3 284.5,82.4 286.0,82.6 287.5,82.6 289.0,82.7 290.5,82.9 292.0,83.0 293.5,83.3 295.0,83.6 296.5,84.0 298.0,84.4 299.5,84.8 301.0,85.2 302.5,85.6 304.0,86.0 305.5,86.3 307.0,86.7 308.5,87.0 310.0,87.3 311.5,87.5 313.0,87.6 314.5,87.6 316.0,87.6 317.5,87.6 319.0,87.8 320.5,88.1 322.0,88.5 323.5,89.0 325.0,89.5 326.5,89.9 328.0,90.3 329.5,90.6 331.0,91.0 332.5,91.4 334.0,91.9 335.5,92.3 337.0,92.8 338.5,93.2 340.0,93.7 341.5,94.1 343.0,94.5 344.5,94.9 346.0,95.2 347.5,95.4 349.0,95.6 350.5,95.7 352.0,95.7 353.5,95.7 355.0,95.5 356.5,95.3 358.0,95.1 359.5,94.8 361.0,94.6 362.5,94.3 364.0,94.0 365.5,93.7 367.0,93.3 368.5,92.9 370.0,92.4 371.5,91.9 373.0,91.3 374.5,90.7 376.0,90.0 377.5,89.3 379.0,88.5 380.5,87.6 382.0,86.7 383.5,85.9 385.0,85.1 386.5,84.4 388.0,83.9 389.5,83.5 391.0,83.1 392.5,82.9 394.0,82.8 395.5,82.8 397.0,82.8 398.5,83.0 400.0,83.3 401.5,83.6 403.0,84.1 404.5,84.7 406.0,85.4 407.5,86.1 409.0,87.0 410.5,87.9 412.0,88.8 413.5,89.7 415.0,90.6 416.5,91.4 418.0,92.2 419.5,92.9 421.0,93.5 422.5,94.1 424.0,94.6 425.5,95.1 427.0,95.5 428.5,95.9 430.0,96.1 431.5,96.3 433.0,96.2 434.5,95.9 436.0,95.6 437.5,95.1 439.0,94.6 440.5,94.2 442.0,93.7 443.5,93.2 445.0,92.6 446.5,92.0 448.0,91.3 449.5,90.6 451.0,89.9 452.5,89.3 454.0,88.7 455.5,88.1 457.0,87.5 458.5,87.0 460.0,86.6 461.5,86.2 463.0,85.8 464.5,85.6 466.0,85.5 467.5,85.4 469.0,85.5 470.5,85.6 472.0,85.8 473.5,85.9 475.0,86.2 476.5,86.4 478.0,86.8 479.5,87.3 481.0,87.8 482.5,88.4 484.0,89.0 485.5,89.6 487.0,90.0 488.5,90.5 490.0,90.8 491.5,91.2 493.0,91.4 494.5,91.6 496.0,91.8 497.5,91.9 499.0,92.0 500.5,92.1 502.0,92.1 503.5,92.1 505.0,92.0 506.5,91.9 508.0,91.7 509.5,91.6 511.0,91.4 512.5,91.2 514.0,91.1 515.5,91.0 516.5,91.0"/><polyline points="71.5,178.8 73.0,178.8 74.5,178.9 76.0,179.0 77.5,179.2 79.0,179.4 80.5,179.6 82.0,179.9 83.5,180.3 85.0,180.8 86.5,181.4 88.0,182.1 89.5,183.0 91.0,183.9 92.5,184.9 94.0,186.1 95.5,187.4 97.0,188.8 98.5,190.3 100.0,192.0 101.5,193.8 103.0,195.7 104.5,197.7 106.0,199.9 107.5,202.1 109.0,204.5 110.5,206.9 112.0,209.5 113.5,212.3 115.0,215.2 116.5,218.3 118.0,221.5 119.5,224.9 121.0,228.6 122.5,232.4 124.0,236.3 125.5,240.4 127.0,244.6 128.5,249.0 130.0,253.4 131.5,258.0 133.0,262.7 134.5,267.4 136.0,272.2 137.5,277.1 139.0,281.9 140.5,286.8 142.0,291.6 143.5,296.3 145.0,301.0 146.5,305.6 148.0,310.0 149.5,314.2 151.0,318.0 152.5,321.6 154.0,324.7 155.5,327.5 157.0,330.1 158.5,332.3 160.0,334.3 161.5,336.0 163.0,337.3 164.5,338.1 166.0,338.4 167.5,338.1 169.0,337.3 170.5,336.1 172.0,334.6 173.5,332.9 175.0,331.0 176.5,329.1 178.0,327.3 179.5,325.8 181.0,324.5 182.5,323.4 184.0,322.5 185.5,321.8 187.0,321.2 188.5,320.8 190.0,320.6 191.5,320.5 193.0,320.6 194.5,320.8 196.0,321.2 197.5,321.8 199.0,322.6 200.5,323.7 202.0,324.9 203.5,326.4 205.0,328.2 206.5,330.3 208.0,332.7 209.5,335.1 211.0,337.6 212.5,340.1 214.0,342.4 215.5,344.1 217.0,345.1 218.5,344.9 220.0,343.6 221.5,341.3 223.0,338.5 224.5,335.5 226.0,332.7 227.5,330.2 229.0,328.0 230.5,326.2 232.0,324.7 233.5,323.6 235.0,322.9 236.5,322.5 238.0,322.5 239.5,322.7 241.0,323.3 242.5,324.2 244.0,325.3 245.5,326.7 247.0,328.3 248.5,330.1 250.0,332.0 251.5,334.0 253.0,335.8 254.5,337.6 256.0,339.2 257.5,340.6 259.0,341.6 260.5,342.4 262.0,342.9 263.5,343.2 265.0,343.3 266.5,343.2 268.0,342.9 269.5,342.5 271.0,342.0 272.5,341.4 274.0,340.7 275.5,340.0 277.0,339.3 278.5,338.7 280.0,338.2 281.5,337.9 283.0,337.8 284.5,337.9 286.0,338.3 287.5,339.0 289.0,339.8 290.5,340.8 292.0,341.9 293.5,343.0 295.0,343.9 296.5,344.8 298.0,345.4 299.5,345.7 301.0,345.7 302.5,345.4 304.0,345.0 305.5,344.3 307.0,343.5 308.5,342.6 310.0,341.6 311.5,340.7 313.0,339.8 314.5,338.9 316.0,338.1 317.5,337.4 319.0,336.8 320.5,336.3 322.0,335.9 323.5,335.7 325.0,335.7 326.5,336.1 328.0,336.6 329.5,337.4 331.0,338.2 332.5,339.2 334.0,340.1 335.5,341.0 337.0,341.8 338.5,342.5 340.0,343.1 341.5,343.4 343.0,343.7 344.5,343.8 346.0,343.7 347.5,343.5 349.0,343.2 350.5,342.8 352.0,342.5 353.5,342.2 355.0,342.0 356.5,341.9 358.0,341.9 359.5,342.2 361.0,342.6 362.5,343.2 364.0,343.9 365.5,344.7 367.0,345.5 368.5,346.4 370.0,347.2 371.5,347.9 373.0,348.3 374.5,348.6 376.0,348.7 377.5,348.5 379.0,348.1 380.5,347.5 382.0,346.8 383.5,345.9 385.0,345.1 386.5,344.4 388.0,343.7 389.5,343.2 391.0,342.9 392.5,342.7 394.0,342.7 395.5,342.9 397.0,343.1 398.5,343.5 400.0,343.9 401.5,344.3 403.0,344.8 404.5,345.2 406.0,345.8 407.5,346.3 409.0,346.8 410.5,347.3 412.0,347.8 413.5,348.1 415.0,348.4 416.5,348.6 418.0,348.7 419.5,348.7 421.0,348.6 422.5,348.4 424.0,348.2 425.5,348.0 427.0,347.7 428.5,347.5 430.0,347.3 431.5,347.3 433.0,347.3 434.5,347.4 436.0,347.6 437.5,347.8 439.0,348.1 440.5,348.3 442.0,348.6 443.5,348.7 445.0,348.8 446.5,348.6 448.0,348.3 449.5,347.9 451.0,347.4 452.5,346.8 454.0,346.2 455.5,345.6 457.0,345.0 458.5,344.5 460.0,344.2 461.5,343.9 463.0,343.8 464.5,343.7 466.0,343.8 467.5,344.0 469.0,344.2 470.5,344.6 472.0,345.0 473.5,345.5 475.0,345.9 476.5,346.4 478.0,346.8 479.5,347.2 481.0,347.4 482.5,347.6 484.0,347.7 485.5,347.8 487.0,347.8 488.5,347.8 490.0,347.8 491.5,347.8 493.0,347.8 494.5,347.8 496.0,347.9 497.5,347.9 499.0,348.0 500.5,348.2 502.0,348.3 503.5,348.5 505.0,348.7 506.5,348.8 508.0,348.9 509.5,349.1 511.0,349.1 512.5,349.2 514.0,349.3 515.5,349.3 516.5,349.3"/><polyline points="71.5,252.0 73.0,252.0 74.5,251.7 76.0,251.2 77.5,250.4 79.0,249.4 80.5,248.3 82.0,247.0 83.5,245.6 85.0,244.1 86.5,242.5 88.0,240.9 89.5,239.3 91.0,237.6 92.5,235.9 94.0,234.1 95.5,232.3 97.0,230.4 98.5,228.3 100.0,226.2 101.5,223.9 103.0,221.6 104.5,219.3 106.0,217.1 107.5,214.9 109.0,212.9 110.5,210.9 112.0,208.9 113.5,207.1 115.0,205.3 116.5,203.7 118.0,202.2 119.5,200.9 121.0,199.8 122.5,198.8 124.0,197.9 125.5,197.2 127.0,196.7 128.5,196.4 130.0,196.6 131.5,197.2 133.0,198.4 134.5,200.1 136.0,202.1 137.5,204.4 139.0,206.6 140.5,209.0 142.0,211.5 143.5,214.4 145.0,217.7 146.5,221.5 148.0,225.8 149.5,230.5 151.0,235.5 152.5,240.6 154.0,245.8 155.5,251.1 157.0,256.4 158.5,261.8 160.0,267.2 161.5,272.6 163.0,278.0 164.5,283.2 166.0,288.3 167.5,293.1 169.0,297.4 170.5,301.0 172.0,303.9 173.5,305.8 175.0,306.7 176.5,306.9 178.0,306.2 179.5,304.8 181.0,302.8 182.5,300.2 184.0,297.1 185.5,293.8 187.0,290.3 188.5,286.7 190.0,283.1 191.5,279.8 193.0,276.8 194.5,274.2 196.0,272.0 197.5,270.1 199.0,268.6 200.5,267.4 202.0,266.4 203.5,265.5 205.0,264.5 206.5,263.3 208.0,262.0 209.5,260.3 211.0,258.5 212.5,256.3 214.0,253.8 215.5,251.2 217.0,248.6 218.5,246.0 220.0,243.6 221.5,241.5 223.0,239.7 224.5,238.4 226.0,237.5 227.5,237.0 229.0,236.8 230.5,236.8 232.0,236.7 233.5,236.6 235.0,236.4 236.5,235.9 238.0,235.2 239.5,234.2 241.0,233.0 242.5,231.6 244.0,230.3 245.5,229.2 247.0,228.3 248.5,227.7 250.0,227.5 251.5,227.7 253.0,228.4 254.5,229.6 256.0,231.3 257.5,233.5 259.0,236.1 260.5,239.2 262.0,242.5 263.5,246.1 265.0,249.8 266.5,253.5 268.0,257.1 269.5,260.7 271.0,264.1 272.5,267.3 274.0,270.4 275.5,273.2 277.0,275.8 278.5,278.1 280.0,280.2 281.5,281.9 283.0,283.4 284.5,284.6 286.0,285.5 287.5,286.0 289.0,286.1 290.5,285.8 292.0,284.8 293.5,283.3 295.0,281.2 296.5,278.8 298.0,275.9 299.5,272.8 301.0,269.5 302.5,266.0 304.0,262.3 305.5,258.6 307.0,254.8 308.5,251.0 310.0,247.3 311.5,243.7 313.0,240.3 314.5,237.2 316.0,234.3 317.5,231.6 319.0,229.2 320.5,226.9 322.0,225.0 323.5,223.6 325.0,222.6 326.5,222.1 328.0,222.3 329.5,222.9 331.0,224.1 332.5,225.8 334.0,228.0 335.5,230.5 337.0,233.3 338.5,236.2 340.0,239.4 341.5,242.6 343.0,246.0 344.5,249.6 346.0,253.3 347.5,257.2 349.0,261.0 350.5,264.6 352.0,267.8 353.5,270.5 355.0,272.6 356.5,274.3 358.0,275.4 359.5,276.2 361.0,276.5 362.5,276.4 364.0,275.8 365.5,274.8 367.0,273.3 368.5,271.4 370.0,269.3 371.5,266.9 373.0,264.3 374.5,261.6 376.0,258.8 377.5,255.8 379.0,252.8 380.5,249.8 382.0,246.9 383.5,244.1 385.0,241.6 386.5,239.4 388.0,237.5 389.5,236.0 391.0,234.7 392.5,233.6 394.0,232.8 395.5,232.3 397.0,232.2 398.5,232.5 400.0,233.2 401.5,234.4 403.0,236.0 404.5,237.9 406.0,240.1 407.5,242.6 409.0,245.3 410.5,248.3 412.0,251.7 413.5,255.3 415.0,259.1 416.5,262.8 418.0,266.2 419.5,269.2 421.0,271.7 422.5,273.7 424.0,275.3 425.5,276.4 427.0,277.1 428.5,277.5 430.0,277.6 431.5,277.4 433.0,276.9 434.5,276.1 436.0,274.9 437.5,273.2 439.0,270.8 440.5,267.8 442.0,264.4 443.5,260.7 445.0,257.0 446.5,253.5 448.0,250.2 449.5,247.1 451.0,244.3 452.5,241.6 454.0,239.0 455.5,236.7 457.0,234.5 458.5,232.7 460.0,231.1 461.5,229.9 463.0,229.1 464.5,228.7 466.0,228.9 467.5,229.5 469.0,230.6 470.5,232.0 472.0,233.8 473.5,235.7 475.0,237.8 476.5,240.1 478.0,242.6 479.5,245.3 481.0,248.1 482.5,251.0 484.0,253.8 485.5,256.5 487.0,259.0 488.5,261.2 490.0,263.3 491.5,265.1 493.0,266.8 494.5,268.3 496.0,269.4 497.5,270.2 499.0,270.5 500.5,270.4 502.0,269.8 503.5,269.0 505.0,267.8 506.5,266.5 508.0,265.0 509.5,263.3 511.0,261.4 512.5,259.3 514.0,257.0 515.5,254.4 516.5,252.5"/><polyline points="71.5,263.2 73.0,263.7 74.5,264.2 76.0,264.5 77.5,264.9 79.0,265.2 80.5,265.4 82.0,265.7 83.5,266.0 85.0,266.3 86.5,266.6 88.0,266.9 89.5,267.2 91.0,267.4 92.5,267.6 94.0,267.8 95.5,267.9 97.0,268.1 98.5,268.3 100.0,268.6 101.5,268.9 103.0,269.2 104.5,269.4 106.0,269.6 107.5,269.8 109.0,269.9 110.5,269.9 112.0,270.0 113.5,270.1 115.0,270.3 116.5,270.5 118.0,270.7 119.5,271.0 121.0,271.4 122.5,271.8 124.0,272.2 125.5,272.7 127.0,273.1 128.5,273.5 130.0,274.0 131.5,274.5 133.0,275.0 134.5,275.6 136.0,276.2 137.5,276.8 139.0,277.2 140.5,277.5 142.0,277.8 143.5,277.9 145.0,278.0 146.5,278.0 148.0,278.0 149.5,278.0 151.0,278.0 152.5,278.0 154.0,278.0 155.5,277.9 157.0,277.8 158.5,277.4 160.0,277.0 161.5,276.3 163.0,275.6 164.5,274.8 166.0,273.9 167.5,273.0 169.0,272.0 170.5,270.9 172.0,269.7 173.5,268.4 175.0,267.0 176.5,265.7 178.0,264.5 179.5,263.4 181.0,262.5 182.5,261.7 184.0,261.0 185.5,260.3 187.0,259.6 188.5,259.0 190.0,258.5 191.5,258.0 193.0,257.7 194.5,257.5 196.0,257.4 197.5,257.3 199.0,257.2 200.5,257.1 202.0,257.0 203.5,256.9 205.0,256.8 206.5,256.7 208.0,256.6 209.5,256.5 211.0,256.5 212.5,256.5 214.0,256.5 215.5,256.5 217.0,256.6 218.5,256.8 220.0,257.0 221.5,257.2 223.0,257.5 224.5,257.9 226.0,258.3 227.5,258.7 229.0,259.1 230.5,259.6 232.0,260.1 233.5,260.6 235.0,261.0 236.5,261.5 238.0,261.9 239.5,262.3 241.0,262.7 242.5,263.0 244.0,263.4 245.5,263.9 247.0,264.4 248.5,265.0 250.0,265.5 251.5,266.2 253.0,266.8 254.5,267.4 256.0,267.9 257.5,268.5 259.0,268.9 260.5,269.3 262.0,269.6 263.5,269.9 265.0,270.0 266.5,270.1 268.0,270.0 269.5,269.9 271.0,269.7 272.5,269.3 274.0,268.9 275.5,268.3 277.0,267.7 278.5,267.0 280.0,266.2 281.5,265.3 283.0,264.4 284.5,263.6 286.0,262.8 287.5,262.0 289.0,261.3 290.5,260.6 292.0,259.9 293.5,259.1 295.0,258.4 296.5,257.7 298.0,257.1 299.5,256.7 301.0,256.5 302.5,256.3 304.0,256.3 305.5,256.2 307.0,256.2 308.5,256.2 310.0,256.3 311.5,256.5 313.0,256.7 314.5,257.2 316.0,257.7 317.5,258.3 319.0,259.0 320.5,259.8 322.0,260.6 323.5,261.5 325.0,262.4 326.5,263.3 328.0,264.2 329.5,265.0 331.0,265.8 332.5,266.6 334.0,267.2 335.5,267.8 337.0,268.3 338.5,268.8 340.0,269.1 341.5,269.4 343.0,269.5 344.5,269.5 346.0,269.4 347.5,269.1 349.0,268.6 350.5,268.1 352.0,267.4 353.5,266.8 355.0,266.0 356.5,265.3 358.0,264.5 359.5,263.7 361.0,262.9 362.5,262.1 364.0,261.3 365.5,260.6 367.0,259.9 368.5,259.3 370.0,258.8 371.5,258.3 373.0,258.0 374.5,257.7 376.0,257.6 377.5,257.5 379.0,257.5 380.5,257.7 382.0,257.9 383.5,258.2 385.0,258.7 386.5,259.2 388.0,259.8 389.5,260.5 391.0,261.1 392.5,261.8 394.0,262.4 395.5,263.0 397.0,263.6 398.5,264.2 400.0,264.9 401.5,265.6 403.0,266.3 404.5,267.0 406.0,267.5 407.5,268.0 409.0,268.3 410.5,268.6 412.0,268.8 413.5,268.9 415.0,268.8 416.5,268.7 418.0,268.4 419.5,267.9 421.0,267.3 422.5,266.5 424.0,265.7 425.5,264.9 427.0,264.1 428.5,263.3 430.0,262.5 431.5,261.7 433.0,261.0 434.5,260.2 436.0,259.6 437.5,258.9 439.0,258.4 440.5,257.9 442.0,257.5 443.5,257.2 445.0,257.0 446.5,256.9 448.0,256.9 449.5,257.0 451.0,257.2 452.5,257.7 454.0,258.3 455.5,259.0 457.0,259.7 458.5,260.4 460.0,261.1 461.5,261.7 463.0,262.3 464.5,262.9 466.0,263.5 467.5,264.2 469.0,264.9 470.5,265.6 472.0,266.2 473.5,266.8 475.0,267.3 476.5,267.6 478.0,267.9 479.5,268.1 481.0,268.2 482.5,268.2 484.0,268.1 485.5,268.0 487.0,267.7 488.5,267.4 490.0,267.0 491.5,266.4 493.0,265.9 494.5,265.2 496.0,264.5 497.5,263.8 499.0,263.1 500.5,262.5 502.0,261.9 503.5,261.3 505.0,260.9 506.5,260.5 508.0,260.1 509.5,259.9 511.0,259.6 512.5,259.4 514.0,259.3 515.5,259.1 516.5,259.0"/></g>
</svg></body></html>
